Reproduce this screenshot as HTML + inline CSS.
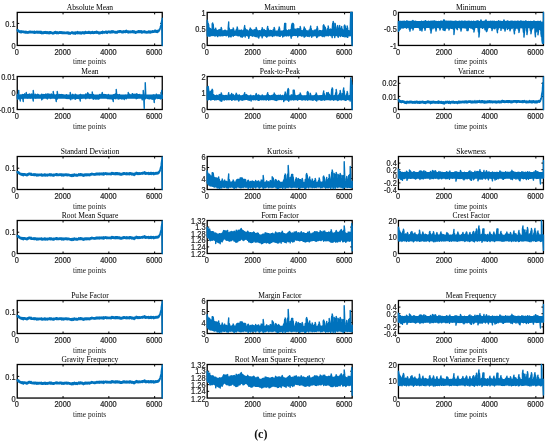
<!DOCTYPE html>
<html><head><meta charset="utf-8"><title>Figure (c)</title>
<style>
html,body{margin:0;padding:0;background:#fff;}
svg{display:block;}
.t{font-family:"Liberation Sans",sans-serif;font-size:7.4px;fill:#262626;stroke:#262626;stroke-width:0.2;}
.ti{font-family:"Liberation Serif",serif;font-size:7.55px;fill:#000;text-anchor:middle;}
.xl{font-family:"Liberation Serif",serif;font-size:7.4px;fill:#1a1a1a;text-anchor:middle;}
.ax{fill:none;stroke:#000;stroke-width:1.3;}
.tk{stroke:#000;stroke-width:1;fill:none;}
.b{fill:none;stroke:#0072BD;stroke-width:1.4;stroke-linejoin:round;stroke-linecap:round;}
.l{fill:none;stroke:#0072BD;stroke-width:1.4;stroke-linejoin:round;stroke-linecap:butt;}
.cap{font-family:"Liberation Serif",serif;font-weight:bold;font-size:12px;fill:#111;text-anchor:middle;}
</style></head>
<body>
<svg width="550" height="445" viewBox="0 0 550 445">
<rect x="0" y="0" width="550" height="445" fill="#ffffff"/>
<g>
<rect class="ax" x="17.25" y="12.40" width="145.00" height="33.05"/>
<text class="t" text-anchor="middle" transform="translate(16.85 54.85) scale(1 1.12)">0</text>
<text class="t" text-anchor="middle" transform="translate(62.65 54.85) scale(1 1.12)">2000</text>
<text class="t" text-anchor="middle" transform="translate(108.45 54.85) scale(1 1.12)">4000</text>
<text class="t" text-anchor="middle" transform="translate(154.25 54.85) scale(1 1.12)">6000</text>
<text class="t" text-anchor="end" transform="translate(15.55 49.40) scale(1 1.12)">0</text>
<text class="t" text-anchor="end" transform="translate(15.55 26.57) scale(1 1.12)">0.1</text>
<path class="tk" d="M63.05 45.45 v-2 M63.05 12.40 v2 M108.85 45.45 v-2 M108.85 12.40 v2 M154.65 45.45 v-2 M154.65 12.40 v2 M17.25 23.42 h2 M162.25 23.42 h-2"/>
<path class="l" d="M17.25 31.32 L17.25 29.50 L17.75 29.77 L17.75 31.57 L18.25 31.53 L18.25 30.03 L18.75 30.30 L18.75 31.71 L19.25 32.24 L19.25 30.94 L19.75 30.96 L19.75 32.28 L20.25 32.64 L20.25 30.93 L20.75 31.02 L20.75 32.33 L21.25 32.78 L21.25 30.81 L21.75 31.03 L21.75 32.56 L22.25 32.41 L22.25 31.04 L22.75 31.22 L22.75 32.43 L23.25 32.62 L23.25 31.29 L23.75 31.25 L23.75 32.66 L24.25 32.86 L24.25 31.45 L24.75 31.51 L24.75 32.88 L25.25 32.99 L25.25 31.76 L25.75 31.27 L25.75 32.98 L26.25 32.79 L26.25 31.47 L26.75 31.58 L26.75 32.96 L27.25 33.23 L27.25 31.68 L27.75 31.83 L27.75 33.14 L28.25 33.09 L28.25 31.91 L28.75 31.46 L28.75 32.98 L29.25 32.91 L29.25 31.32 L29.75 31.11 L29.75 32.85 L30.25 32.67 L30.25 31.53 L30.75 31.20 L30.75 32.92 L31.25 32.66 L31.25 31.36 L31.75 31.45 L31.75 32.77 L32.25 32.76 L32.25 31.33 L32.75 31.52 L32.75 32.90 L33.25 32.99 L33.25 31.49 L33.75 31.77 L33.75 33.12 L34.25 33.02 L34.25 31.12 L34.75 31.57 L34.75 33.38 L35.25 33.02 L35.25 31.64 L35.75 31.59 L35.75 32.98 L36.25 32.71 L36.25 31.31 L36.75 31.33 L36.75 33.10 L37.25 33.14 L37.25 31.68 L37.75 31.33 L37.75 32.90 L38.25 33.11 L38.25 31.73 L38.75 31.44 L38.75 33.14 L39.25 32.96 L39.25 31.39 L39.75 31.33 L39.75 32.86 L40.25 33.31 L40.25 31.32 L40.75 31.60 L40.75 33.12 L41.25 33.29 L41.25 31.42 L41.75 31.64 L41.75 33.81 L42.25 33.66 L42.25 32.00 L42.75 32.12 L42.75 33.49 L43.25 33.49 L43.25 32.20 L43.75 31.73 L43.75 33.49 L44.25 33.14 L44.25 31.73 L44.75 32.01 L44.75 33.28 L45.25 33.13 L45.25 31.55 L45.75 31.81 L45.75 33.07 L46.25 33.39 L46.25 31.62 L46.75 31.81 L46.75 33.22 L47.25 33.54 L47.25 31.77 L47.75 31.85 L47.75 33.30 L48.25 33.27 L48.25 31.92 L48.75 32.12 L48.75 33.77 L49.25 33.72 L49.25 31.93 L49.75 31.74 L49.75 33.31 L50.25 33.49 L50.25 31.72 L50.75 31.67 L50.75 33.38 L51.25 33.29 L51.25 32.07 L51.75 32.26 L51.75 33.58 L52.25 33.60 L52.25 32.44 L52.75 32.45 L52.75 33.96 L53.25 33.92 L53.25 32.28 L53.75 32.33 L53.75 33.74 L54.25 33.61 L54.25 31.98 L54.75 31.66 L54.75 33.29 L55.25 33.24 L55.25 31.37 L55.75 31.61 L55.75 33.23 L56.25 33.12 L56.25 31.82 L56.75 31.98 L56.75 33.72 L57.25 33.52 L57.25 31.82 L57.75 31.94 L57.75 33.33 L58.25 33.68 L58.25 32.22 L58.75 32.14 L58.75 33.46 L59.25 33.23 L59.25 31.70 L59.75 31.85 L59.75 33.31 L60.25 33.31 L60.25 31.91 L60.75 31.81 L60.75 33.39 L61.25 33.34 L61.25 32.13 L61.75 31.79 L61.75 33.57 L62.25 33.40 L62.25 31.94 L62.75 32.20 L62.75 33.65 L63.25 33.52 L63.25 32.32 L63.75 31.94 L63.75 33.45 L64.25 33.51 L64.25 31.99 L64.75 32.34 L64.75 33.67 L65.25 33.63 L65.25 32.37 L65.75 32.24 L65.75 33.53 L66.25 33.57 L66.25 32.34 L66.75 32.04 L66.75 33.36 L67.25 33.45 L67.25 31.90 L67.75 32.08 L67.75 33.82 L68.25 33.55 L68.25 32.01 L68.75 32.36 L68.75 34.17 L69.25 33.91 L69.25 32.47 L69.75 32.52 L69.75 33.86 L70.25 34.15 L70.25 32.85 L70.75 32.51 L70.75 33.83 L71.25 33.40 L71.25 32.21 L71.75 31.89 L71.75 33.28 L72.25 33.47 L72.25 31.97 L72.75 31.98 L72.75 33.68 L73.25 33.43 L73.25 32.10 L73.75 32.29 L73.75 34.04 L74.25 33.61 L74.25 32.20 L74.75 32.21 L74.75 33.64 L75.25 34.15 L75.25 31.94 L75.75 32.13 L75.75 33.48 L76.25 33.40 L76.25 32.15 L76.75 31.87 L76.75 33.56 L77.25 33.36 L77.25 32.17 L77.75 31.46 L77.75 33.76 L78.25 33.60 L78.25 31.92 L78.75 32.16 L78.75 33.65 L79.25 33.36 L79.25 32.19 L79.75 31.98 L79.75 33.77 L80.25 33.72 L80.25 32.01 L80.75 32.18 L80.75 33.52 L81.25 33.94 L81.25 32.36 L81.75 32.04 L81.75 33.31 L82.25 33.44 L82.25 31.76 L82.75 32.10 L82.75 33.52 L83.25 33.64 L83.25 31.86 L83.75 32.00 L83.75 33.74 L84.25 33.55 L84.25 32.00 L84.75 32.06 L84.75 33.76 L85.25 33.37 L85.25 31.46 L85.75 31.47 L85.75 33.41 L86.25 33.14 L86.25 31.83 L86.75 31.92 L86.75 33.28 L87.25 33.16 L87.25 31.82 L87.75 31.94 L87.75 33.30 L88.25 33.38 L88.25 31.62 L88.75 31.50 L88.75 33.35 L89.25 33.21 L89.25 31.54 L89.75 31.99 L89.75 33.37 L90.25 33.49 L90.25 32.14 L90.75 31.84 L90.75 33.55 L91.25 33.23 L91.25 31.81 L91.75 31.68 L91.75 33.18 L92.25 33.20 L92.25 31.46 L92.75 31.66 L92.75 32.90 L93.25 33.44 L93.25 31.87 L93.75 31.89 L93.75 33.33 L94.25 33.05 L94.25 31.89 L94.75 31.65 L94.75 33.34 L95.25 33.11 L95.25 31.69 L95.75 31.62 L95.75 33.03 L96.25 33.18 L96.25 31.13 L96.75 31.53 L96.75 32.92 L97.25 33.11 L97.25 31.46 L97.75 32.04 L97.75 33.24 L98.25 33.35 L98.25 31.97 L98.75 31.95 L98.75 33.88 L99.25 33.86 L99.25 32.34 L99.75 32.06 L99.75 33.71 L100.25 33.60 L100.25 32.14 L100.75 32.01 L100.75 33.53 L101.25 33.13 L101.25 31.59 L101.75 31.65 L101.75 33.06 L102.25 33.46 L102.25 31.55 L102.75 31.18 L102.75 33.10 L103.25 32.91 L103.25 31.69 L103.75 31.72 L103.75 32.99 L104.25 33.21 L104.25 31.58 L104.75 31.66 L104.75 32.88 L105.25 32.87 L105.25 31.45 L105.75 31.28 L105.75 32.87 L106.25 33.02 L106.25 31.40 L106.75 31.27 L106.75 33.36 L107.25 33.43 L107.25 31.58 L107.75 31.52 L107.75 32.90 L108.25 32.71 L108.25 30.98 L108.75 31.30 L108.75 32.45 L109.25 32.74 L109.25 31.42 L109.75 31.15 L109.75 32.47 L110.25 32.93 L110.25 31.16 L110.75 31.35 L110.75 32.90 L111.25 32.73 L111.25 31.28 L111.75 30.78 L111.75 32.34 L112.25 32.74 L112.25 30.99 L112.75 30.82 L112.75 32.42 L113.25 32.58 L113.25 30.99 L113.75 31.25 L113.75 32.53 L114.25 32.70 L114.25 31.38 L114.75 31.50 L114.75 32.84 L115.25 33.08 L115.25 31.41 L115.75 31.80 L115.75 33.07 L116.25 32.76 L116.25 31.57 L116.75 31.44 L116.75 33.05 L117.25 33.12 L117.25 31.45 L117.75 31.03 L117.75 32.53 L118.25 32.29 L118.25 31.01 L118.75 30.98 L118.75 32.37 L119.25 32.46 L119.25 30.66 L119.75 30.61 L119.75 32.07 L120.25 32.09 L120.25 30.61 L120.75 30.77 L120.75 32.34 L121.25 32.54 L121.25 31.34 L121.75 31.22 L121.75 32.77 L122.25 32.72 L122.25 31.33 L122.75 31.08 L122.75 32.49 L123.25 32.83 L123.25 30.70 L123.75 31.08 L123.75 32.23 L124.25 32.39 L124.25 31.03 L124.75 31.05 L124.75 32.49 L125.25 32.38 L125.25 30.75 L125.75 30.79 L125.75 32.52 L126.25 32.17 L126.25 30.27 L126.75 30.66 L126.75 32.16 L127.25 32.53 L127.25 31.04 L127.75 30.98 L127.75 32.55 L128.25 32.89 L128.25 31.13 L128.75 31.02 L128.75 32.77 L129.25 32.51 L129.25 31.21 L129.75 31.15 L129.75 32.64 L130.25 32.73 L130.25 31.03 L130.75 31.23 L130.75 32.63 L131.25 32.52 L131.25 31.23 L131.75 31.20 L131.75 32.66 L132.25 32.46 L132.25 30.91 L132.75 30.64 L132.75 32.34 L133.25 32.74 L133.25 31.13 L133.75 30.93 L133.75 32.33 L134.25 32.46 L134.25 30.98 L134.75 31.13 L134.75 32.98 L135.25 32.69 L135.25 31.40 L135.75 31.58 L135.75 33.38 L136.25 32.85 L136.25 31.64 L136.75 31.42 L136.75 32.70 L137.25 32.58 L137.25 31.29 L137.75 30.96 L137.75 32.56 L138.25 32.31 L138.25 30.96 L138.75 30.72 L138.75 32.27 L139.25 32.49 L139.25 30.77 L139.75 30.86 L139.75 32.49 L140.25 32.38 L140.25 30.72 L140.75 31.18 L140.75 32.52 L141.25 32.65 L141.25 30.59 L141.75 31.38 L141.75 33.13 L142.25 32.70 L142.25 31.14 L142.75 31.46 L142.75 32.69 L143.25 32.62 L143.25 31.20 L143.75 31.38 L143.75 32.62 L144.25 32.62 L144.25 30.82 L144.75 31.15 L144.75 32.73 L145.25 32.79 L145.25 31.30 L145.75 31.33 L145.75 32.86 L146.25 32.99 L146.25 31.56 L146.75 31.63 L146.75 32.89 L147.25 32.86 L147.25 31.54 L147.75 31.36 L147.75 32.98 L148.25 32.75 L148.25 31.15 L148.75 31.01 L148.75 32.57 L149.25 32.78 L149.25 31.23 L149.75 31.49 L149.75 32.77 L150.25 33.13 L150.25 31.02 L150.75 31.47 L150.75 32.75 L151.25 32.61 L151.25 31.34 L151.75 31.09 L151.75 32.34 L152.25 32.51 L152.25 30.65 L152.75 30.97 L152.75 32.39 L153.25 32.39 L153.25 30.88 L153.75 30.93 L153.75 32.12 L154.25 32.31 L154.25 30.83 L154.75 30.17 L154.75 31.89 L155.25 31.81 L155.25 30.39 L155.75 30.27 L155.75 32.29 L156.25 32.05 L156.25 30.61 L156.75 30.59 L156.75 31.91 L157.25 32.42 L157.25 30.33 L157.75 30.69 L157.75 32.21 L158.25 31.86 L158.25 30.48 L158.75 30.24 L158.75 31.56 L159.25 30.69 L159.25 29.45 L159.75 28.70 L159.75 29.90 L160.25 28.55 L160.25 27.12 L160.75 25.50 L160.75 27.17 L161.25 24.56 L161.25 23.20 L161.75 20.28 L161.75 21.75 L162.25 45.45 L162.25 17.71"/>
<text class="ti" x="89.95" y="9.80">Absolute Mean</text>
<text class="xl" x="89.55" y="64.45">time points</text>
</g>
<g>
<rect class="ax" x="207.20" y="12.40" width="145.00" height="33.05"/>
<text class="t" text-anchor="middle" transform="translate(206.80 54.85) scale(1 1.12)">0</text>
<text class="t" text-anchor="middle" transform="translate(252.60 54.85) scale(1 1.12)">2000</text>
<text class="t" text-anchor="middle" transform="translate(298.40 54.85) scale(1 1.12)">4000</text>
<text class="t" text-anchor="middle" transform="translate(344.20 54.85) scale(1 1.12)">6000</text>
<text class="t" text-anchor="end" transform="translate(205.50 49.40) scale(1 1.12)">0</text>
<text class="t" text-anchor="end" transform="translate(205.50 32.07) scale(1 1.12)">0.5</text>
<text class="t" text-anchor="end" transform="translate(205.50 15.95) scale(1 1.12)">1</text>
<path class="tk" d="M253.00 45.45 v-2 M253.00 12.40 v2 M298.80 45.45 v-2 M298.80 12.40 v2 M344.60 45.45 v-2 M344.60 12.40 v2 M207.20 28.92 h2 M352.20 28.92 h-2"/>
<path class="b" d="M207.20 35.34 L207.20 20.26 L207.70 22.24 L207.70 36.19 L208.20 35.21 L208.20 23.35 L208.70 25.29 L208.70 35.22 L209.20 36.29 L209.20 27.68 L209.70 28.18 L209.70 35.29 L210.20 35.43 L210.20 28.60 L210.70 28.99 L210.70 35.96 L211.20 35.25 L211.20 29.51 L211.70 29.33 L211.70 35.01 L212.20 35.53 L212.20 23.77 L212.70 23.00 L212.70 35.26 L213.20 35.37 L213.20 24.31 L213.70 30.50 L213.70 35.21 L214.20 35.64 L214.20 30.41 L214.70 29.45 L214.70 35.41 L215.20 36.02 L215.20 30.18 L215.70 28.30 L215.70 35.28 L216.20 35.17 L216.20 29.80 L216.70 30.83 L216.70 35.46 L217.20 35.88 L217.20 30.92 L217.70 30.53 L217.70 36.65 L218.20 35.19 L218.20 30.95 L218.70 29.94 L218.70 35.05 L219.20 35.29 L219.20 29.51 L219.70 30.45 L219.70 35.82 L220.20 35.56 L220.20 31.01 L220.70 29.28 L220.70 35.88 L221.20 35.44 L221.20 27.53 L221.70 29.29 L221.70 35.25 L222.20 35.59 L222.20 31.05 L222.70 31.05 L222.70 35.84 L223.20 35.60 L223.20 31.06 L223.70 31.07 L223.70 35.02 L224.20 35.24 L224.20 30.34 L224.70 30.62 L224.70 35.37 L225.20 35.25 L225.20 30.08 L225.70 30.85 L225.70 35.10 L226.20 35.68 L226.20 30.93 L226.70 30.84 L226.70 35.01 L227.20 35.40 L227.20 31.07 L227.70 31.07 L227.70 35.02 L228.20 35.22 L228.20 28.04 L228.70 21.96 L228.70 36.97 L229.20 36.64 L229.20 28.04 L229.70 30.66 L229.70 35.33 L230.20 35.08 L230.20 30.21 L230.70 30.03 L230.70 36.79 L231.20 36.76 L231.20 30.40 L231.70 29.83 L231.70 35.28 L232.20 35.04 L232.20 30.71 L232.70 29.48 L232.70 35.08 L233.20 36.37 L233.20 27.87 L233.70 29.48 L233.70 35.06 L234.20 35.34 L234.20 30.95 L234.70 31.08 L234.70 35.20 L235.20 35.16 L235.20 31.08 L235.70 30.99 L235.70 35.06 L236.20 35.00 L236.20 29.84 L236.70 29.08 L236.70 35.11 L237.20 35.56 L237.20 27.07 L237.70 29.08 L237.70 35.24 L238.20 35.73 L238.20 30.81 L238.70 31.08 L238.70 35.37 L239.20 35.76 L239.20 30.26 L239.70 30.95 L239.70 35.13 L240.20 35.16 L240.20 30.59 L240.70 31.08 L240.70 36.74 L241.20 36.46 L241.20 30.00 L241.70 30.71 L241.70 35.51 L242.20 37.32 L242.20 31.08 L242.70 31.08 L242.70 36.21 L243.20 36.26 L243.20 30.09 L243.70 30.86 L243.70 35.45 L244.20 35.08 L244.20 28.32 L244.70 25.57 L244.70 35.60 L245.20 37.00 L245.20 28.32 L245.70 30.33 L245.70 35.35 L246.20 35.46 L246.20 29.75 L246.70 30.67 L246.70 35.07 L247.20 35.25 L247.20 30.04 L247.70 30.83 L247.70 35.10 L248.20 36.42 L248.20 31.08 L248.70 31.08 L248.70 38.23 L249.20 36.35 L249.20 31.04 L249.70 29.58 L249.70 35.72 L250.20 35.47 L250.20 28.07 L250.70 29.58 L250.70 35.28 L251.20 35.21 L251.20 29.38 L251.70 30.47 L251.70 35.85 L252.20 35.03 L252.20 31.08 L252.70 30.27 L252.70 36.28 L253.20 35.29 L253.20 30.96 L253.70 30.79 L253.70 35.22 L254.20 35.89 L254.20 29.48 L254.70 30.52 L254.70 35.38 L255.20 36.51 L255.20 30.43 L255.70 29.33 L255.70 35.46 L256.20 36.31 L256.20 27.57 L256.70 29.33 L256.70 35.44 L257.20 36.99 L257.20 30.74 L257.70 30.44 L257.70 35.18 L258.20 35.20 L258.20 31.05 L258.70 31.08 L258.70 37.99 L259.20 36.11 L259.20 30.96 L259.70 30.68 L259.70 35.11 L260.20 35.81 L260.20 31.08 L260.70 30.94 L260.70 35.33 L261.20 35.08 L261.20 31.08 L261.70 29.43 L261.70 35.81 L262.20 37.86 L262.20 27.77 L262.70 29.43 L262.70 36.12 L263.20 35.84 L263.20 30.74 L263.70 31.08 L263.70 35.32 L264.20 35.05 L264.20 29.56 L264.70 30.57 L264.70 35.13 L265.20 35.90 L265.20 31.08 L265.70 30.79 L265.70 35.50 L266.20 36.31 L266.20 31.02 L266.70 31.08 L266.70 37.16 L267.20 36.51 L267.20 28.77 L267.70 26.47 L267.70 35.71 L268.20 35.14 L268.20 28.77 L268.70 30.47 L268.70 35.86 L269.20 35.37 L269.20 30.67 L269.70 31.08 L269.70 35.90 L270.20 35.39 L270.20 30.51 L270.70 30.41 L270.70 35.46 L271.20 35.58 L271.20 30.59 L271.70 31.08 L271.70 35.19 L272.20 36.30 L272.20 31.08 L272.70 31.08 L272.70 36.45 L273.20 35.52 L273.20 29.75 L273.70 29.23 L273.70 35.50 L274.20 35.55 L274.20 27.37 L274.70 29.23 L274.70 35.82 L275.20 35.27 L275.20 31.08 L275.70 31.08 L275.70 35.10 L276.20 35.07 L276.20 31.08 L276.70 31.08 L276.70 35.68 L277.20 35.35 L277.20 31.08 L277.70 31.08 L277.70 35.59 L278.20 35.94 L278.20 31.08 L278.70 29.08 L278.70 35.64 L279.20 35.16 L279.20 27.07 L279.70 29.08 L279.70 36.22 L280.20 36.40 L280.20 31.08 L280.70 31.08 L280.70 35.14 L281.20 35.17 L281.20 31.08 L281.70 31.08 L281.70 35.17 L282.20 35.40 L282.20 31.08 L282.70 31.08 L282.70 37.08 L283.20 35.57 L283.20 31.08 L283.70 30.44 L283.70 35.21 L284.20 36.01 L284.20 29.79 L284.70 23.37 L284.70 35.92 L285.20 35.31 L285.20 23.37 L285.70 23.37 L285.70 35.28 L286.20 35.55 L286.20 29.79 L286.70 31.08 L286.70 36.01 L287.20 35.68 L287.20 30.79 L287.70 31.08 L287.70 35.06 L288.20 35.04 L288.20 31.08 L288.70 29.88 L288.70 35.92 L289.20 35.22 L289.20 30.74 L289.70 30.57 L289.70 35.07 L290.20 35.17 L290.20 29.74 L290.70 30.67 L290.70 35.95 L291.20 38.17 L291.20 31.08 L291.70 24.82 L291.70 36.51 L292.20 35.06 L292.20 23.57 L292.70 23.57 L292.70 35.66 L293.20 35.27 L293.20 23.57 L293.70 24.82 L293.70 35.39 L294.20 35.41 L294.20 28.61 L294.70 30.05 L294.70 35.29 L295.20 35.21 L295.20 31.08 L295.70 29.19 L295.70 35.60 L296.20 35.28 L296.20 30.37 L296.70 30.45 L296.70 35.25 L297.20 35.14 L297.20 28.47 L297.70 29.97 L297.70 36.98 L298.20 35.34 L298.20 31.08 L298.70 28.68 L298.70 35.33 L299.20 35.35 L299.20 30.08 L299.70 28.82 L299.70 35.59 L300.20 35.12 L300.20 26.57 L300.70 28.82 L300.70 35.07 L301.20 36.03 L301.20 30.43 L301.70 31.08 L301.70 36.06 L302.20 35.13 L302.20 30.82 L302.70 31.08 L302.70 35.80 L303.20 35.18 L303.20 31.08 L303.70 29.08 L303.70 35.27 L304.20 37.19 L304.20 27.07 L304.70 29.08 L304.70 35.81 L305.20 36.43 L305.20 28.84 L305.70 30.17 L305.70 35.16 L306.20 35.45 L306.20 31.08 L306.70 30.84 L306.70 35.13 L307.20 36.27 L307.20 31.08 L307.70 30.98 L307.70 35.03 L308.20 36.09 L308.20 31.08 L308.70 31.08 L308.70 35.76 L309.20 36.54 L309.20 30.06 L309.70 30.84 L309.70 36.03 L310.20 35.12 L310.20 28.57 L310.70 26.07 L310.70 35.54 L311.20 35.83 L311.20 28.57 L311.70 31.08 L311.70 37.23 L312.20 35.63 L312.20 30.70 L312.70 31.08 L312.70 35.24 L313.20 35.94 L313.20 31.08 L313.70 31.08 L313.70 35.01 L314.20 35.49 L314.20 30.32 L314.70 30.71 L314.70 35.59 L315.20 35.20 L315.20 30.03 L315.70 30.34 L315.70 35.30 L316.20 36.26 L316.20 31.00 L316.70 28.82 L316.70 37.57 L317.20 35.09 L317.20 26.57 L317.70 28.82 L317.70 36.71 L318.20 35.33 L318.20 31.08 L318.70 31.08 L318.70 35.42 L319.20 35.77 L319.20 31.08 L319.70 30.54 L319.70 35.51 L320.20 35.54 L320.20 30.62 L320.70 31.08 L320.70 35.41 L321.20 35.20 L321.20 31.08 L321.70 31.08 L321.70 35.26 L322.20 36.62 L322.20 30.39 L322.70 31.02 L322.70 35.59 L323.20 36.08 L323.20 25.82 L323.70 24.77 L323.70 35.28 L324.20 36.66 L324.20 25.82 L324.70 29.92 L324.70 35.49 L325.20 35.20 L325.20 27.29 L325.70 29.32 L325.70 35.74 L326.20 35.18 L326.20 31.08 L326.70 31.08 L326.70 35.50 L327.20 35.43 L327.20 30.13 L327.70 28.57 L327.70 35.04 L328.20 35.94 L328.20 26.07 L328.70 28.57 L328.70 35.15 L329.20 35.04 L329.20 31.08 L329.70 29.75 L329.70 35.20 L330.20 35.48 L330.20 29.62 L330.70 29.08 L330.70 35.46 L331.20 35.59 L331.20 29.53 L331.70 30.55 L331.70 35.10 L332.20 37.65 L332.20 29.92 L332.70 23.15 L332.70 35.64 L333.20 35.60 L333.20 21.56 L333.70 23.15 L333.70 35.08 L334.20 35.03 L334.20 29.77 L334.70 27.32 L334.70 37.53 L335.20 35.14 L335.20 23.57 L335.70 27.32 L335.70 35.18 L336.20 35.20 L336.20 29.68 L336.70 30.63 L336.70 35.18 L337.20 35.74 L337.20 28.32 L337.70 25.57 L337.70 35.78 L338.20 37.22 L338.20 28.32 L338.70 30.72 L338.70 35.06 L339.20 35.94 L339.20 28.32 L339.70 25.57 L339.70 35.34 L340.20 35.22 L340.20 28.32 L340.70 31.08 L340.70 36.59 L341.20 35.30 L341.20 28.82 L341.70 26.57 L341.70 35.10 L342.20 35.19 L342.20 28.82 L342.70 29.54 L342.70 36.42 L343.20 36.19 L343.20 30.56 L343.70 31.08 L343.70 35.64 L344.20 36.81 L344.20 26.07 L344.70 25.07 L344.70 35.18 L345.20 35.65 L345.20 26.07 L345.70 30.78 L345.70 36.80 L346.20 35.17 L346.20 31.08 L346.70 28.57 L346.70 35.10 L347.20 37.19 L347.20 26.07 L347.70 28.57 L347.70 37.31 L348.20 35.16 L348.20 31.04 L348.70 30.70 L348.70 35.35 L349.20 35.57 L349.20 31.08 L349.70 30.94 L349.70 35.71 L350.20 35.77 L350.20 30.74 L350.70 12.40 L350.70 35.39 L351.20 35.04 L351.20 12.40 L351.70 12.40 L351.70 37.47 L352.20 45.45 L352.20 12.40"/>
<text class="ti" x="279.90" y="9.80">Maximum</text>
<text class="xl" x="279.50" y="64.45">time points</text>
</g>
<g>
<rect class="ax" x="398.45" y="12.40" width="145.00" height="33.05"/>
<text class="t" text-anchor="middle" transform="translate(398.05 54.85) scale(1 1.12)">0</text>
<text class="t" text-anchor="middle" transform="translate(443.85 54.85) scale(1 1.12)">2000</text>
<text class="t" text-anchor="middle" transform="translate(489.65 54.85) scale(1 1.12)">4000</text>
<text class="t" text-anchor="middle" transform="translate(535.45 54.85) scale(1 1.12)">6000</text>
<text class="t" text-anchor="end" transform="translate(396.75 49.40) scale(1 1.12)">-1</text>
<text class="t" text-anchor="end" transform="translate(396.75 32.07) scale(1 1.12)">-0.5</text>
<text class="t" text-anchor="end" transform="translate(396.75 15.95) scale(1 1.12)">0</text>
<path class="tk" d="M444.25 45.45 v-2 M444.25 12.40 v2 M490.05 45.45 v-2 M490.05 12.40 v2 M535.85 45.45 v-2 M535.85 12.40 v2 M398.45 28.92 h2 M543.45 28.92 h-2"/>
<path class="b" d="M398.45 31.38 L398.45 21.73 L398.95 21.61 L398.95 30.57 L399.45 29.94 L399.45 21.64 L399.95 21.22 L399.95 29.30 L400.45 28.37 L400.45 21.48 L400.95 21.68 L400.95 28.02 L401.45 27.90 L401.45 21.71 L401.95 21.45 L401.95 27.76 L402.45 27.76 L402.45 21.61 L402.95 21.30 L402.95 27.97 L403.45 27.91 L403.45 21.53 L403.95 21.56 L403.95 27.57 L404.45 27.32 L404.45 21.30 L404.95 21.39 L404.95 27.32 L405.45 27.32 L405.45 21.58 L405.95 21.77 L405.95 27.32 L406.45 28.18 L406.45 21.36 L406.95 20.85 L406.95 27.86 L407.45 27.32 L407.45 21.28 L407.95 21.60 L407.95 27.32 L408.45 27.32 L408.45 21.37 L408.95 21.45 L408.95 27.32 L409.45 29.52 L409.45 21.61 L409.95 21.52 L409.95 31.13 L410.45 27.32 L410.45 21.64 L410.95 21.54 L410.95 27.32 L411.45 28.00 L411.45 21.44 L411.95 21.60 L411.95 27.32 L412.45 28.39 L412.45 21.03 L412.95 20.45 L412.95 29.99 L413.45 28.39 L413.45 21.06 L413.95 21.33 L413.95 27.32 L414.45 27.32 L414.45 21.54 L414.95 21.75 L414.95 27.32 L415.45 27.32 L415.45 21.18 L415.95 21.39 L415.95 27.32 L416.45 27.32 L416.45 21.58 L416.95 21.69 L416.95 27.32 L417.45 27.32 L417.45 21.61 L417.95 21.59 L417.95 27.32 L418.45 27.32 L418.45 21.68 L418.95 21.74 L418.95 27.32 L419.45 28.53 L419.45 21.63 L419.95 21.71 L419.95 30.28 L420.45 28.53 L420.45 21.79 L420.95 21.46 L420.95 29.87 L421.45 27.32 L421.45 21.24 L421.95 21.49 L421.95 30.99 L422.45 27.32 L422.45 21.76 L422.95 21.61 L422.95 27.32 L423.45 27.32 L423.45 21.70 L423.95 21.35 L423.95 27.32 L424.45 28.52 L424.45 21.52 L424.95 21.63 L424.95 30.28 L425.45 28.52 L425.45 20.60 L425.95 21.14 L425.95 27.32 L426.45 27.32 L426.45 21.60 L426.95 21.75 L426.95 27.32 L427.45 27.32 L427.45 21.57 L427.95 21.68 L427.95 27.32 L428.45 27.32 L428.45 21.08 L428.95 21.40 L428.95 27.32 L429.45 27.32 L429.45 21.69 L429.95 21.73 L429.95 27.32 L430.45 29.93 L430.45 21.40 L430.95 21.27 L430.95 33.08 L431.45 29.93 L431.45 21.39 L431.95 21.58 L431.95 27.32 L432.45 27.32 L432.45 21.22 L432.95 21.48 L432.95 28.68 L433.45 27.34 L433.45 21.67 L433.95 20.88 L433.95 27.32 L434.45 27.32 L434.45 20.95 L434.95 21.33 L434.95 27.32 L435.45 28.87 L435.45 21.47 L435.95 21.62 L435.95 30.98 L436.45 28.87 L436.45 21.55 L436.95 21.67 L436.95 27.32 L437.45 27.32 L437.45 21.75 L437.95 21.59 L437.95 27.32 L438.45 27.32 L438.45 21.55 L438.95 21.61 L438.95 27.32 L439.45 28.37 L439.45 21.59 L439.95 21.69 L439.95 29.98 L440.45 28.37 L440.45 21.15 L440.95 21.44 L440.95 27.32 L441.45 27.61 L441.45 21.21 L441.95 21.48 L441.95 27.32 L442.45 27.32 L442.45 21.45 L442.95 21.61 L442.95 29.76 L443.45 27.32 L443.45 21.48 L443.95 19.61 L443.95 30.29 L444.45 28.62 L444.45 20.60 L444.95 20.99 L444.95 30.48 L445.45 28.62 L445.45 21.36 L445.95 21.71 L445.95 27.32 L446.45 27.41 L446.45 21.31 L446.95 21.31 L446.95 28.29 L447.45 27.32 L447.45 21.53 L447.95 21.33 L447.95 27.65 L448.45 28.37 L448.45 21.55 L448.95 21.23 L448.95 29.98 L449.45 28.37 L449.45 21.49 L449.95 21.73 L449.95 27.32 L450.45 27.32 L450.45 21.19 L450.95 21.46 L450.95 28.40 L451.45 28.40 L451.45 21.27 L451.95 21.51 L451.95 28.40 L452.45 27.32 L452.45 21.44 L452.95 21.37 L452.95 27.32 L453.45 29.34 L453.45 21.57 L453.95 21.72 L453.95 34.48 L454.45 29.34 L454.45 21.75 L454.95 21.14 L454.95 27.32 L455.45 27.32 L455.45 21.41 L455.95 21.15 L455.95 27.37 L456.45 28.75 L456.45 21.44 L456.95 21.48 L456.95 27.32 L457.45 29.65 L457.45 21.62 L457.95 21.59 L457.95 27.32 L458.45 27.32 L458.45 21.55 L458.95 21.67 L458.95 27.32 L459.45 27.57 L459.45 21.19 L459.95 21.46 L459.95 27.32 L460.45 28.87 L460.45 21.57 L460.95 21.68 L460.95 30.98 L461.45 28.87 L461.45 21.79 L461.95 20.99 L461.95 27.32 L462.45 27.32 L462.45 21.36 L462.95 21.42 L462.95 27.84 L463.45 27.32 L463.45 21.59 L463.95 21.40 L463.95 27.66 L464.45 27.44 L464.45 21.49 L464.95 21.03 L464.95 28.04 L465.45 27.32 L465.45 21.38 L465.95 21.65 L465.95 27.32 L466.45 28.25 L466.45 21.77 L466.95 21.38 L466.95 30.52 L467.45 28.62 L467.45 21.57 L467.95 21.53 L467.95 30.48 L468.45 28.62 L468.45 21.21 L468.95 21.47 L468.95 27.32 L469.45 27.32 L469.45 21.29 L469.95 21.49 L469.95 27.32 L470.45 27.32 L470.45 21.62 L470.95 21.70 L470.95 28.25 L471.45 27.32 L471.45 21.26 L471.95 21.51 L471.95 27.74 L472.45 28.74 L472.45 21.69 L472.95 21.75 L472.95 27.32 L473.45 29.38 L473.45 21.09 L473.95 21.41 L473.95 31.98 L474.45 29.38 L474.45 21.61 L474.95 21.70 L474.95 27.32 L475.45 27.45 L475.45 21.57 L475.95 21.45 L475.95 27.32 L476.45 27.32 L476.45 21.61 L476.95 20.97 L476.95 27.32 L477.45 27.52 L477.45 21.34 L477.95 20.73 L477.95 27.32 L478.45 31.88 L478.45 21.22 L478.95 21.54 L478.95 36.99 L479.45 31.88 L479.45 21.66 L479.95 21.74 L479.95 27.85 L480.45 27.32 L480.45 21.59 L480.95 19.96 L480.95 27.32 L481.45 27.32 L481.45 20.79 L481.95 21.68 L481.95 27.32 L482.45 28.39 L482.45 21.74 L482.95 21.77 L482.95 27.53 L483.45 27.32 L483.45 21.56 L483.95 21.61 L483.95 27.78 L484.45 27.32 L484.45 21.22 L484.95 21.48 L484.95 29.82 L485.45 27.32 L485.45 21.71 L485.95 19.92 L485.95 27.32 L486.45 31.66 L486.45 20.77 L486.95 21.54 L486.95 30.98 L487.45 28.87 L487.45 21.69 L487.95 21.74 L487.95 28.12 L488.45 27.32 L488.45 21.39 L488.95 21.58 L488.95 27.32 L489.45 27.32 L489.45 21.67 L489.95 21.48 L489.95 27.32 L490.45 27.32 L490.45 21.26 L490.95 21.42 L490.95 27.32 L491.45 28.62 L491.45 21.59 L491.95 21.35 L491.95 30.48 L492.45 28.62 L492.45 21.56 L492.95 21.48 L492.95 27.32 L493.45 27.32 L493.45 21.62 L493.95 21.24 L493.95 28.61 L494.45 27.32 L494.45 21.27 L494.95 21.51 L494.95 28.89 L495.45 27.32 L495.45 21.70 L495.95 21.76 L495.95 27.32 L496.45 27.32 L496.45 21.57 L496.95 21.59 L496.95 29.73 L497.45 32.68 L497.45 21.69 L497.95 21.55 L497.95 29.73 L498.45 27.32 L498.45 20.62 L498.95 21.15 L498.95 27.53 L499.45 27.32 L499.45 21.53 L499.95 21.34 L499.95 27.32 L500.45 27.84 L500.45 21.35 L500.95 21.56 L500.95 30.39 L501.45 27.32 L501.45 21.65 L501.95 21.51 L501.95 27.32 L502.45 27.49 L502.45 21.64 L502.95 21.74 L502.95 28.55 L503.45 27.32 L503.45 21.77 L503.95 19.98 L503.95 27.32 L504.45 29.01 L504.45 20.80 L504.95 21.53 L504.95 31.12 L505.45 29.03 L505.45 21.70 L505.95 21.77 L505.95 27.36 L506.45 27.32 L506.45 21.46 L506.95 21.62 L506.95 27.32 L507.45 29.43 L507.45 20.87 L507.95 21.29 L507.95 27.32 L508.45 28.29 L508.45 21.68 L508.95 21.50 L508.95 27.32 L509.45 28.87 L509.45 21.64 L509.95 21.59 L509.95 30.74 L510.45 28.89 L510.45 21.28 L510.95 21.52 L510.95 27.48 L511.45 27.32 L511.45 21.61 L511.95 21.05 L511.95 28.57 L512.45 27.55 L512.45 21.39 L512.95 21.56 L512.95 27.32 L513.45 27.32 L513.45 21.67 L513.95 21.40 L513.95 30.48 L514.45 33.84 L514.45 21.58 L514.95 21.22 L514.95 30.50 L515.45 27.32 L515.45 21.48 L515.95 21.63 L515.95 28.03 L516.45 27.37 L516.45 21.51 L516.95 21.64 L516.95 28.08 L517.45 27.39 L517.45 21.66 L517.95 20.96 L517.95 27.32 L518.45 29.83 L518.45 21.34 L518.95 21.57 L518.95 32.44 L519.45 29.85 L519.45 21.68 L519.95 21.52 L519.95 27.32 L520.45 27.70 L520.45 21.65 L520.95 20.84 L520.95 27.32 L521.45 27.65 L521.45 21.28 L521.95 21.54 L521.95 27.32 L522.45 27.93 L522.45 21.36 L522.95 21.45 L522.95 27.32 L523.45 32.19 L523.45 21.37 L523.95 21.54 L523.95 37.06 L524.45 32.21 L524.45 21.66 L524.95 21.47 L524.95 27.37 L525.45 27.38 L525.45 20.88 L525.95 21.29 L525.95 27.39 L526.45 31.01 L526.45 21.29 L526.95 21.52 L526.95 34.62 L527.45 31.03 L527.45 21.58 L527.95 21.68 L527.95 27.44 L528.45 27.45 L528.45 21.55 L528.95 21.62 L528.95 27.46 L529.45 27.47 L529.45 21.63 L529.95 21.62 L529.95 27.48 L530.45 30.60 L530.45 21.41 L530.95 21.39 L530.95 33.71 L531.45 30.62 L531.45 21.58 L531.95 21.73 L531.95 28.90 L532.45 28.75 L532.45 21.63 L532.95 21.71 L532.95 27.72 L533.45 27.69 L533.45 21.53 L533.95 21.02 L533.95 27.57 L534.45 27.58 L534.45 21.37 L534.95 21.78 L534.95 32.20 L535.45 36.82 L535.45 21.78 L535.95 21.66 L535.95 32.22 L536.45 27.63 L536.45 21.72 L536.95 21.78 L536.95 30.93 L537.45 31.26 L537.45 21.49 L537.95 21.54 L537.95 34.87 L538.45 31.28 L538.45 21.66 L538.95 21.54 L538.95 29.39 L539.45 29.31 L539.45 21.78 L539.95 21.84 L539.95 28.30 L540.45 29.98 L540.45 21.21 L540.95 22.04 L540.95 33.29 L541.45 36.61 L541.45 22.39 L541.95 23.13 L541.95 39.93 L542.45 43.25 L542.45 22.09 L542.95 22.95 L542.95 43.25 L543.45 43.25 L543.45 12.40"/>
<text class="ti" x="471.15" y="9.80">Minimum</text>
<text class="xl" x="470.75" y="64.45">time points</text>
</g>
<g>
<rect class="ax" x="17.25" y="76.50" width="145.00" height="33.00"/>
<text class="t" text-anchor="middle" transform="translate(16.85 118.90) scale(1 1.12)">0</text>
<text class="t" text-anchor="middle" transform="translate(62.65 118.90) scale(1 1.12)">2000</text>
<text class="t" text-anchor="middle" transform="translate(108.45 118.90) scale(1 1.12)">4000</text>
<text class="t" text-anchor="middle" transform="translate(154.25 118.90) scale(1 1.12)">6000</text>
<text class="t" text-anchor="end" transform="translate(15.55 113.45) scale(1 1.12)">-0.01</text>
<text class="t" text-anchor="end" transform="translate(15.55 96.15) scale(1 1.12)">0</text>
<text class="t" text-anchor="end" transform="translate(15.55 80.05) scale(1 1.12)">0.01</text>
<path class="tk" d="M63.05 109.50 v-2 M63.05 76.50 v2 M108.85 109.50 v-2 M108.85 76.50 v2 M154.65 109.50 v-2 M154.65 76.50 v2 M17.25 93.00 h2 M162.25 93.00 h-2"/>
<path class="b" d="M17.25 98.15 L17.25 95.04 L17.75 94.27 L17.75 99.34 L18.25 98.37 L18.25 95.05 L18.75 90.35 L18.75 98.17 L19.25 98.53 L19.25 95.15 L19.75 95.10 L19.75 98.43 L20.25 100.95 L20.25 95.15 L20.75 95.04 L20.75 98.15 L21.25 98.15 L21.25 94.83 L21.75 95.15 L21.75 98.55 L22.25 98.15 L22.25 95.15 L22.75 94.59 L22.75 98.15 L23.25 101.45 L23.25 94.58 L23.75 94.99 L23.75 98.15 L24.25 98.15 L24.25 95.11 L24.75 93.83 L24.75 98.15 L25.25 98.15 L25.25 94.62 L25.75 95.15 L25.75 98.15 L26.25 98.15 L26.25 92.55 L26.75 95.15 L26.75 98.15 L27.25 98.15 L27.25 94.69 L27.75 94.84 L27.75 98.20 L28.25 98.15 L28.25 94.81 L28.75 94.91 L28.75 98.15 L29.25 98.15 L29.25 93.87 L29.75 94.49 L29.75 98.15 L30.25 98.21 L30.25 94.89 L30.75 94.84 L30.75 98.15 L31.25 98.15 L31.25 94.07 L31.75 94.48 L31.75 98.15 L32.25 98.15 L32.25 94.27 L32.75 94.60 L32.75 98.15 L33.25 100.95 L33.25 90.55 L33.75 94.95 L33.75 98.15 L34.25 98.15 L34.25 95.07 L34.75 95.14 L34.75 98.15 L35.25 98.15 L35.25 94.32 L35.75 94.75 L35.75 98.28 L36.25 98.15 L36.25 94.95 L36.75 94.81 L36.75 98.15 L37.25 98.15 L37.25 94.72 L37.75 94.25 L37.75 98.15 L38.25 98.15 L38.25 94.55 L38.75 94.87 L38.75 98.15 L39.25 98.15 L39.25 95.14 L39.75 95.15 L39.75 98.15 L40.25 98.15 L40.25 95.15 L40.75 95.15 L40.75 98.15 L41.25 98.15 L41.25 95.15 L41.75 94.18 L41.75 99.92 L42.25 98.28 L42.25 94.59 L42.75 95.15 L42.75 98.81 L43.25 98.15 L43.25 94.85 L43.75 94.59 L43.75 98.15 L44.25 98.15 L44.25 94.68 L44.75 94.91 L44.75 98.15 L45.25 98.15 L45.25 94.82 L45.75 94.02 L45.75 98.15 L46.25 98.15 L46.25 94.47 L46.75 94.92 L46.75 98.29 L47.25 98.92 L47.25 94.02 L47.75 94.27 L47.75 98.15 L48.25 98.15 L48.25 94.07 L48.75 94.47 L48.75 98.15 L49.25 98.15 L49.25 94.68 L49.75 94.19 L49.75 98.15 L50.25 98.15 L50.25 94.68 L50.75 95.15 L50.75 98.48 L51.25 98.15 L51.25 93.94 L51.75 94.47 L51.75 98.15 L52.25 98.15 L52.25 95.15 L52.75 94.86 L52.75 98.15 L53.25 98.15 L53.25 91.55 L53.75 95.02 L53.75 98.15 L54.25 98.15 L54.25 95.15 L54.75 94.99 L54.75 98.15 L55.25 98.53 L55.25 95.15 L55.75 95.15 L55.75 98.15 L56.25 101.45 L56.25 95.15 L56.75 94.47 L56.75 98.30 L57.25 98.97 L57.25 91.55 L57.75 94.89 L57.75 98.15 L58.25 98.15 L58.25 95.06 L58.75 94.97 L58.75 98.15 L59.25 98.15 L59.25 94.54 L59.75 94.86 L59.75 98.15 L60.25 98.15 L60.25 94.73 L60.75 94.99 L60.75 98.15 L61.25 98.15 L61.25 94.48 L61.75 94.80 L61.75 98.15 L62.25 98.15 L62.25 94.66 L62.75 94.92 L62.75 98.15 L63.25 98.15 L63.25 95.15 L63.75 94.97 L63.75 98.15 L64.25 98.15 L64.25 95.15 L64.75 95.15 L64.75 98.15 L65.25 98.15 L65.25 95.15 L65.75 95.15 L65.75 98.19 L66.25 98.15 L66.25 94.69 L66.75 95.03 L66.75 98.34 L67.25 98.56 L67.25 95.15 L67.75 95.15 L67.75 98.15 L68.25 98.21 L68.25 95.15 L68.75 95.15 L68.75 98.46 L69.25 98.15 L69.25 95.15 L69.75 95.15 L69.75 98.71 L70.25 98.45 L70.25 92.55 L70.75 95.06 L70.75 99.70 L71.25 98.18 L71.25 95.15 L71.75 95.15 L71.75 98.15 L72.25 98.15 L72.25 95.10 L72.75 94.29 L72.75 98.79 L73.25 98.46 L73.25 94.89 L73.75 95.15 L73.75 98.16 L74.25 98.15 L74.25 95.15 L74.75 95.15 L74.75 98.48 L75.25 99.34 L75.25 94.27 L75.75 94.75 L75.75 98.86 L76.25 98.15 L76.25 95.05 L76.75 95.15 L76.75 98.27 L77.25 98.19 L77.25 95.15 L77.75 95.15 L77.75 98.15 L78.25 98.24 L78.25 95.15 L78.75 95.15 L78.75 98.62 L79.25 98.15 L79.25 95.15 L79.75 94.90 L79.75 98.15 L80.25 100.95 L80.25 94.41 L80.75 94.48 L80.75 98.15 L81.25 98.15 L81.25 94.80 L81.75 95.04 L81.75 98.40 L82.25 98.15 L82.25 94.94 L82.75 94.93 L82.75 98.15 L83.25 98.15 L83.25 94.89 L83.75 94.95 L83.75 98.15 L84.25 98.15 L84.25 94.97 L84.75 95.15 L84.75 98.15 L85.25 98.15 L85.25 95.08 L85.75 93.91 L85.75 98.71 L86.25 98.15 L86.25 94.41 L86.75 94.82 L86.75 98.15 L87.25 98.15 L87.25 95.00 L87.75 92.63 L87.75 98.15 L88.25 98.15 L88.25 93.74 L88.75 93.87 L88.75 98.15 L89.25 98.15 L89.25 94.51 L89.75 95.09 L89.75 98.49 L90.25 98.15 L90.25 95.15 L90.75 94.45 L90.75 98.15 L91.25 98.15 L91.25 94.98 L91.75 95.14 L91.75 98.15 L92.25 98.15 L92.25 92.05 L92.75 95.15 L92.75 98.15 L93.25 99.31 L93.25 95.15 L93.75 94.79 L93.75 98.44 L94.25 98.61 L94.25 95.15 L94.75 95.15 L94.75 98.57 L95.25 99.01 L95.25 95.15 L95.75 95.15 L95.75 98.72 L96.25 99.03 L96.25 95.15 L96.75 95.15 L96.75 98.47 L97.25 98.41 L97.25 95.15 L97.75 95.15 L97.75 98.96 L98.25 98.85 L98.25 95.15 L98.75 95.15 L98.75 99.06 L99.25 98.15 L99.25 95.15 L99.75 94.57 L99.75 98.18 L100.25 98.15 L100.25 94.96 L100.75 94.82 L100.75 98.15 L101.25 98.15 L101.25 94.30 L101.75 94.67 L101.75 98.15 L102.25 98.15 L102.25 92.35 L102.75 94.84 L102.75 98.15 L103.25 98.15 L103.25 94.77 L103.75 94.74 L103.75 98.15 L104.25 98.15 L104.25 94.84 L104.75 94.44 L104.75 98.15 L105.25 98.15 L105.25 94.69 L105.75 94.59 L105.75 98.15 L106.25 98.15 L106.25 94.89 L106.75 95.12 L106.75 98.15 L107.25 98.43 L107.25 95.14 L107.75 95.15 L107.75 98.15 L108.25 98.61 L108.25 94.34 L108.75 95.09 L108.75 98.61 L109.25 98.68 L109.25 95.15 L109.75 95.15 L109.75 98.23 L110.25 98.74 L110.25 95.15 L110.75 95.15 L110.75 98.49 L111.25 98.20 L111.25 95.15 L111.75 95.15 L111.75 98.54 L112.25 99.34 L112.25 95.15 L112.75 95.15 L112.75 98.95 L113.25 101.45 L113.25 94.71 L113.75 95.14 L113.75 98.18 L114.25 98.20 L114.25 94.61 L114.75 95.15 L114.75 98.46 L115.25 98.23 L115.25 93.92 L115.75 94.68 L115.75 98.82 L116.25 98.15 L116.25 89.45 L116.75 95.03 L116.75 98.15 L117.25 98.15 L117.25 95.15 L117.75 94.84 L117.75 98.15 L118.25 99.13 L118.25 95.15 L118.75 94.79 L118.75 98.45 L119.25 98.15 L119.25 94.45 L119.75 94.82 L119.75 98.87 L120.25 98.15 L120.25 95.15 L120.75 95.15 L120.75 98.15 L121.25 98.23 L121.25 95.15 L121.75 95.15 L121.75 99.08 L122.25 98.71 L122.25 95.15 L122.75 95.15 L122.75 98.60 L123.25 98.46 L123.25 95.15 L123.75 95.15 L123.75 98.32 L124.25 99.53 L124.25 95.15 L124.75 95.15 L124.75 98.19 L125.25 98.15 L125.25 95.02 L125.75 95.15 L125.75 98.49 L126.25 98.81 L126.25 95.15 L126.75 95.15 L126.75 98.15 L127.25 98.15 L127.25 95.12 L127.75 94.71 L127.75 98.15 L128.25 98.15 L128.25 92.55 L128.75 94.55 L128.75 98.15 L129.25 98.15 L129.25 94.67 L129.75 94.31 L129.75 98.15 L130.25 98.15 L130.25 94.82 L130.75 95.01 L130.75 98.15 L131.25 98.15 L131.25 95.11 L131.75 94.83 L131.75 98.15 L132.25 98.15 L132.25 93.60 L132.75 94.09 L132.75 98.15 L133.25 98.15 L133.25 94.96 L133.75 94.54 L133.75 98.15 L134.25 98.15 L134.25 94.82 L134.75 94.36 L134.75 98.15 L135.25 98.15 L135.25 94.65 L135.75 94.30 L135.75 98.15 L136.25 98.73 L136.25 94.74 L136.75 93.70 L136.75 98.15 L137.25 98.28 L137.25 94.43 L137.75 94.64 L137.75 98.15 L138.25 98.15 L138.25 94.78 L138.75 94.95 L138.75 98.15 L139.25 98.15 L139.25 95.13 L139.75 94.39 L139.75 98.15 L140.25 98.15 L140.25 94.95 L140.75 95.15 L140.75 98.15 L141.25 98.15 L141.25 95.01 L141.75 94.95 L141.75 98.15 L142.25 99.75 L142.25 94.91 L142.75 95.15 L142.75 98.93 L143.25 98.27 L143.25 90.55 L143.75 95.03 L143.75 98.27 L144.25 108.45 L144.25 95.08 L144.75 95.04 L144.75 98.15 L145.25 98.86 L145.25 82.75 L145.75 95.15 L145.75 98.15 L146.25 98.15 L146.25 95.15 L146.75 95.15 L146.75 98.15 L147.25 98.18 L147.25 95.15 L147.75 95.15 L147.75 98.45 L148.25 98.25 L148.25 95.15 L148.75 95.15 L148.75 98.86 L149.25 98.57 L149.25 95.15 L149.75 95.15 L149.75 98.73 L150.25 98.41 L150.25 95.15 L150.75 95.15 L150.75 98.46 L151.25 98.76 L151.25 95.15 L151.75 95.15 L151.75 99.00 L152.25 98.40 L152.25 95.15 L152.75 95.15 L152.75 99.20 L153.25 98.29 L153.25 94.63 L153.75 95.15 L153.75 98.24 L154.25 102.45 L154.25 95.15 L154.75 94.91 L154.75 98.15 L155.25 99.08 L155.25 95.15 L155.75 95.15 L155.75 98.15 L156.25 98.15 L156.25 94.08 L156.75 94.58 L156.75 98.15 L157.25 98.15 L157.25 95.15 L157.75 95.07 L157.75 98.55 L158.25 98.15 L158.25 94.87 L158.75 94.97 L158.75 98.15 L159.25 98.25 L159.25 95.05 L159.75 95.06 L159.75 98.44 L160.25 98.15 L160.25 95.14 L160.75 95.15 L160.75 98.97 L161.25 98.15 L161.25 94.12 L161.75 90.55 L161.75 98.15 L162.25 98.48 L162.25 94.96"/>
<text class="ti" x="89.95" y="73.90">Mean</text>
<text class="xl" x="89.55" y="128.50">time points</text>
</g>
<g>
<rect class="ax" x="207.20" y="76.50" width="145.00" height="33.00"/>
<text class="t" text-anchor="middle" transform="translate(206.80 118.90) scale(1 1.12)">0</text>
<text class="t" text-anchor="middle" transform="translate(252.60 118.90) scale(1 1.12)">2000</text>
<text class="t" text-anchor="middle" transform="translate(298.40 118.90) scale(1 1.12)">4000</text>
<text class="t" text-anchor="middle" transform="translate(344.20 118.90) scale(1 1.12)">6000</text>
<text class="t" text-anchor="end" transform="translate(205.50 113.45) scale(1 1.12)">0</text>
<text class="t" text-anchor="end" transform="translate(205.50 96.15) scale(1 1.12)">1</text>
<text class="t" text-anchor="end" transform="translate(205.50 80.05) scale(1 1.12)">2</text>
<path class="tk" d="M253.00 109.50 v-2 M253.00 76.50 v2 M298.80 109.50 v-2 M298.80 76.50 v2 M344.60 109.50 v-2 M344.60 76.50 v2 M207.20 93.00 h2 M352.20 93.00 h-2"/>
<path class="b" d="M207.20 99.28 L207.20 86.92 L207.70 89.18 L207.70 100.10 L208.20 99.65 L208.20 86.44 L208.70 90.65 L208.70 99.30 L209.20 99.24 L209.20 93.30 L209.70 93.09 L209.70 99.29 L210.20 99.30 L210.20 91.25 L210.70 93.39 L210.70 100.12 L211.20 99.32 L211.20 94.96 L211.70 90.21 L211.70 99.48 L212.20 99.30 L212.20 89.29 L212.70 90.60 L212.70 99.31 L213.20 99.40 L213.20 95.26 L213.70 94.75 L213.70 99.28 L214.20 99.44 L214.20 95.40 L214.70 95.72 L214.70 99.99 L215.20 99.36 L215.20 95.66 L215.70 95.86 L215.70 99.45 L216.20 99.74 L216.20 95.89 L216.70 95.14 L216.70 99.66 L217.20 99.38 L217.20 95.39 L217.70 95.86 L217.70 99.27 L218.20 99.24 L218.20 95.88 L218.70 95.81 L218.70 99.59 L219.20 99.29 L219.20 94.52 L219.70 95.22 L219.70 99.36 L220.20 100.85 L220.20 94.89 L220.70 94.42 L220.70 99.94 L221.20 101.04 L221.20 92.83 L221.70 94.44 L221.70 101.22 L222.20 99.56 L222.20 96.04 L222.70 95.57 L222.70 99.32 L223.20 99.45 L223.20 95.46 L223.70 95.92 L223.70 99.40 L224.20 100.19 L224.20 95.70 L224.70 96.05 L224.70 99.44 L225.20 99.23 L225.20 95.44 L225.70 95.91 L225.70 99.55 L226.20 99.28 L226.20 95.40 L226.70 95.89 L226.70 99.71 L227.20 99.23 L227.20 96.05 L227.70 95.95 L227.70 99.61 L228.20 99.47 L228.20 94.95 L228.70 92.75 L228.70 99.30 L229.20 99.68 L229.20 94.95 L229.70 96.04 L229.70 99.26 L230.20 99.43 L230.20 94.93 L230.70 95.63 L230.70 99.36 L231.20 99.36 L231.20 95.76 L231.70 93.52 L231.70 100.35 L232.20 99.83 L232.20 94.86 L232.70 95.74 L232.70 99.83 L233.20 99.28 L233.20 94.54 L233.70 95.28 L233.70 99.24 L234.20 99.44 L234.20 95.82 L234.70 96.05 L234.70 100.03 L235.20 99.61 L235.20 96.02 L235.70 94.60 L235.70 99.83 L236.20 99.43 L236.20 93.15 L236.70 94.60 L236.70 99.41 L237.20 99.70 L237.20 96.05 L237.70 95.33 L237.70 99.25 L238.20 99.69 L238.20 95.85 L238.70 96.05 L238.70 100.96 L239.20 99.26 L239.20 94.81 L239.70 95.57 L239.70 99.77 L240.20 99.58 L240.20 96.05 L240.70 96.05 L240.70 99.36 L241.20 99.82 L241.20 95.99 L241.70 95.90 L241.70 99.61 L242.20 100.38 L242.20 96.05 L242.70 95.42 L242.70 99.52 L243.20 99.72 L243.20 95.28 L243.70 95.83 L243.70 99.75 L244.20 99.26 L244.20 94.40 L244.70 92.75 L244.70 99.29 L245.20 99.50 L245.20 94.40 L245.70 96.01 L245.70 99.31 L246.20 99.36 L246.20 95.65 L246.70 94.56 L246.70 99.37 L247.20 99.38 L247.20 95.43 L247.70 96.05 L247.70 99.72 L248.20 99.23 L248.20 96.05 L248.70 96.02 L248.70 99.74 L249.20 100.37 L249.20 96.05 L249.70 95.94 L249.70 99.41 L250.20 99.73 L250.20 96.05 L250.70 95.15 L250.70 99.40 L251.20 100.93 L251.20 95.75 L251.70 96.05 L251.70 99.33 L252.20 99.30 L252.20 96.05 L252.70 96.05 L252.70 99.48 L253.20 99.78 L253.20 95.69 L253.70 96.05 L253.70 99.48 L254.20 99.52 L254.20 95.86 L254.70 96.05 L254.70 99.60 L255.20 99.47 L255.20 95.98 L255.70 94.80 L255.70 99.90 L256.20 99.38 L256.20 93.55 L256.70 94.80 L256.70 99.36 L257.20 99.41 L257.20 95.68 L257.70 96.05 L257.70 99.91 L258.20 100.30 L258.20 96.05 L258.70 94.90 L258.70 99.68 L259.20 100.31 L259.20 95.62 L259.70 96.05 L259.70 99.65 L260.20 99.51 L260.20 96.05 L260.70 96.05 L260.70 99.46 L261.20 99.26 L261.20 96.05 L261.70 96.05 L261.70 99.87 L262.20 99.24 L262.20 95.01 L262.70 95.67 L262.70 99.66 L263.20 99.65 L263.20 95.92 L263.70 96.05 L263.70 99.87 L264.20 99.33 L264.20 96.05 L264.70 96.05 L264.70 99.30 L265.20 99.57 L265.20 96.05 L265.70 96.05 L265.70 99.44 L266.20 100.13 L266.20 95.56 L266.70 95.98 L266.70 99.31 L267.20 99.29 L267.20 94.40 L267.70 92.75 L267.70 99.39 L268.20 99.57 L268.20 94.40 L268.70 95.86 L268.70 100.27 L269.20 99.28 L269.20 95.81 L269.70 95.74 L269.70 99.26 L270.20 99.64 L270.20 96.01 L270.70 96.05 L270.70 99.43 L271.20 99.33 L271.20 95.69 L271.70 96.05 L271.70 99.45 L272.20 99.23 L272.20 95.15 L272.70 95.75 L272.70 99.56 L273.20 99.29 L273.20 95.93 L273.70 94.55 L273.70 99.32 L274.20 99.46 L274.20 93.05 L274.70 94.55 L274.70 99.97 L275.20 99.28 L275.20 96.05 L275.70 95.10 L275.70 100.24 L276.20 100.07 L276.20 95.50 L276.70 95.90 L276.70 100.53 L277.20 99.39 L277.20 95.85 L277.70 96.05 L277.70 99.69 L278.20 99.40 L278.20 95.21 L278.70 95.79 L278.70 99.47 L279.20 99.53 L279.20 96.05 L279.70 95.64 L279.70 99.32 L280.20 99.26 L280.20 95.05 L280.70 95.70 L280.70 99.30 L281.20 99.48 L281.20 96.04 L281.70 96.05 L281.70 99.62 L282.20 99.37 L282.20 95.73 L282.70 95.48 L282.70 99.28 L283.20 99.34 L283.20 95.94 L283.70 96.05 L283.70 101.52 L284.20 99.33 L284.20 96.00 L284.70 94.05 L284.70 99.33 L285.20 100.04 L285.20 92.05 L285.70 94.05 L285.70 99.45 L286.20 99.35 L286.20 95.75 L286.70 96.05 L286.70 99.50 L287.20 99.97 L287.20 94.27 L287.70 89.80 L287.70 99.41 L288.20 100.26 L288.20 88.55 L288.70 89.80 L288.70 101.33 L289.20 99.68 L289.20 96.05 L289.70 96.05 L289.70 99.44 L290.20 99.42 L290.20 96.05 L290.70 96.05 L290.70 99.83 L291.20 99.95 L291.20 95.03 L291.70 94.92 L291.70 99.23 L292.20 99.41 L292.20 95.63 L292.70 95.07 L292.70 99.58 L293.20 99.64 L293.20 90.15 L293.70 90.15 L293.70 100.00 L294.20 99.48 L294.20 90.15 L294.70 95.07 L294.70 99.48 L295.20 99.43 L295.20 96.05 L295.70 95.57 L295.70 99.43 L296.20 99.48 L296.20 95.98 L296.70 96.05 L296.70 99.29 L297.20 99.52 L297.20 96.05 L297.70 95.54 L297.70 100.20 L298.20 99.46 L298.20 95.19 L298.70 95.11 L298.70 99.24 L299.20 99.31 L299.20 95.73 L299.70 94.55 L299.70 99.39 L300.20 99.31 L300.20 93.05 L300.70 94.55 L300.70 99.34 L301.20 99.64 L301.20 95.09 L301.70 95.72 L301.70 99.50 L302.20 99.95 L302.20 96.05 L302.70 96.05 L302.70 99.47 L303.20 99.35 L303.20 96.05 L303.70 95.95 L303.70 99.38 L304.20 99.72 L304.20 96.05 L304.70 95.82 L304.70 99.35 L305.20 99.85 L305.20 96.05 L305.70 96.05 L305.70 100.07 L306.20 99.24 L306.20 95.78 L306.70 96.05 L306.70 99.24 L307.20 99.23 L307.20 92.30 L307.70 91.55 L307.70 100.28 L308.20 99.25 L308.20 92.30 L308.70 96.05 L308.70 99.53 L309.20 99.28 L309.20 96.05 L309.70 96.05 L309.70 99.38 L310.20 99.74 L310.20 93.31 L310.70 94.74 L310.70 99.56 L311.20 99.36 L311.20 95.93 L311.70 96.05 L311.70 99.69 L312.20 100.12 L312.20 95.76 L312.70 96.05 L312.70 99.45 L313.20 100.27 L313.20 96.05 L313.70 96.05 L313.70 99.37 L314.20 99.28 L314.20 95.44 L314.70 95.91 L314.70 99.47 L315.20 99.82 L315.20 96.03 L315.70 94.45 L315.70 100.34 L316.20 99.63 L316.20 92.85 L316.70 94.45 L316.70 100.93 L317.20 99.32 L317.20 96.05 L317.70 95.79 L317.70 99.37 L318.20 99.77 L318.20 96.05 L318.70 96.05 L318.70 99.28 L319.20 99.39 L319.20 95.81 L319.70 96.05 L319.70 99.49 L320.20 99.82 L320.20 95.60 L320.70 96.00 L320.70 99.30 L321.20 100.36 L321.20 95.98 L321.70 95.71 L321.70 99.91 L322.20 99.41 L322.20 96.05 L322.70 95.04 L322.70 100.05 L323.20 99.32 L323.20 93.55 L323.70 91.05 L323.70 99.60 L324.20 99.63 L324.20 93.55 L324.70 96.03 L324.70 100.23 L325.20 99.29 L325.20 96.05 L325.70 96.05 L325.70 99.45 L326.20 99.71 L326.20 96.05 L326.70 92.60 L326.70 99.39 L327.20 99.24 L327.20 93.95 L327.70 94.20 L327.70 99.66 L328.20 99.26 L328.20 92.35 L328.70 94.20 L328.70 99.33 L329.20 99.58 L329.20 94.16 L329.70 95.21 L329.70 99.27 L330.20 100.01 L330.20 96.05 L330.70 95.84 L330.70 99.82 L331.20 99.49 L331.20 96.05 L331.70 89.22 L331.70 99.26 L332.20 99.58 L332.20 87.85 L332.70 89.22 L332.70 99.32 L333.20 99.45 L333.20 96.05 L333.70 96.05 L333.70 100.35 L334.20 99.33 L334.20 96.05 L334.70 95.44 L334.70 99.24 L335.20 99.23 L335.20 95.86 L335.70 92.80 L335.70 99.68 L336.20 99.79 L336.20 89.55 L336.70 92.80 L336.70 99.58 L337.20 99.38 L337.20 95.87 L337.70 95.93 L337.70 100.56 L338.20 100.14 L338.20 95.97 L338.70 95.07 L338.70 99.76 L339.20 99.67 L339.20 95.71 L339.70 93.30 L339.70 99.59 L340.20 99.42 L340.20 90.55 L340.70 93.30 L340.70 99.52 L341.20 99.96 L341.20 95.99 L341.70 96.05 L341.70 99.28 L342.20 99.42 L342.20 93.61 L342.70 94.91 L342.70 99.56 L343.20 99.41 L343.20 90.72 L343.70 88.05 L343.70 99.50 L344.20 99.46 L344.20 90.72 L344.70 96.05 L344.70 99.53 L345.20 100.36 L345.20 96.05 L345.70 96.05 L345.70 99.46 L346.20 100.27 L346.20 96.05 L346.70 93.80 L346.70 99.35 L347.20 99.32 L347.20 91.55 L347.70 93.80 L347.70 99.44 L348.20 99.30 L348.20 96.05 L348.70 96.05 L348.70 99.76 L349.20 99.37 L349.20 95.59 L349.70 95.99 L349.70 99.40 L350.20 101.07 L350.20 96.05 L350.70 78.00 L350.70 99.47 L351.20 99.30 L351.20 80.50 L351.70 83.00 L351.70 99.81 L352.20 109.50 L352.20 85.00"/>
<text class="ti" x="279.90" y="73.90">Peak-to-Peak</text>
<text class="xl" x="279.50" y="128.50">time points</text>
</g>
<g>
<rect class="ax" x="398.45" y="76.50" width="145.00" height="33.00"/>
<text class="t" text-anchor="middle" transform="translate(398.05 118.90) scale(1 1.12)">0</text>
<text class="t" text-anchor="middle" transform="translate(443.85 118.90) scale(1 1.12)">2000</text>
<text class="t" text-anchor="middle" transform="translate(489.65 118.90) scale(1 1.12)">4000</text>
<text class="t" text-anchor="middle" transform="translate(535.45 118.90) scale(1 1.12)">6000</text>
<text class="t" text-anchor="end" transform="translate(396.75 113.45) scale(1 1.12)">0</text>
<text class="t" text-anchor="end" transform="translate(396.75 99.55) scale(1 1.12)">0.01</text>
<text class="t" text-anchor="end" transform="translate(396.75 86.46) scale(1 1.12)">0.02</text>
<path class="tk" d="M444.25 109.50 v-2 M444.25 76.50 v2 M490.05 109.50 v-2 M490.05 76.50 v2 M535.85 109.50 v-2 M535.85 76.50 v2 M398.45 96.40 h2 M543.45 96.40 h-2 M398.45 83.31 h2 M543.45 83.31 h-2"/>
<path class="l" d="M398.45 100.72 L398.45 99.37 L398.95 99.84 L398.95 101.42 L399.45 101.99 L399.45 100.12 L399.95 100.48 L399.95 102.09 L400.45 102.26 L400.45 101.04 L400.95 100.65 L400.95 102.32 L401.45 102.65 L401.45 100.85 L401.95 100.84 L401.95 102.25 L402.45 102.18 L402.45 100.90 L402.95 100.76 L402.95 102.16 L403.45 102.58 L403.45 101.10 L403.95 101.39 L403.95 102.53 L404.45 102.89 L404.45 101.45 L404.95 101.51 L404.95 103.25 L405.45 103.19 L405.45 101.90 L405.95 101.87 L405.95 103.30 L406.45 103.47 L406.45 101.61 L406.95 101.29 L406.95 103.24 L407.45 102.98 L407.45 101.55 L407.95 101.28 L407.95 102.84 L408.45 102.81 L408.45 101.66 L408.95 101.76 L408.95 103.15 L409.45 102.83 L409.45 101.38 L409.95 101.17 L409.95 102.55 L410.45 102.83 L410.45 101.23 L410.95 101.32 L410.95 102.74 L411.45 102.65 L411.45 101.31 L411.95 101.79 L411.95 103.07 L412.45 103.06 L412.45 101.64 L412.95 101.54 L412.95 103.18 L413.45 103.00 L413.45 101.80 L413.95 101.81 L413.95 102.98 L414.45 102.86 L414.45 101.46 L414.95 101.43 L414.95 103.33 L415.45 102.88 L415.45 101.57 L415.95 101.34 L415.95 102.99 L416.45 102.67 L416.45 101.38 L416.95 101.32 L416.95 102.86 L417.45 103.21 L417.45 101.45 L417.95 101.34 L417.95 102.89 L418.45 103.10 L418.45 101.77 L418.95 101.55 L418.95 103.34 L419.45 103.07 L419.45 101.44 L419.95 101.56 L419.95 103.22 L420.45 103.15 L420.45 101.37 L420.95 101.57 L420.95 102.69 L421.45 102.94 L421.45 101.54 L421.95 101.68 L421.95 102.85 L422.45 102.83 L422.45 101.22 L422.95 101.48 L422.95 102.73 L423.45 103.05 L423.45 101.57 L423.95 101.65 L423.95 103.28 L424.45 103.04 L424.45 101.62 L424.95 101.75 L424.95 103.06 L425.45 103.60 L425.45 101.88 L425.95 101.57 L425.95 103.13 L426.45 102.75 L426.45 101.36 L426.95 101.52 L426.95 103.06 L427.45 102.58 L427.45 101.23 L427.95 100.84 L427.95 102.63 L428.45 102.59 L428.45 101.12 L428.95 101.18 L428.95 102.99 L429.45 102.69 L429.45 101.46 L429.95 101.39 L429.95 103.03 L430.45 103.64 L430.45 101.40 L430.95 101.91 L430.95 103.32 L431.45 103.26 L431.45 101.47 L431.95 101.43 L431.95 103.10 L432.45 103.00 L432.45 101.33 L432.95 101.68 L432.95 103.04 L433.45 102.61 L433.45 101.29 L433.95 101.37 L433.95 102.79 L434.45 103.00 L434.45 101.62 L434.95 101.56 L434.95 102.95 L435.45 103.07 L435.45 101.62 L435.95 101.66 L435.95 103.19 L436.45 103.05 L436.45 101.68 L436.95 101.70 L436.95 103.03 L437.45 102.79 L437.45 101.44 L437.95 101.69 L437.95 103.29 L438.45 103.23 L438.45 101.05 L438.95 101.68 L438.95 103.06 L439.45 102.88 L439.45 101.46 L439.95 101.54 L439.95 103.13 L440.45 102.95 L440.45 101.80 L440.95 101.60 L440.95 103.28 L441.45 103.06 L441.45 101.37 L441.95 101.69 L441.95 103.08 L442.45 103.41 L442.45 101.95 L442.95 101.81 L442.95 103.36 L443.45 103.84 L443.45 101.82 L443.95 102.25 L443.95 103.55 L444.45 103.92 L444.45 102.12 L444.95 101.68 L444.95 103.23 L445.45 103.02 L445.45 101.83 L445.95 101.35 L445.95 102.91 L446.45 103.07 L446.45 101.69 L446.95 101.56 L446.95 102.84 L447.45 102.81 L447.45 101.24 L447.95 101.52 L447.95 102.81 L448.45 103.37 L448.45 101.64 L448.95 101.45 L448.95 102.94 L449.45 102.96 L449.45 101.29 L449.95 101.57 L449.95 103.30 L450.45 103.57 L450.45 101.65 L450.95 101.61 L450.95 102.98 L451.45 102.86 L451.45 101.40 L451.95 101.50 L451.95 102.82 L452.45 102.72 L452.45 101.39 L452.95 101.62 L452.95 103.13 L453.45 103.13 L453.45 101.30 L453.95 101.75 L453.95 102.94 L454.45 103.28 L454.45 101.76 L454.95 101.72 L454.95 103.16 L455.45 103.05 L455.45 101.78 L455.95 101.56 L455.95 103.12 L456.45 103.11 L456.45 101.73 L456.95 101.96 L456.95 103.24 L457.45 103.59 L457.45 101.97 L457.95 101.69 L457.95 103.23 L458.45 102.98 L458.45 101.28 L458.95 101.13 L458.95 102.85 L459.45 102.99 L459.45 101.40 L459.95 101.26 L459.95 102.71 L460.45 102.97 L460.45 101.59 L460.95 101.38 L460.95 102.77 L461.45 102.82 L461.45 101.41 L461.95 101.35 L461.95 102.51 L462.45 102.68 L462.45 101.12 L462.95 101.30 L462.95 102.57 L463.45 102.69 L463.45 101.46 L463.95 101.17 L463.95 102.74 L464.45 102.52 L464.45 101.29 L464.95 101.21 L464.95 102.76 L465.45 102.61 L465.45 101.30 L465.95 100.90 L465.95 102.62 L466.45 102.75 L466.45 100.96 L466.95 101.56 L466.95 103.02 L467.45 102.68 L467.45 101.37 L467.95 101.27 L467.95 102.70 L468.45 102.37 L468.45 100.90 L468.95 100.96 L468.95 102.29 L469.45 102.21 L469.45 100.89 L469.95 101.04 L469.95 102.35 L470.45 102.24 L470.45 100.89 L470.95 101.25 L470.95 102.89 L471.45 102.64 L471.45 101.39 L471.95 101.07 L471.95 102.98 L472.45 102.72 L472.45 101.27 L472.95 101.27 L472.95 102.59 L473.45 102.79 L473.45 101.14 L473.95 101.32 L473.95 102.66 L474.45 102.71 L474.45 101.23 L474.95 100.60 L474.95 102.46 L475.45 102.57 L475.45 101.22 L475.95 101.33 L475.95 102.97 L476.45 102.63 L476.45 101.21 L476.95 100.76 L476.95 102.31 L477.45 102.65 L477.45 101.07 L477.95 101.05 L477.95 102.25 L478.45 102.29 L478.45 101.04 L478.95 101.10 L478.95 102.26 L479.45 102.44 L479.45 100.57 L479.95 101.04 L479.95 102.32 L480.45 102.60 L480.45 101.14 L480.95 100.95 L480.95 102.71 L481.45 102.24 L481.45 100.64 L481.95 101.08 L481.95 102.57 L482.45 102.21 L482.45 100.73 L482.95 100.78 L482.95 102.54 L483.45 102.46 L483.45 101.15 L483.95 101.19 L483.95 102.96 L484.45 102.38 L484.45 100.93 L484.95 101.26 L484.95 103.13 L485.45 102.56 L485.45 101.17 L485.95 101.11 L485.95 102.88 L486.45 102.60 L486.45 101.29 L486.95 101.06 L486.95 102.92 L487.45 102.46 L487.45 101.02 L487.95 101.02 L487.95 102.56 L488.45 102.27 L488.45 101.05 L488.95 101.00 L488.95 102.48 L489.45 102.59 L489.45 100.96 L489.95 100.70 L489.95 102.32 L490.45 102.48 L490.45 101.09 L490.95 100.99 L490.95 102.69 L491.45 102.54 L491.45 101.13 L491.95 101.00 L491.95 102.58 L492.45 102.72 L492.45 101.38 L492.95 101.30 L492.95 102.64 L493.45 102.42 L493.45 101.21 L493.95 101.09 L493.95 102.45 L494.45 102.55 L494.45 101.15 L494.95 101.07 L494.95 102.39 L495.45 102.84 L495.45 101.14 L495.95 101.34 L495.95 102.58 L496.45 102.94 L496.45 101.13 L496.95 101.44 L496.95 102.86 L497.45 102.58 L497.45 101.08 L497.95 101.35 L497.95 102.46 L498.45 102.56 L498.45 100.87 L498.95 101.18 L498.95 102.56 L499.45 102.83 L499.45 101.26 L499.95 101.29 L499.95 102.57 L500.45 102.51 L500.45 101.17 L500.95 101.32 L500.95 102.91 L501.45 102.41 L501.45 100.91 L501.95 100.53 L501.95 102.36 L502.45 101.93 L502.45 100.40 L502.95 100.76 L502.95 102.00 L503.45 102.35 L503.45 100.59 L503.95 100.88 L503.95 102.05 L504.45 102.39 L504.45 100.88 L504.95 101.14 L504.95 102.51 L505.45 102.38 L505.45 101.12 L505.95 100.85 L505.95 102.39 L506.45 102.29 L506.45 100.90 L506.95 100.62 L506.95 102.39 L507.45 102.30 L507.45 100.77 L507.95 100.76 L507.95 102.51 L508.45 102.51 L508.45 100.67 L508.95 100.90 L508.95 102.31 L509.45 102.36 L509.45 100.74 L509.95 100.75 L509.95 102.42 L510.45 102.66 L510.45 100.92 L510.95 100.96 L510.95 102.34 L511.45 102.74 L511.45 101.06 L511.95 101.04 L511.95 102.39 L512.45 102.51 L512.45 101.05 L512.95 101.02 L512.95 102.41 L513.45 102.12 L513.45 100.66 L513.95 100.69 L513.95 102.01 L514.45 102.10 L514.45 100.80 L514.95 100.75 L514.95 102.15 L515.45 102.09 L515.45 100.72 L515.95 100.93 L515.95 102.43 L516.45 102.72 L516.45 101.05 L516.95 100.69 L516.95 102.47 L517.45 102.08 L517.45 100.80 L517.95 100.86 L517.95 102.19 L518.45 102.04 L518.45 100.73 L518.95 100.66 L518.95 102.12 L519.45 102.37 L519.45 101.01 L519.95 101.08 L519.95 102.22 L520.45 102.37 L520.45 100.86 L520.95 100.87 L520.95 102.17 L521.45 102.25 L521.45 101.03 L521.95 100.81 L521.95 102.54 L522.45 102.42 L522.45 100.83 L522.95 100.77 L522.95 102.57 L523.45 102.29 L523.45 100.97 L523.95 101.02 L523.95 102.19 L524.45 102.03 L524.45 100.57 L524.95 100.92 L524.95 102.38 L525.45 102.48 L525.45 101.23 L525.95 101.37 L525.95 102.69 L526.45 102.65 L526.45 101.00 L526.95 101.25 L526.95 102.90 L527.45 102.65 L527.45 101.49 L527.95 101.26 L527.95 102.42 L528.45 102.53 L528.45 101.21 L528.95 101.15 L528.95 102.73 L529.45 102.29 L529.45 100.52 L529.95 100.96 L529.95 102.37 L530.45 102.47 L530.45 100.91 L530.95 101.06 L530.95 102.27 L531.45 102.69 L531.45 101.11 L531.95 100.69 L531.95 102.25 L532.45 102.78 L532.45 100.96 L532.95 101.15 L532.95 102.60 L533.45 102.27 L533.45 100.68 L533.95 101.06 L533.95 102.38 L534.45 102.67 L534.45 101.26 L534.95 101.21 L534.95 102.66 L535.45 102.78 L535.45 101.24 L535.95 100.88 L535.95 102.72 L536.45 102.74 L536.45 100.88 L536.95 101.10 L536.95 102.75 L537.45 102.58 L537.45 101.06 L537.95 100.71 L537.95 102.19 L538.45 102.17 L538.45 100.60 L538.95 100.53 L538.95 101.88 L539.45 102.37 L539.45 100.73 L539.95 100.37 L539.95 101.82 L540.45 101.15 L540.45 99.44 L540.95 98.10 L540.95 99.97 L541.45 97.52 L541.45 95.96 L541.95 92.59 L541.95 93.89 L542.45 89.78 L542.45 88.34 L542.95 82.42 L542.95 84.17 L543.45 109.50 L543.45 76.50"/>
<text class="ti" x="471.15" y="73.90">Variance</text>
<text class="xl" x="470.75" y="128.50">time points</text>
</g>
<g>
<rect class="ax" x="17.25" y="156.50" width="145.00" height="33.00"/>
<text class="t" text-anchor="middle" transform="translate(16.85 198.90) scale(1 1.12)">0</text>
<text class="t" text-anchor="middle" transform="translate(62.65 198.90) scale(1 1.12)">2000</text>
<text class="t" text-anchor="middle" transform="translate(108.45 198.90) scale(1 1.12)">4000</text>
<text class="t" text-anchor="middle" transform="translate(154.25 198.90) scale(1 1.12)">6000</text>
<text class="t" text-anchor="end" transform="translate(15.55 193.45) scale(1 1.12)">0</text>
<text class="t" text-anchor="end" transform="translate(15.55 171.36) scale(1 1.12)">0.1</text>
<path class="tk" d="M63.05 189.50 v-2 M63.05 156.50 v2 M108.85 189.50 v-2 M108.85 156.50 v2 M154.65 189.50 v-2 M154.65 156.50 v2 M17.25 168.21 h2 M162.25 168.21 h-2"/>
<path class="l" d="M17.25 173.03 L17.25 171.53 L17.75 171.75 L17.75 172.99 L18.25 173.39 L18.25 171.86 L18.75 171.76 L18.75 173.69 L19.25 173.99 L19.25 172.54 L19.75 172.66 L19.75 174.44 L20.25 174.69 L20.25 173.30 L20.75 173.34 L20.75 174.65 L21.25 174.95 L21.25 173.52 L21.75 173.69 L21.75 175.22 L22.25 175.07 L22.25 173.69 L22.75 173.55 L22.75 175.11 L23.25 175.88 L23.25 173.71 L23.75 173.80 L23.75 175.00 L24.25 175.06 L24.25 173.75 L24.75 173.72 L24.75 175.19 L25.25 175.15 L25.25 174.01 L25.75 173.96 L25.75 175.31 L26.25 175.48 L26.25 174.17 L26.75 174.20 L26.75 175.82 L27.25 175.54 L27.25 173.84 L27.75 173.82 L27.75 175.48 L28.25 175.14 L28.25 173.57 L28.75 173.21 L28.75 174.83 L29.25 174.39 L29.25 173.15 L29.75 173.17 L29.75 174.48 L30.25 175.00 L30.25 173.48 L30.75 173.28 L30.75 174.93 L31.25 175.19 L31.25 173.28 L31.75 174.05 L31.75 175.22 L32.25 175.34 L32.25 174.06 L32.75 174.17 L32.75 175.39 L33.25 175.32 L33.25 174.00 L33.75 173.83 L33.75 175.57 L34.25 175.40 L34.25 174.00 L34.75 173.81 L34.75 175.67 L35.25 175.19 L35.25 173.86 L35.75 174.07 L35.75 175.31 L36.25 175.74 L36.25 174.23 L36.75 174.27 L36.75 176.00 L37.25 175.81 L37.25 174.14 L37.75 174.23 L37.75 175.61 L38.25 175.70 L38.25 174.16 L38.75 174.47 L38.75 175.74 L39.25 175.49 L39.25 174.13 L39.75 174.13 L39.75 175.54 L40.25 175.54 L40.25 174.25 L40.75 174.29 L40.75 175.67 L41.25 175.64 L41.25 173.99 L41.75 174.06 L41.75 175.96 L42.25 176.03 L42.25 174.61 L42.75 174.49 L42.75 175.84 L43.25 175.87 L43.25 174.51 L43.75 174.25 L43.75 175.77 L44.25 175.80 L44.25 174.21 L44.75 173.98 L44.75 175.53 L45.25 176.04 L45.25 174.07 L45.75 174.20 L45.75 175.91 L46.25 175.81 L46.25 174.40 L46.75 174.33 L46.75 175.62 L47.25 176.05 L47.25 174.26 L47.75 174.40 L47.75 175.85 L48.25 175.66 L48.25 174.18 L48.75 174.32 L48.75 175.60 L49.25 175.38 L49.25 174.10 L49.75 173.75 L49.75 175.60 L50.25 175.68 L50.25 174.03 L50.75 174.02 L50.75 175.59 L51.25 175.70 L51.25 174.16 L51.75 173.98 L51.75 175.45 L52.25 175.69 L52.25 174.35 L52.75 174.50 L52.75 175.96 L53.25 175.85 L53.25 174.29 L53.75 174.28 L53.75 176.01 L54.25 175.88 L54.25 174.47 L54.75 174.24 L54.75 175.48 L55.25 175.16 L55.25 173.91 L55.75 173.93 L55.75 175.34 L56.25 175.49 L56.25 173.79 L56.75 173.75 L56.75 175.35 L57.25 175.52 L57.25 173.92 L57.75 174.07 L57.75 175.48 L58.25 175.54 L58.25 174.09 L58.75 174.25 L58.75 175.46 L59.25 175.63 L59.25 174.23 L59.75 173.91 L59.75 175.33 L60.25 175.34 L60.25 173.91 L60.75 173.97 L60.75 175.52 L61.25 175.44 L61.25 173.96 L61.75 174.04 L61.75 175.95 L62.25 175.67 L62.25 174.25 L62.75 174.08 L62.75 175.53 L63.25 175.98 L63.25 174.29 L63.75 174.23 L63.75 175.75 L64.25 175.45 L64.25 174.30 L64.75 174.04 L64.75 175.71 L65.25 175.50 L65.25 174.24 L65.75 173.99 L65.75 175.33 L66.25 175.36 L66.25 174.11 L66.75 173.93 L66.75 175.85 L67.25 175.56 L67.25 174.15 L67.75 174.19 L67.75 175.68 L68.25 175.59 L68.25 174.23 L68.75 174.27 L68.75 175.50 L69.25 175.78 L69.25 174.54 L69.75 174.37 L69.75 175.88 L70.25 175.98 L70.25 174.62 L70.75 174.76 L70.75 176.07 L71.25 176.44 L71.25 174.86 L71.75 174.60 L71.75 176.12 L72.25 176.41 L72.25 174.48 L72.75 174.51 L72.75 176.01 L73.25 176.16 L73.25 174.35 L73.75 174.63 L73.75 176.28 L74.25 175.71 L74.25 173.91 L74.75 174.11 L74.75 175.57 L75.25 175.61 L75.25 174.39 L75.75 174.58 L75.75 176.12 L76.25 176.01 L76.25 174.26 L76.75 174.54 L76.75 176.04 L77.25 176.15 L77.25 174.74 L77.75 174.63 L77.75 175.98 L78.25 175.54 L78.25 174.09 L78.75 173.76 L78.75 175.42 L79.25 175.64 L79.25 173.92 L79.75 174.05 L79.75 175.65 L80.25 175.19 L80.25 173.59 L80.75 173.84 L80.75 175.32 L81.25 175.57 L81.25 174.06 L81.75 173.97 L81.75 175.51 L82.25 175.66 L82.25 174.09 L82.75 174.40 L82.75 175.73 L83.25 176.35 L83.25 174.56 L83.75 174.59 L83.75 175.85 L84.25 175.68 L84.25 174.05 L84.75 174.35 L84.75 175.98 L85.25 175.68 L85.25 174.19 L85.75 173.90 L85.75 175.45 L86.25 175.45 L86.25 173.98 L86.75 174.21 L86.75 175.73 L87.25 175.64 L87.25 174.14 L87.75 174.04 L87.75 175.59 L88.25 175.37 L88.25 173.92 L88.75 174.11 L88.75 175.58 L89.25 175.50 L89.25 174.36 L89.75 173.89 L89.75 175.82 L90.25 175.10 L90.25 173.96 L90.75 173.73 L90.75 175.00 L91.25 175.09 L91.25 173.62 L91.75 173.14 L91.75 174.86 L92.25 174.69 L92.25 173.52 L92.75 173.54 L92.75 174.85 L93.25 174.92 L93.25 173.68 L93.75 173.79 L93.75 175.02 L94.25 175.16 L94.25 173.68 L94.75 173.93 L94.75 175.15 L95.25 175.17 L95.25 173.90 L95.75 173.35 L95.75 175.02 L96.25 174.79 L96.25 173.17 L96.75 173.28 L96.75 174.73 L97.25 174.64 L97.25 173.10 L97.75 173.27 L97.75 174.81 L98.25 174.82 L98.25 173.37 L98.75 173.13 L98.75 174.85 L99.25 174.73 L99.25 173.03 L99.75 173.36 L99.75 175.00 L100.25 174.60 L100.25 173.26 L100.75 173.15 L100.75 174.62 L101.25 174.56 L101.25 173.01 L101.75 173.36 L101.75 174.75 L102.25 174.71 L102.25 173.15 L102.75 173.25 L102.75 174.71 L103.25 174.71 L103.25 172.80 L103.75 173.24 L103.75 175.13 L104.25 174.70 L104.25 173.16 L104.75 173.06 L104.75 174.39 L105.25 174.24 L105.25 172.81 L105.75 172.86 L105.75 174.19 L106.25 174.29 L106.25 173.01 L106.75 173.24 L106.75 174.80 L107.25 174.45 L107.25 173.05 L107.75 173.21 L107.75 174.49 L108.25 174.52 L108.25 173.34 L108.75 173.26 L108.75 174.63 L109.25 174.51 L109.25 173.13 L109.75 173.37 L109.75 174.65 L110.25 174.65 L110.25 173.34 L110.75 173.01 L110.75 174.86 L111.25 174.72 L111.25 172.89 L111.75 172.44 L111.75 174.42 L112.25 174.24 L112.25 172.73 L112.75 172.56 L112.75 174.14 L113.25 174.28 L113.25 172.75 L113.75 173.16 L113.75 174.52 L114.25 174.59 L114.25 173.13 L114.75 172.86 L114.75 174.46 L115.25 174.75 L115.25 172.67 L115.75 172.91 L115.75 174.44 L116.25 174.35 L116.25 172.80 L116.75 172.74 L116.75 174.61 L117.25 174.58 L117.25 172.65 L117.75 172.92 L117.75 174.38 L118.25 174.55 L118.25 173.19 L118.75 172.97 L118.75 174.33 L119.25 174.81 L119.25 173.28 L119.75 172.88 L119.75 174.66 L120.25 174.94 L120.25 173.17 L120.75 173.70 L120.75 175.08 L121.25 175.04 L121.25 173.53 L121.75 173.40 L121.75 175.03 L122.25 174.86 L122.25 173.43 L122.75 172.88 L122.75 174.61 L123.25 174.17 L123.25 172.82 L123.75 172.63 L123.75 174.43 L124.25 174.22 L124.25 172.84 L124.75 172.80 L124.75 174.36 L125.25 174.57 L125.25 173.16 L125.75 173.07 L125.75 174.64 L126.25 174.50 L126.25 172.80 L126.75 172.87 L126.75 174.82 L127.25 174.60 L127.25 173.18 L127.75 172.99 L127.75 174.53 L128.25 174.44 L128.25 173.16 L128.75 173.12 L128.75 174.56 L129.25 174.71 L129.25 172.58 L129.75 172.78 L129.75 174.16 L130.25 174.57 L130.25 172.85 L130.75 172.72 L130.75 174.18 L131.25 174.53 L131.25 173.09 L131.75 173.07 L131.75 175.01 L132.25 174.59 L132.25 173.09 L132.75 173.55 L132.75 174.92 L133.25 175.14 L133.25 173.41 L133.75 173.71 L133.75 174.88 L134.25 175.50 L134.25 173.48 L134.75 173.24 L134.75 174.71 L135.25 174.76 L135.25 172.97 L135.75 172.90 L135.75 174.46 L136.25 173.93 L136.25 172.30 L136.75 172.45 L136.75 173.80 L137.25 174.39 L137.25 172.75 L137.75 172.62 L137.75 174.10 L138.25 174.23 L138.25 172.85 L138.75 173.18 L138.75 174.62 L139.25 174.20 L139.25 172.70 L139.75 172.85 L139.75 174.35 L140.25 174.28 L140.25 172.88 L140.75 172.86 L140.75 174.18 L141.25 174.05 L141.25 172.61 L141.75 172.70 L141.75 174.03 L142.25 174.17 L142.25 172.46 L142.75 172.55 L142.75 174.00 L143.25 173.83 L143.25 172.14 L143.75 172.32 L143.75 173.71 L144.25 173.85 L144.25 172.43 L144.75 171.67 L144.75 174.01 L145.25 173.99 L145.25 172.81 L145.75 172.51 L145.75 174.42 L146.25 174.19 L146.25 172.78 L146.75 172.56 L146.75 174.16 L147.25 174.05 L147.25 172.66 L147.75 172.74 L147.75 174.01 L148.25 174.16 L148.25 172.50 L148.75 172.67 L148.75 174.54 L149.25 174.30 L149.25 172.83 L149.75 172.76 L149.75 173.95 L150.25 174.33 L150.25 172.52 L150.75 172.65 L150.75 173.98 L151.25 174.42 L151.25 172.53 L151.75 172.66 L151.75 173.88 L152.25 174.08 L152.25 172.90 L152.75 172.62 L152.75 174.13 L153.25 174.58 L153.25 172.45 L153.75 173.04 L153.75 174.68 L154.25 174.59 L154.25 173.11 L154.75 172.69 L154.75 174.14 L155.25 174.12 L155.25 172.44 L155.75 172.87 L155.75 174.23 L156.25 173.95 L156.25 172.73 L156.75 172.52 L156.75 174.09 L157.25 173.96 L157.25 172.45 L157.75 172.40 L157.75 173.73 L158.25 173.77 L158.25 171.83 L158.75 172.05 L158.75 173.44 L159.25 172.64 L159.25 171.32 L159.75 170.08 L159.75 171.77 L160.25 170.54 L160.25 168.74 L160.75 166.64 L160.75 167.98 L161.25 165.12 L161.25 163.88 L161.75 160.01 L161.75 161.72 L162.25 189.50 L162.25 156.50"/>
<text class="ti" x="89.95" y="153.90">Standard Deviation</text>
<text class="xl" x="89.55" y="208.50">time points</text>
</g>
<g>
<rect class="ax" x="207.20" y="156.50" width="145.00" height="33.00"/>
<text class="t" text-anchor="middle" transform="translate(206.80 198.90) scale(1 1.12)">0</text>
<text class="t" text-anchor="middle" transform="translate(252.60 198.90) scale(1 1.12)">2000</text>
<text class="t" text-anchor="middle" transform="translate(298.40 198.90) scale(1 1.12)">4000</text>
<text class="t" text-anchor="middle" transform="translate(344.20 198.90) scale(1 1.12)">6000</text>
<text class="t" text-anchor="end" transform="translate(205.50 193.45) scale(1 1.12)">3</text>
<text class="t" text-anchor="end" transform="translate(205.50 181.65) scale(1 1.12)">4</text>
<text class="t" text-anchor="end" transform="translate(205.50 170.65) scale(1 1.12)">5</text>
<text class="t" text-anchor="end" transform="translate(205.50 160.05) scale(1 1.12)">6</text>
<path class="tk" d="M253.00 189.50 v-2 M253.00 156.50 v2 M298.80 189.50 v-2 M298.80 156.50 v2 M344.60 189.50 v-2 M344.60 156.50 v2 M207.20 178.50 h2 M352.20 178.50 h-2 M207.20 167.50 h2 M352.20 167.50 h-2"/>
<path class="b" d="M207.20 182.95 L207.20 170.81 L207.70 173.22 L207.70 183.99 L208.20 184.25 L208.20 174.81 L208.70 174.09 L208.70 184.94 L209.20 184.90 L209.20 174.29 L209.70 174.67 L209.70 185.54 L210.20 185.89 L210.20 175.57 L210.70 176.20 L210.70 185.50 L211.20 185.78 L211.20 176.22 L211.70 176.34 L211.70 186.11 L212.20 185.91 L212.20 172.67 L212.70 172.76 L212.70 186.31 L213.20 186.41 L213.20 172.98 L213.70 177.25 L213.70 186.73 L214.20 186.35 L214.20 177.49 L214.70 177.63 L214.70 187.15 L215.20 186.69 L215.20 177.93 L215.70 177.87 L215.70 186.60 L216.20 186.63 L216.20 178.03 L216.70 178.11 L216.70 186.89 L217.20 188.03 L217.20 178.25 L217.70 178.89 L217.70 186.92 L218.20 187.21 L218.20 182.10 L218.70 176.91 L218.70 187.24 L219.20 188.44 L219.20 179.08 L219.70 180.65 L219.70 186.82 L220.20 187.97 L220.20 182.22 L220.70 181.78 L220.70 187.05 L221.20 187.92 L221.20 182.26 L221.70 180.60 L221.70 187.86 L222.20 186.76 L222.20 178.96 L222.70 180.63 L222.70 186.69 L223.20 186.76 L223.20 181.83 L223.70 182.31 L223.70 187.35 L224.20 187.04 L224.20 181.16 L224.70 180.02 L224.70 187.38 L225.20 187.13 L225.20 181.17 L225.70 181.76 L225.70 186.67 L226.20 186.66 L226.20 181.37 L226.70 181.39 L226.70 187.83 L227.20 187.70 L227.20 182.18 L227.70 182.10 L227.70 187.31 L228.20 188.22 L228.20 179.54 L228.70 173.94 L228.70 186.69 L229.20 187.04 L229.20 179.54 L229.70 181.00 L229.70 186.77 L230.20 187.23 L230.20 181.96 L230.70 182.34 L230.70 187.03 L231.20 186.72 L231.20 182.35 L231.70 182.12 L231.70 186.97 L232.20 186.91 L232.20 182.35 L232.70 181.20 L232.70 187.19 L233.20 186.95 L233.20 180.05 L233.70 181.20 L233.70 187.47 L234.20 188.60 L234.20 182.01 L234.70 182.35 L234.70 186.70 L235.20 187.53 L235.20 182.08 L235.70 182.23 L235.70 186.88 L236.20 187.94 L236.20 181.10 L236.70 179.85 L236.70 187.13 L237.20 186.91 L237.20 179.55 L237.70 179.55 L237.70 186.83 L238.20 186.96 L238.20 179.55 L238.70 179.55 L238.70 187.05 L239.20 187.19 L239.20 179.55 L239.70 179.55 L239.70 187.58 L240.20 187.06 L240.20 177.85 L240.70 177.85 L240.70 187.78 L241.20 187.04 L241.20 177.85 L241.70 177.85 L241.70 187.51 L242.20 187.04 L242.20 177.85 L242.70 179.55 L242.70 187.01 L243.20 187.47 L243.20 179.55 L243.70 179.55 L243.70 186.89 L244.20 186.74 L244.20 179.55 L244.70 179.55 L244.70 186.94 L245.20 187.08 L245.20 179.55 L245.70 180.02 L245.70 186.70 L246.20 187.21 L246.20 182.35 L246.70 182.35 L246.70 186.73 L247.20 186.73 L247.20 182.35 L247.70 180.72 L247.70 187.04 L248.20 188.60 L248.20 180.15 L248.70 181.25 L248.70 186.94 L249.20 187.48 L249.20 182.35 L249.70 182.07 L249.70 186.80 L250.20 186.80 L250.20 182.35 L250.70 181.37 L250.70 188.10 L251.20 186.74 L251.20 182.17 L251.70 181.70 L251.70 186.86 L252.20 187.00 L252.20 181.05 L252.70 181.59 L252.70 187.67 L253.20 187.14 L253.20 182.29 L253.70 181.56 L253.70 187.05 L254.20 186.82 L254.20 181.98 L254.70 182.35 L254.70 187.13 L255.20 187.34 L255.20 182.35 L255.70 180.38 L255.70 187.99 L256.20 186.78 L256.20 181.62 L256.70 182.35 L256.70 186.69 L257.20 186.75 L257.20 181.51 L257.70 181.75 L257.70 186.72 L258.20 186.98 L258.20 181.15 L258.70 180.92 L258.70 187.01 L259.20 188.15 L259.20 181.92 L259.70 182.35 L259.70 187.44 L260.20 187.46 L260.20 182.35 L260.70 181.71 L260.70 186.78 L261.20 186.68 L261.20 179.97 L261.70 181.40 L261.70 186.67 L262.20 187.08 L262.20 182.35 L262.70 180.08 L262.70 186.74 L263.20 188.38 L263.20 175.55 L263.70 180.08 L263.70 186.72 L264.20 187.01 L264.20 182.23 L264.70 182.35 L264.70 187.82 L265.20 187.82 L265.20 182.35 L265.70 182.35 L265.70 187.37 L266.20 187.22 L266.20 181.60 L266.70 180.85 L266.70 186.71 L267.20 186.90 L267.20 181.60 L267.70 182.35 L267.70 186.70 L268.20 187.13 L268.20 182.35 L268.70 181.77 L268.70 187.81 L269.20 187.11 L269.20 182.35 L269.70 182.35 L269.70 186.91 L270.20 186.97 L270.20 180.70 L270.70 180.55 L270.70 187.07 L271.20 187.51 L271.20 181.72 L271.70 182.35 L271.70 186.77 L272.20 186.87 L272.20 176.79 L272.70 179.65 L272.70 187.45 L273.20 186.94 L273.20 177.95 L273.70 180.29 L273.70 187.05 L274.20 186.74 L274.20 182.35 L274.70 182.35 L274.70 186.68 L275.20 186.79 L275.20 180.95 L275.70 179.55 L275.70 186.99 L276.20 188.02 L276.20 179.92 L276.70 181.38 L276.70 187.07 L277.20 186.97 L277.20 182.35 L277.70 181.53 L277.70 188.42 L278.20 188.52 L278.20 181.45 L278.70 180.55 L278.70 187.03 L279.20 187.65 L279.20 181.45 L279.70 182.16 L279.70 187.67 L280.20 187.45 L280.20 182.35 L280.70 182.35 L280.70 187.47 L281.20 186.87 L281.20 182.35 L281.70 182.35 L281.70 186.97 L282.20 187.43 L282.20 182.35 L282.70 182.35 L282.70 188.46 L283.20 186.98 L283.20 181.75 L283.70 180.09 L283.70 187.01 L284.20 186.67 L284.20 181.47 L284.70 175.35 L284.70 186.78 L285.20 188.60 L285.20 173.95 L285.70 175.35 L285.70 186.91 L286.20 187.03 L286.20 179.35 L286.70 179.35 L286.70 187.62 L287.20 186.77 L287.20 179.35 L287.70 173.95 L287.70 186.70 L288.20 187.65 L288.20 165.55 L288.70 173.95 L288.70 186.93 L289.20 186.82 L289.20 179.35 L289.70 179.35 L289.70 187.00 L290.20 187.01 L290.20 177.55 L290.70 179.35 L290.70 186.88 L291.20 187.71 L291.20 177.02 L291.70 174.35 L291.70 186.84 L292.20 187.55 L292.20 174.35 L292.70 174.35 L292.70 187.03 L293.20 186.94 L293.20 177.02 L293.70 182.35 L293.70 186.68 L294.20 187.36 L294.20 182.32 L294.70 182.35 L294.70 186.76 L295.20 186.78 L295.20 182.35 L295.70 179.28 L295.70 187.11 L296.20 187.76 L296.20 177.75 L296.70 179.28 L296.70 187.19 L297.20 187.07 L297.20 181.96 L297.70 180.45 L297.70 186.96 L298.20 187.75 L298.20 178.55 L298.70 180.45 L298.70 186.84 L299.20 186.71 L299.20 181.70 L299.70 179.43 L299.70 188.43 L300.20 186.93 L300.20 181.10 L300.70 179.70 L300.70 186.72 L301.20 187.56 L301.20 181.25 L301.70 180.45 L301.70 186.65 L302.20 186.99 L302.20 178.55 L302.70 180.45 L302.70 187.56 L303.20 187.39 L303.20 182.35 L303.70 182.35 L303.70 186.65 L304.20 186.74 L304.20 182.35 L304.70 182.35 L304.70 188.34 L305.20 187.82 L305.20 179.85 L305.70 179.35 L305.70 188.60 L306.20 186.87 L306.20 175.02 L306.70 173.55 L306.70 187.40 L307.20 187.26 L307.20 175.02 L307.70 179.35 L307.70 186.67 L308.20 186.66 L308.20 179.35 L308.70 179.35 L308.70 188.08 L309.20 186.66 L309.20 179.35 L309.70 177.05 L309.70 186.67 L310.20 186.73 L310.20 179.70 L310.70 182.35 L310.70 186.67 L311.20 187.56 L311.20 182.00 L311.70 180.70 L311.70 186.67 L312.20 186.81 L312.20 179.05 L312.70 180.70 L312.70 187.74 L313.20 186.92 L313.20 181.44 L313.70 182.21 L313.70 186.69 L314.20 187.40 L314.20 182.35 L314.70 180.45 L314.70 187.44 L315.20 186.69 L315.20 178.55 L315.70 180.45 L315.70 187.15 L316.20 187.54 L316.20 182.35 L316.70 182.35 L316.70 186.94 L317.20 186.86 L317.20 182.35 L317.70 182.35 L317.70 186.81 L318.20 187.08 L318.20 181.72 L318.70 180.20 L318.70 186.90 L319.20 186.84 L319.20 178.05 L319.70 180.20 L319.70 186.89 L320.20 187.21 L320.20 182.35 L320.70 182.04 L320.70 187.92 L321.20 187.07 L321.20 182.35 L321.70 182.35 L321.70 186.79 L322.20 187.63 L322.20 182.04 L322.70 182.26 L322.70 187.07 L323.20 186.94 L323.20 177.10 L323.70 176.05 L323.70 186.92 L324.20 187.06 L324.20 177.10 L324.70 182.35 L324.70 187.11 L325.20 187.26 L325.20 182.35 L325.70 182.16 L325.70 188.33 L326.20 187.10 L326.20 179.95 L326.70 177.55 L326.70 187.42 L327.20 187.04 L327.20 179.95 L327.70 179.87 L327.70 187.72 L328.20 186.70 L328.20 181.34 L328.70 178.45 L328.70 187.75 L329.20 187.45 L329.20 174.55 L329.70 178.45 L329.70 186.84 L330.20 187.06 L330.20 182.35 L330.70 179.35 L330.70 188.48 L331.20 187.27 L331.20 178.75 L331.70 172.10 L331.70 186.75 L332.20 186.76 L332.20 170.05 L332.70 172.10 L332.70 187.14 L333.20 188.60 L333.20 178.75 L333.70 177.95 L333.70 187.22 L334.20 186.89 L334.20 173.55 L334.70 177.95 L334.70 186.84 L335.20 188.47 L335.20 178.75 L335.70 174.18 L335.70 186.73 L336.20 187.08 L336.20 172.55 L336.70 174.18 L336.70 186.67 L337.20 186.68 L337.20 178.75 L337.70 178.45 L337.70 187.56 L338.20 186.77 L338.20 174.55 L338.70 178.45 L338.70 186.66 L339.20 186.90 L339.20 178.75 L339.70 175.02 L339.70 186.76 L340.20 186.69 L340.20 173.55 L340.70 175.02 L340.70 187.01 L341.20 187.53 L341.20 178.75 L341.70 178.75 L341.70 186.96 L342.20 187.19 L342.20 175.55 L342.70 178.75 L342.70 186.98 L343.20 188.48 L343.20 178.75 L343.70 175.45 L343.70 187.76 L344.20 187.12 L344.20 161.65 L344.70 175.45 L344.70 187.09 L345.20 187.32 L345.20 181.38 L345.70 182.18 L345.70 186.71 L346.20 186.92 L346.20 179.45 L346.70 176.55 L346.70 186.68 L347.20 187.63 L347.20 179.45 L347.70 182.27 L347.70 187.18 L348.20 186.87 L348.20 178.95 L348.70 175.55 L348.70 187.34 L349.20 187.10 L349.20 178.95 L349.70 174.45 L349.70 186.93 L350.20 187.56 L350.20 166.55 L350.70 174.45 L350.70 187.49 L351.20 187.09 L351.20 182.35 L351.70 182.35 L351.70 186.82 L352.20 187.67 L352.20 181.10"/>
<text class="ti" x="279.90" y="153.90">Kurtosis</text>
<text class="xl" x="279.50" y="208.50">time points</text>
</g>
<g>
<rect class="ax" x="398.45" y="156.50" width="145.00" height="33.00"/>
<text class="t" text-anchor="middle" transform="translate(398.05 198.90) scale(1 1.12)">0</text>
<text class="t" text-anchor="middle" transform="translate(443.85 198.90) scale(1 1.12)">2000</text>
<text class="t" text-anchor="middle" transform="translate(489.65 198.90) scale(1 1.12)">4000</text>
<text class="t" text-anchor="middle" transform="translate(535.45 198.90) scale(1 1.12)">6000</text>
<text class="t" text-anchor="end" transform="translate(396.75 193.45) scale(1 1.12)">-0.4</text>
<text class="t" text-anchor="end" transform="translate(396.75 186.05) scale(1 1.12)">-0.2</text>
<text class="t" text-anchor="end" transform="translate(396.75 179.45) scale(1 1.12)">0</text>
<text class="t" text-anchor="end" transform="translate(396.75 172.85) scale(1 1.12)">0.2</text>
<text class="t" text-anchor="end" transform="translate(396.75 166.25) scale(1 1.12)">0.4</text>
<path class="tk" d="M444.25 189.50 v-2 M444.25 156.50 v2 M490.05 189.50 v-2 M490.05 156.50 v2 M535.85 189.50 v-2 M535.85 156.50 v2 M398.45 182.90 h2 M543.45 182.90 h-2 M398.45 176.30 h2 M543.45 176.30 h-2 M398.45 169.70 h2 M543.45 169.70 h-2 M398.45 163.10 h2 M543.45 163.10 h-2"/>
<path class="b" d="M398.45 178.37 L398.45 169.25 L398.95 170.88 L398.95 178.05 L399.45 178.05 L399.45 171.35 L399.95 171.76 L399.95 178.05 L400.45 178.94 L400.45 171.72 L400.95 172.40 L400.95 179.45 L401.45 178.05 L401.45 172.67 L401.95 172.71 L401.95 178.05 L402.45 180.26 L402.45 172.40 L402.95 172.74 L402.95 179.03 L403.45 178.12 L403.45 172.74 L403.95 172.75 L403.95 178.05 L404.45 178.57 L404.45 172.75 L404.95 172.37 L404.95 178.05 L405.45 178.05 L405.45 172.75 L405.95 172.75 L405.95 178.05 L406.45 178.05 L406.45 171.26 L406.95 171.76 L406.95 180.25 L407.45 178.46 L407.45 172.42 L407.95 172.75 L407.95 178.57 L408.45 178.05 L408.45 172.59 L408.95 172.75 L408.95 178.08 L409.45 178.05 L409.45 169.96 L409.95 171.43 L409.95 178.26 L410.45 178.05 L410.45 171.01 L410.95 172.01 L410.95 178.32 L411.45 178.05 L411.45 172.47 L411.95 172.75 L411.95 178.05 L412.45 178.05 L412.45 172.68 L412.95 172.40 L412.95 178.05 L413.45 178.05 L413.45 172.61 L413.95 171.69 L413.95 178.28 L414.45 178.17 L414.45 171.91 L414.95 172.51 L414.95 178.30 L415.45 179.06 L415.45 172.75 L415.95 172.54 L415.95 178.15 L416.45 178.49 L416.45 172.75 L416.95 172.75 L416.95 178.05 L417.45 178.05 L417.45 172.72 L417.95 172.75 L417.95 178.05 L418.45 178.14 L418.45 172.74 L418.95 172.07 L418.95 178.35 L419.45 178.05 L419.45 172.59 L419.95 171.05 L419.95 179.43 L420.45 178.07 L420.45 171.05 L420.95 171.70 L420.95 178.05 L421.45 178.55 L421.45 171.15 L421.95 172.09 L421.95 178.05 L422.45 178.59 L422.45 171.94 L422.95 172.35 L422.95 178.44 L423.45 178.82 L423.45 172.75 L423.95 170.75 L423.95 178.08 L424.45 178.05 L424.45 172.75 L424.95 172.39 L424.95 178.32 L425.45 178.05 L425.45 171.40 L425.95 172.22 L425.95 178.05 L426.45 178.05 L426.45 172.71 L426.95 172.75 L426.95 178.11 L427.45 178.05 L427.45 172.75 L427.95 172.75 L427.95 178.05 L428.45 178.05 L428.45 172.75 L428.95 172.75 L428.95 178.05 L429.45 178.05 L429.45 172.75 L429.95 172.63 L429.95 179.24 L430.45 178.05 L430.45 171.41 L430.95 172.23 L430.95 178.11 L431.45 178.05 L431.45 172.75 L431.95 172.75 L431.95 178.67 L432.45 178.05 L432.45 170.44 L432.95 171.69 L432.95 178.05 L433.45 178.63 L433.45 172.75 L433.95 171.00 L433.95 178.05 L434.45 178.05 L434.45 172.00 L434.95 172.73 L434.95 178.05 L435.45 178.20 L435.45 170.69 L435.95 171.84 L435.95 178.05 L436.45 178.05 L436.45 172.75 L436.95 172.75 L436.95 178.07 L437.45 178.05 L437.45 172.62 L437.95 172.75 L437.95 178.74 L438.45 178.05 L438.45 172.75 L438.95 171.48 L438.95 178.78 L439.45 178.05 L439.45 172.27 L439.95 172.75 L439.95 178.05 L440.45 178.05 L440.45 172.04 L440.95 172.57 L440.95 178.05 L441.45 178.74 L441.45 172.51 L441.95 172.75 L441.95 178.59 L442.45 178.05 L442.45 172.41 L442.95 172.75 L442.95 178.05 L443.45 178.05 L443.45 172.75 L443.95 172.75 L443.95 178.05 L444.45 178.11 L444.45 172.66 L444.95 172.75 L444.95 178.05 L445.45 178.61 L445.45 172.75 L445.95 172.55 L445.95 178.75 L446.45 178.05 L446.45 171.76 L446.95 172.42 L446.95 178.05 L447.45 178.60 L447.45 172.75 L447.95 172.15 L447.95 178.05 L448.45 178.05 L448.45 172.64 L448.95 172.75 L448.95 178.05 L449.45 179.29 L449.45 172.75 L449.95 171.05 L449.95 178.05 L450.45 178.05 L450.45 172.75 L450.95 172.75 L450.95 178.05 L451.45 178.05 L451.45 172.75 L451.95 172.75 L451.95 178.05 L452.45 178.25 L452.45 172.75 L452.95 172.61 L452.95 178.05 L453.45 178.05 L453.45 172.75 L453.95 172.75 L453.95 178.05 L454.45 178.05 L454.45 172.52 L454.95 171.97 L454.95 178.05 L455.45 178.05 L455.45 172.24 L455.95 171.85 L455.95 181.17 L456.45 178.51 L456.45 172.06 L456.95 172.59 L456.95 178.14 L457.45 178.05 L457.45 172.70 L457.95 172.31 L457.95 178.51 L458.45 178.05 L458.45 172.72 L458.95 172.65 L458.95 178.25 L459.45 178.05 L459.45 172.72 L459.95 172.43 L459.95 178.63 L460.45 178.43 L460.45 170.57 L460.95 171.77 L460.95 178.21 L461.45 178.35 L461.45 172.75 L461.95 172.50 L461.95 178.18 L462.45 178.05 L462.45 172.75 L462.95 172.74 L462.95 178.97 L463.45 178.72 L463.45 172.75 L463.95 172.75 L463.95 179.90 L464.45 178.99 L464.45 172.26 L464.95 172.70 L464.95 178.05 L465.45 178.05 L465.45 172.74 L465.95 172.75 L465.95 178.75 L466.45 178.05 L466.45 172.75 L466.95 172.75 L466.95 178.05 L467.45 178.64 L467.45 172.75 L467.95 172.75 L467.95 178.05 L468.45 178.05 L468.45 172.75 L468.95 171.56 L468.95 178.42 L469.45 178.05 L469.45 172.31 L469.95 170.85 L469.95 178.99 L470.45 179.77 L470.45 172.26 L470.95 172.69 L470.95 178.05 L471.45 180.27 L471.45 172.01 L471.95 172.56 L471.95 178.05 L472.45 178.05 L472.45 172.75 L472.95 172.73 L472.95 178.05 L473.45 179.66 L473.45 172.75 L473.95 172.75 L473.95 178.05 L474.45 178.64 L474.45 172.75 L474.95 171.17 L474.95 178.05 L475.45 178.05 L475.45 172.10 L475.95 172.75 L475.95 178.05 L476.45 178.08 L476.45 172.05 L476.95 171.59 L476.95 178.05 L477.45 178.05 L477.45 171.89 L477.95 171.52 L477.95 180.75 L478.45 178.85 L478.45 171.87 L478.95 172.23 L478.95 178.05 L479.45 178.05 L479.45 172.68 L479.95 169.80 L479.95 179.14 L480.45 178.94 L480.45 171.34 L480.95 172.46 L480.95 178.05 L481.45 178.96 L481.45 172.75 L481.95 172.75 L481.95 178.05 L482.45 179.12 L482.45 172.67 L482.95 172.75 L482.95 178.08 L483.45 178.06 L483.45 172.57 L483.95 170.55 L483.95 178.05 L484.45 178.05 L484.45 172.15 L484.95 172.75 L484.95 178.05 L485.45 178.94 L485.45 172.37 L485.95 172.09 L485.95 178.05 L486.45 178.05 L486.45 170.69 L486.95 171.83 L486.95 178.05 L487.45 178.05 L487.45 172.75 L487.95 172.75 L487.95 178.05 L488.45 179.73 L488.45 172.75 L488.95 171.82 L488.95 178.05 L489.45 178.05 L489.45 172.45 L489.95 172.75 L489.95 178.05 L490.45 178.05 L490.45 172.75 L490.95 172.75 L490.95 178.19 L491.45 178.28 L491.45 172.75 L491.95 172.75 L491.95 178.05 L492.45 180.89 L492.45 171.83 L492.95 172.46 L492.95 178.05 L493.45 178.11 L493.45 172.75 L493.95 172.75 L493.95 178.26 L494.45 178.57 L494.45 172.75 L494.95 172.39 L494.95 180.12 L495.45 178.05 L495.45 172.75 L495.95 172.71 L495.95 178.05 L496.45 179.29 L496.45 172.75 L496.95 172.30 L496.95 178.73 L497.45 178.05 L497.45 172.72 L497.95 172.75 L497.95 178.05 L498.45 178.66 L498.45 172.75 L498.95 172.75 L498.95 178.05 L499.45 178.05 L499.45 172.75 L499.95 170.85 L499.95 178.05 L500.45 178.06 L500.45 172.75 L500.95 171.88 L500.95 178.05 L501.45 178.05 L501.45 172.49 L501.95 172.75 L501.95 178.05 L502.45 178.93 L502.45 172.75 L502.95 172.28 L502.95 178.05 L503.45 179.40 L503.45 172.71 L503.95 172.75 L503.95 178.41 L504.45 178.07 L504.45 172.69 L504.95 172.75 L504.95 178.38 L505.45 178.05 L505.45 171.65 L505.95 172.36 L505.95 178.05 L506.45 178.13 L506.45 172.75 L506.95 172.43 L506.95 178.05 L507.45 178.05 L507.45 172.32 L507.95 172.73 L507.95 178.05 L508.45 178.05 L508.45 172.75 L508.95 172.20 L508.95 178.05 L509.45 178.05 L509.45 172.58 L509.95 172.75 L509.95 178.05 L510.45 178.32 L510.45 172.00 L510.95 172.55 L510.95 179.36 L511.45 178.05 L511.45 172.31 L511.95 170.33 L511.95 178.05 L512.45 179.57 L512.45 171.63 L512.95 172.08 L512.95 178.05 L513.45 178.05 L513.45 171.81 L513.95 172.00 L513.95 178.05 L514.45 178.22 L514.45 172.55 L514.95 172.75 L514.95 178.05 L515.45 178.05 L515.45 172.44 L515.95 172.75 L515.95 179.14 L516.45 178.05 L516.45 172.75 L516.95 172.75 L516.95 178.05 L517.45 178.05 L517.45 172.75 L517.95 172.36 L517.95 178.84 L518.45 178.81 L518.45 172.64 L518.95 172.26 L518.95 178.46 L519.45 180.31 L519.45 172.65 L519.95 172.75 L519.95 180.75 L520.45 178.05 L520.45 172.75 L520.95 172.75 L520.95 178.05 L521.45 178.05 L521.45 172.75 L521.95 171.66 L521.95 178.30 L522.45 178.05 L522.45 172.36 L522.95 172.75 L522.95 178.10 L523.45 178.78 L523.45 172.32 L523.95 172.73 L523.95 178.05 L524.45 178.33 L524.45 172.75 L524.95 172.45 L524.95 178.05 L525.45 178.50 L525.45 172.27 L525.95 172.70 L525.95 178.05 L526.45 179.50 L526.45 172.75 L526.95 172.75 L526.95 178.36 L527.45 178.05 L527.45 171.80 L527.95 172.44 L527.95 178.05 L528.45 179.31 L528.45 172.75 L528.95 172.31 L528.95 178.32 L529.45 178.10 L529.45 172.05 L529.95 172.58 L529.95 178.05 L530.45 178.26 L530.45 172.62 L530.95 172.59 L530.95 178.42 L531.45 178.05 L531.45 172.75 L531.95 172.75 L531.95 178.05 L532.45 178.11 L532.45 172.75 L532.95 172.75 L532.95 178.05 L533.45 180.13 L533.45 172.75 L533.95 171.96 L533.95 178.05 L534.45 178.05 L534.45 172.53 L534.95 172.66 L534.95 178.05 L535.45 178.05 L535.45 170.77 L535.95 170.85 L535.95 178.05 L536.45 178.39 L536.45 171.65 L536.95 172.36 L536.95 178.26 L537.45 178.05 L537.45 171.72 L537.95 172.40 L537.95 178.05 L538.45 178.27 L538.45 172.30 L538.95 172.72 L538.95 178.05 L539.45 178.05 L539.45 172.70 L539.95 172.75 L539.95 178.05 L540.45 183.95 L540.45 172.75 L540.95 172.75 L540.95 178.05 L541.45 178.05 L541.45 172.75 L541.95 172.64 L541.95 178.05 L542.45 178.05 L542.45 172.75 L542.95 172.24 L542.95 178.05 L543.45 178.05 L543.45 160.40"/>
<text class="ti" x="471.15" y="153.90">Skewness</text>
<text class="xl" x="470.75" y="208.50">time points</text>
</g>
<g>
<rect class="ax" x="17.25" y="220.50" width="145.00" height="33.00"/>
<text class="t" text-anchor="middle" transform="translate(16.85 262.90) scale(1 1.12)">0</text>
<text class="t" text-anchor="middle" transform="translate(62.65 262.90) scale(1 1.12)">2000</text>
<text class="t" text-anchor="middle" transform="translate(108.45 262.90) scale(1 1.12)">4000</text>
<text class="t" text-anchor="middle" transform="translate(154.25 262.90) scale(1 1.12)">6000</text>
<text class="t" text-anchor="end" transform="translate(15.55 257.45) scale(1 1.12)">0</text>
<text class="t" text-anchor="end" transform="translate(15.55 235.36) scale(1 1.12)">0.1</text>
<path class="tk" d="M63.05 253.50 v-2 M63.05 220.50 v2 M108.85 253.50 v-2 M108.85 220.50 v2 M154.65 253.50 v-2 M154.65 220.50 v2 M17.25 232.21 h2 M162.25 232.21 h-2"/>
<path class="l" d="M17.25 237.03 L17.25 235.53 L17.75 235.75 L17.75 236.99 L18.25 237.39 L18.25 235.86 L18.75 235.76 L18.75 237.69 L19.25 237.99 L19.25 236.54 L19.75 236.66 L19.75 238.44 L20.25 238.69 L20.25 237.30 L20.75 237.34 L20.75 238.65 L21.25 238.95 L21.25 237.52 L21.75 237.69 L21.75 239.22 L22.25 239.07 L22.25 237.69 L22.75 237.55 L22.75 239.11 L23.25 239.88 L23.25 237.71 L23.75 237.80 L23.75 239.00 L24.25 239.06 L24.25 237.75 L24.75 237.72 L24.75 239.19 L25.25 239.15 L25.25 238.01 L25.75 237.96 L25.75 239.31 L26.25 239.48 L26.25 238.17 L26.75 238.20 L26.75 239.82 L27.25 239.54 L27.25 237.84 L27.75 237.82 L27.75 239.48 L28.25 239.14 L28.25 237.57 L28.75 237.21 L28.75 238.83 L29.25 238.39 L29.25 237.15 L29.75 237.17 L29.75 238.48 L30.25 239.00 L30.25 237.48 L30.75 237.28 L30.75 238.93 L31.25 239.19 L31.25 237.28 L31.75 238.05 L31.75 239.22 L32.25 239.34 L32.25 238.06 L32.75 238.17 L32.75 239.39 L33.25 239.32 L33.25 238.00 L33.75 237.83 L33.75 239.57 L34.25 239.40 L34.25 238.00 L34.75 237.81 L34.75 239.67 L35.25 239.19 L35.25 237.86 L35.75 238.07 L35.75 239.31 L36.25 239.74 L36.25 238.23 L36.75 238.27 L36.75 240.00 L37.25 239.81 L37.25 238.14 L37.75 238.23 L37.75 239.61 L38.25 239.70 L38.25 238.16 L38.75 238.47 L38.75 239.74 L39.25 239.49 L39.25 238.13 L39.75 238.13 L39.75 239.54 L40.25 239.54 L40.25 238.25 L40.75 238.29 L40.75 239.67 L41.25 239.64 L41.25 237.99 L41.75 238.06 L41.75 239.96 L42.25 240.03 L42.25 238.61 L42.75 238.49 L42.75 239.84 L43.25 239.87 L43.25 238.51 L43.75 238.25 L43.75 239.77 L44.25 239.80 L44.25 238.21 L44.75 237.98 L44.75 239.53 L45.25 240.04 L45.25 238.07 L45.75 238.20 L45.75 239.91 L46.25 239.81 L46.25 238.40 L46.75 238.33 L46.75 239.62 L47.25 240.05 L47.25 238.26 L47.75 238.40 L47.75 239.85 L48.25 239.66 L48.25 238.18 L48.75 238.32 L48.75 239.60 L49.25 239.38 L49.25 238.10 L49.75 237.75 L49.75 239.60 L50.25 239.68 L50.25 238.03 L50.75 238.02 L50.75 239.59 L51.25 239.70 L51.25 238.16 L51.75 237.98 L51.75 239.45 L52.25 239.69 L52.25 238.35 L52.75 238.50 L52.75 239.96 L53.25 239.85 L53.25 238.29 L53.75 238.28 L53.75 240.01 L54.25 239.88 L54.25 238.47 L54.75 238.24 L54.75 239.48 L55.25 239.16 L55.25 237.91 L55.75 237.93 L55.75 239.34 L56.25 239.49 L56.25 237.79 L56.75 237.75 L56.75 239.35 L57.25 239.52 L57.25 237.92 L57.75 238.07 L57.75 239.48 L58.25 239.54 L58.25 238.09 L58.75 238.25 L58.75 239.46 L59.25 239.63 L59.25 238.23 L59.75 237.91 L59.75 239.33 L60.25 239.34 L60.25 237.91 L60.75 237.97 L60.75 239.52 L61.25 239.44 L61.25 237.96 L61.75 238.04 L61.75 239.95 L62.25 239.67 L62.25 238.25 L62.75 238.08 L62.75 239.53 L63.25 239.98 L63.25 238.29 L63.75 238.23 L63.75 239.75 L64.25 239.45 L64.25 238.30 L64.75 238.04 L64.75 239.71 L65.25 239.50 L65.25 238.24 L65.75 237.99 L65.75 239.33 L66.25 239.36 L66.25 238.11 L66.75 237.93 L66.75 239.85 L67.25 239.56 L67.25 238.15 L67.75 238.19 L67.75 239.68 L68.25 239.59 L68.25 238.23 L68.75 238.27 L68.75 239.50 L69.25 239.78 L69.25 238.54 L69.75 238.37 L69.75 239.88 L70.25 239.98 L70.25 238.62 L70.75 238.76 L70.75 240.07 L71.25 240.44 L71.25 238.86 L71.75 238.60 L71.75 240.12 L72.25 240.41 L72.25 238.48 L72.75 238.51 L72.75 240.01 L73.25 240.16 L73.25 238.35 L73.75 238.63 L73.75 240.28 L74.25 239.71 L74.25 237.91 L74.75 238.11 L74.75 239.57 L75.25 239.61 L75.25 238.39 L75.75 238.58 L75.75 240.12 L76.25 240.01 L76.25 238.26 L76.75 238.54 L76.75 240.04 L77.25 240.15 L77.25 238.74 L77.75 238.63 L77.75 239.98 L78.25 239.54 L78.25 238.09 L78.75 237.76 L78.75 239.42 L79.25 239.64 L79.25 237.92 L79.75 238.05 L79.75 239.65 L80.25 239.19 L80.25 237.59 L80.75 237.84 L80.75 239.32 L81.25 239.57 L81.25 238.06 L81.75 237.97 L81.75 239.51 L82.25 239.66 L82.25 238.09 L82.75 238.40 L82.75 239.73 L83.25 240.35 L83.25 238.56 L83.75 238.59 L83.75 239.85 L84.25 239.68 L84.25 238.05 L84.75 238.35 L84.75 239.98 L85.25 239.68 L85.25 238.19 L85.75 237.90 L85.75 239.45 L86.25 239.45 L86.25 237.98 L86.75 238.21 L86.75 239.73 L87.25 239.64 L87.25 238.14 L87.75 238.04 L87.75 239.59 L88.25 239.37 L88.25 237.92 L88.75 238.11 L88.75 239.58 L89.25 239.50 L89.25 238.36 L89.75 237.89 L89.75 239.82 L90.25 239.10 L90.25 237.96 L90.75 237.73 L90.75 239.00 L91.25 239.09 L91.25 237.62 L91.75 237.14 L91.75 238.86 L92.25 238.69 L92.25 237.52 L92.75 237.54 L92.75 238.85 L93.25 238.92 L93.25 237.68 L93.75 237.79 L93.75 239.02 L94.25 239.16 L94.25 237.68 L94.75 237.93 L94.75 239.15 L95.25 239.17 L95.25 237.90 L95.75 237.35 L95.75 239.02 L96.25 238.79 L96.25 237.17 L96.75 237.28 L96.75 238.73 L97.25 238.64 L97.25 237.10 L97.75 237.27 L97.75 238.81 L98.25 238.82 L98.25 237.37 L98.75 237.13 L98.75 238.85 L99.25 238.73 L99.25 237.03 L99.75 237.36 L99.75 239.00 L100.25 238.60 L100.25 237.26 L100.75 237.15 L100.75 238.62 L101.25 238.56 L101.25 237.01 L101.75 237.36 L101.75 238.75 L102.25 238.71 L102.25 237.15 L102.75 237.25 L102.75 238.71 L103.25 238.71 L103.25 236.80 L103.75 237.24 L103.75 239.13 L104.25 238.70 L104.25 237.16 L104.75 237.06 L104.75 238.39 L105.25 238.24 L105.25 236.81 L105.75 236.86 L105.75 238.19 L106.25 238.29 L106.25 237.01 L106.75 237.24 L106.75 238.80 L107.25 238.45 L107.25 237.05 L107.75 237.21 L107.75 238.49 L108.25 238.52 L108.25 237.34 L108.75 237.26 L108.75 238.63 L109.25 238.51 L109.25 237.13 L109.75 237.37 L109.75 238.65 L110.25 238.65 L110.25 237.34 L110.75 237.01 L110.75 238.86 L111.25 238.72 L111.25 236.89 L111.75 236.44 L111.75 238.42 L112.25 238.24 L112.25 236.73 L112.75 236.56 L112.75 238.14 L113.25 238.28 L113.25 236.75 L113.75 237.16 L113.75 238.52 L114.25 238.59 L114.25 237.13 L114.75 236.86 L114.75 238.46 L115.25 238.75 L115.25 236.67 L115.75 236.91 L115.75 238.44 L116.25 238.35 L116.25 236.80 L116.75 236.74 L116.75 238.61 L117.25 238.58 L117.25 236.65 L117.75 236.92 L117.75 238.38 L118.25 238.55 L118.25 237.19 L118.75 236.97 L118.75 238.33 L119.25 238.81 L119.25 237.28 L119.75 236.88 L119.75 238.66 L120.25 238.94 L120.25 237.17 L120.75 237.70 L120.75 239.08 L121.25 239.04 L121.25 237.53 L121.75 237.40 L121.75 239.03 L122.25 238.86 L122.25 237.43 L122.75 236.88 L122.75 238.61 L123.25 238.17 L123.25 236.82 L123.75 236.63 L123.75 238.43 L124.25 238.22 L124.25 236.84 L124.75 236.80 L124.75 238.36 L125.25 238.57 L125.25 237.16 L125.75 237.07 L125.75 238.64 L126.25 238.50 L126.25 236.80 L126.75 236.87 L126.75 238.82 L127.25 238.60 L127.25 237.18 L127.75 236.99 L127.75 238.53 L128.25 238.44 L128.25 237.16 L128.75 237.12 L128.75 238.56 L129.25 238.71 L129.25 236.58 L129.75 236.78 L129.75 238.16 L130.25 238.57 L130.25 236.85 L130.75 236.72 L130.75 238.18 L131.25 238.53 L131.25 237.09 L131.75 237.07 L131.75 239.01 L132.25 238.59 L132.25 237.09 L132.75 237.55 L132.75 238.92 L133.25 239.14 L133.25 237.41 L133.75 237.71 L133.75 238.88 L134.25 239.50 L134.25 237.48 L134.75 237.24 L134.75 238.71 L135.25 238.76 L135.25 236.97 L135.75 236.90 L135.75 238.46 L136.25 237.93 L136.25 236.30 L136.75 236.45 L136.75 237.80 L137.25 238.39 L137.25 236.75 L137.75 236.62 L137.75 238.10 L138.25 238.23 L138.25 236.85 L138.75 237.18 L138.75 238.62 L139.25 238.20 L139.25 236.70 L139.75 236.85 L139.75 238.35 L140.25 238.28 L140.25 236.88 L140.75 236.86 L140.75 238.18 L141.25 238.05 L141.25 236.61 L141.75 236.70 L141.75 238.03 L142.25 238.17 L142.25 236.46 L142.75 236.55 L142.75 238.00 L143.25 237.83 L143.25 236.14 L143.75 236.32 L143.75 237.71 L144.25 237.85 L144.25 236.43 L144.75 235.67 L144.75 238.01 L145.25 237.99 L145.25 236.81 L145.75 236.51 L145.75 238.42 L146.25 238.19 L146.25 236.78 L146.75 236.56 L146.75 238.16 L147.25 238.05 L147.25 236.66 L147.75 236.74 L147.75 238.01 L148.25 238.16 L148.25 236.50 L148.75 236.67 L148.75 238.54 L149.25 238.30 L149.25 236.83 L149.75 236.76 L149.75 237.95 L150.25 238.33 L150.25 236.52 L150.75 236.65 L150.75 237.98 L151.25 238.42 L151.25 236.53 L151.75 236.66 L151.75 237.88 L152.25 238.08 L152.25 236.90 L152.75 236.62 L152.75 238.13 L153.25 238.58 L153.25 236.45 L153.75 237.04 L153.75 238.68 L154.25 238.59 L154.25 237.11 L154.75 236.69 L154.75 238.14 L155.25 238.12 L155.25 236.44 L155.75 236.87 L155.75 238.23 L156.25 237.95 L156.25 236.73 L156.75 236.52 L156.75 238.09 L157.25 237.96 L157.25 236.45 L157.75 236.40 L157.75 237.73 L158.25 237.77 L158.25 235.83 L158.75 236.05 L158.75 237.44 L159.25 236.64 L159.25 235.32 L159.75 234.08 L159.75 235.77 L160.25 234.54 L160.25 232.74 L160.75 230.64 L160.75 231.98 L161.25 229.12 L161.25 227.88 L161.75 224.01 L161.75 225.72 L162.25 253.50 L162.25 220.50"/>
<text class="ti" x="89.95" y="217.90">Root Mean Square</text>
<text class="xl" x="89.55" y="272.50">time points</text>
</g>
<g>
<rect class="ax" x="207.20" y="220.50" width="145.00" height="33.00"/>
<text class="t" text-anchor="middle" transform="translate(206.80 262.90) scale(1 1.12)">0</text>
<text class="t" text-anchor="middle" transform="translate(252.60 262.90) scale(1 1.12)">2000</text>
<text class="t" text-anchor="middle" transform="translate(298.40 262.90) scale(1 1.12)">4000</text>
<text class="t" text-anchor="middle" transform="translate(344.20 262.90) scale(1 1.12)">6000</text>
<text class="t" text-anchor="end" transform="translate(205.50 257.45) scale(1 1.12)">1.22</text>
<text class="t" text-anchor="end" transform="translate(205.50 250.05) scale(1 1.12)">1.24</text>
<text class="t" text-anchor="end" transform="translate(205.50 243.45) scale(1 1.12)">1.26</text>
<text class="t" text-anchor="end" transform="translate(205.50 236.85) scale(1 1.12)">1.28</text>
<text class="t" text-anchor="end" transform="translate(205.50 230.25) scale(1 1.12)">1.3</text>
<text class="t" text-anchor="end" transform="translate(205.50 224.05) scale(1 1.12)">1.32</text>
<path class="tk" d="M253.00 253.50 v-2 M253.00 220.50 v2 M298.80 253.50 v-2 M298.80 220.50 v2 M344.60 253.50 v-2 M344.60 220.50 v2 M207.20 246.90 h2 M352.20 246.90 h-2 M207.20 240.30 h2 M352.20 240.30 h-2 M207.20 233.70 h2 M352.20 233.70 h-2 M207.20 227.10 h2 M352.20 227.10 h-2"/>
<path class="b" d="M207.20 236.60 L207.20 227.10 L207.70 227.99 L207.70 237.65 L208.20 237.49 L208.20 228.66 L208.70 229.14 L208.70 238.08 L209.20 238.50 L209.20 230.06 L209.70 229.07 L209.70 239.99 L210.20 240.70 L210.20 231.07 L210.70 231.51 L210.70 240.25 L211.20 240.12 L211.20 231.77 L211.70 232.32 L211.70 240.03 L212.20 240.37 L212.20 231.73 L212.70 231.63 L212.70 239.78 L213.20 239.60 L213.20 232.00 L213.70 232.14 L213.70 239.28 L214.20 240.07 L214.20 233.22 L214.70 233.20 L214.70 240.00 L215.20 240.59 L215.20 233.30 L215.70 232.98 L215.70 243.45 L216.20 240.86 L216.20 233.67 L216.70 233.93 L216.70 240.64 L217.20 241.40 L217.20 234.27 L217.70 234.17 L217.70 242.08 L218.20 242.41 L218.20 234.10 L218.70 234.23 L218.70 242.64 L219.20 242.17 L219.20 234.00 L219.70 233.64 L219.70 242.52 L220.20 243.66 L220.20 233.71 L220.70 234.21 L220.70 241.83 L221.20 240.92 L221.20 234.00 L221.70 233.59 L221.70 240.71 L222.20 241.84 L222.20 233.26 L222.70 232.66 L222.70 240.66 L223.20 239.21 L223.20 231.62 L223.70 230.59 L223.70 239.16 L224.20 238.77 L224.20 230.80 L224.70 231.22 L224.70 238.56 L225.20 238.89 L225.20 231.16 L225.70 230.98 L225.70 239.23 L226.20 240.22 L226.20 231.33 L226.70 231.88 L226.70 239.44 L227.20 240.35 L227.20 230.38 L227.70 230.63 L227.70 239.13 L228.20 240.25 L228.20 232.45 L228.70 233.50 L228.70 240.34 L229.20 241.24 L229.20 232.83 L229.70 232.65 L229.70 240.54 L230.20 240.86 L230.20 231.76 L230.70 232.67 L230.70 240.45 L231.20 240.74 L231.20 232.85 L231.70 231.45 L231.70 240.10 L232.20 239.19 L232.20 231.85 L232.70 231.99 L232.70 239.72 L233.20 239.70 L233.20 232.57 L233.70 231.66 L233.70 239.74 L234.20 241.20 L234.20 231.17 L234.70 231.75 L234.70 240.69 L235.20 240.65 L235.20 232.09 L235.70 232.08 L235.70 241.99 L236.20 242.22 L236.20 230.15 L236.70 231.17 L236.70 242.02 L237.20 241.12 L237.20 231.81 L237.70 231.48 L237.70 241.80 L238.20 240.63 L238.20 230.16 L238.70 230.80 L238.70 240.37 L239.20 240.41 L239.20 230.67 L239.70 230.71 L239.70 240.55 L240.20 240.15 L240.20 229.46 L240.70 229.57 L240.70 239.11 L241.20 239.11 L241.20 228.38 L241.70 229.76 L241.70 238.77 L242.20 239.26 L242.20 230.16 L242.70 231.18 L242.70 239.56 L243.20 240.54 L243.20 230.78 L243.70 231.29 L243.70 238.72 L244.20 240.10 L244.20 231.65 L244.70 232.06 L244.70 238.71 L245.20 239.22 L245.20 232.23 L245.70 232.50 L245.70 239.00 L246.20 238.94 L246.20 232.74 L246.70 232.37 L246.70 239.19 L247.20 239.66 L247.20 232.81 L247.70 231.15 L247.70 240.39 L248.20 240.41 L248.20 232.31 L248.70 232.26 L248.70 241.77 L249.20 241.93 L249.20 232.90 L249.70 232.85 L249.70 241.45 L250.20 241.74 L250.20 232.77 L250.70 232.71 L250.70 242.42 L251.20 242.64 L251.20 232.83 L251.70 233.18 L251.70 242.56 L252.20 242.03 L252.20 233.32 L252.70 232.65 L252.70 242.38 L253.20 241.57 L253.20 233.74 L253.70 231.99 L253.70 241.17 L254.20 240.93 L254.20 232.49 L254.70 233.24 L254.70 240.29 L255.20 241.93 L255.20 233.48 L255.70 233.94 L255.70 241.94 L256.20 241.09 L256.20 233.63 L256.70 233.93 L256.70 241.93 L257.20 241.21 L257.20 232.88 L257.70 233.78 L257.70 241.89 L258.20 241.23 L258.20 233.11 L258.70 234.55 L258.70 242.02 L259.20 242.24 L259.20 234.79 L259.70 235.14 L259.70 242.11 L260.20 242.98 L260.20 235.23 L260.70 235.46 L260.70 241.91 L261.20 242.30 L261.20 235.56 L261.70 235.18 L261.70 243.68 L262.20 242.36 L262.20 234.40 L262.70 235.17 L262.70 243.19 L263.20 242.85 L263.20 234.03 L263.70 234.77 L263.70 242.13 L264.20 242.41 L264.20 234.31 L264.70 234.40 L264.70 242.39 L265.20 241.77 L265.20 232.70 L265.70 233.23 L265.70 242.19 L266.20 242.89 L266.20 234.31 L266.70 233.14 L266.70 242.52 L267.20 242.48 L267.20 233.51 L267.70 233.63 L267.70 242.29 L268.20 242.28 L268.20 233.81 L268.70 233.71 L268.70 242.61 L269.20 243.50 L269.20 233.95 L269.70 234.35 L269.70 242.80 L270.20 243.10 L270.20 234.17 L270.70 234.53 L270.70 242.56 L271.20 242.28 L271.20 233.59 L271.70 233.69 L271.70 242.30 L272.20 241.46 L272.20 233.73 L272.70 233.20 L272.70 241.62 L273.20 240.98 L273.20 233.87 L273.70 234.23 L273.70 241.64 L274.20 241.69 L274.20 234.30 L274.70 234.07 L274.70 241.30 L275.20 242.26 L275.20 233.31 L275.70 232.08 L275.70 241.36 L276.20 241.94 L276.20 233.30 L276.70 233.11 L276.70 242.46 L277.20 242.04 L277.20 233.27 L277.70 233.11 L277.70 243.10 L278.20 242.20 L278.20 232.87 L278.70 232.86 L278.70 242.82 L279.20 242.12 L279.20 232.68 L279.70 232.86 L279.70 241.76 L280.20 241.84 L280.20 233.23 L280.70 233.18 L280.70 241.81 L281.20 243.15 L281.20 233.22 L281.70 232.51 L281.70 241.30 L282.20 241.45 L282.20 231.25 L282.70 232.76 L282.70 241.34 L283.20 241.17 L283.20 233.41 L283.70 233.77 L283.70 241.22 L284.20 241.90 L284.20 233.91 L284.70 233.74 L284.70 241.48 L285.20 242.32 L285.20 234.10 L285.70 234.28 L285.70 241.51 L286.20 242.78 L286.20 234.27 L286.70 234.20 L286.70 241.00 L287.20 240.79 L287.20 233.51 L287.70 233.23 L287.70 241.17 L288.20 241.80 L288.20 232.70 L288.70 232.28 L288.70 241.54 L289.20 241.14 L289.20 232.09 L289.70 231.43 L289.70 240.38 L290.20 242.88 L290.20 232.57 L290.70 232.86 L290.70 240.86 L291.20 240.78 L291.20 233.34 L291.70 233.51 L291.70 241.31 L292.20 241.23 L292.20 233.53 L292.70 233.02 L292.70 242.10 L293.20 241.10 L293.20 233.57 L293.70 233.65 L293.70 240.80 L294.20 241.46 L294.20 232.07 L294.70 232.84 L294.70 239.88 L295.20 239.85 L295.20 232.32 L295.70 232.32 L295.70 239.85 L296.20 239.95 L296.20 231.56 L296.70 232.60 L296.70 239.71 L297.20 240.28 L297.20 233.20 L297.70 233.21 L297.70 239.87 L298.20 239.87 L298.20 233.25 L298.70 232.67 L298.70 240.38 L299.20 240.56 L299.20 233.23 L299.70 233.33 L299.70 240.90 L300.20 240.54 L300.20 232.90 L300.70 232.92 L300.70 240.30 L301.20 240.40 L301.20 231.64 L301.70 232.79 L301.70 239.79 L302.20 240.28 L302.20 233.65 L302.70 233.69 L302.70 240.58 L303.20 241.20 L303.20 232.65 L303.70 233.69 L303.70 241.13 L304.20 241.37 L304.20 233.26 L304.70 233.46 L304.70 241.54 L305.20 242.02 L305.20 233.67 L305.70 233.63 L305.70 241.28 L306.20 241.57 L306.20 233.78 L306.70 233.69 L306.70 241.41 L307.20 241.26 L307.20 233.78 L307.70 232.34 L307.70 241.03 L308.20 240.77 L308.20 232.95 L308.70 233.63 L308.70 241.15 L309.20 241.90 L309.20 231.51 L309.70 233.31 L309.70 241.40 L310.20 241.15 L310.20 233.71 L310.70 234.09 L310.70 240.39 L311.20 240.51 L311.20 233.97 L311.70 234.31 L311.70 240.69 L312.20 240.63 L312.20 233.17 L312.70 233.33 L312.70 240.32 L313.20 240.26 L313.20 233.65 L313.70 232.82 L313.70 239.65 L314.20 240.30 L314.20 232.48 L314.70 231.67 L314.70 239.83 L315.20 240.94 L315.20 232.00 L315.70 231.89 L315.70 241.05 L316.20 240.66 L316.20 232.53 L316.70 231.77 L316.70 241.20 L317.20 239.64 L317.20 231.92 L317.70 232.54 L317.70 239.23 L318.20 240.65 L318.20 233.32 L318.70 233.54 L318.70 240.14 L319.20 240.35 L319.20 232.52 L319.70 233.50 L319.70 240.09 L320.20 239.92 L320.20 230.78 L320.70 231.74 L320.70 240.56 L321.20 240.48 L321.20 231.74 L321.70 232.46 L321.70 239.92 L322.20 239.48 L322.20 232.35 L322.70 232.19 L322.70 239.73 L323.20 239.54 L323.20 231.09 L323.70 231.74 L323.70 241.23 L324.20 239.82 L324.20 232.36 L324.70 230.93 L324.70 239.58 L325.20 240.50 L325.20 232.06 L325.70 232.80 L325.70 240.87 L326.20 240.86 L326.20 233.31 L326.70 232.53 L326.70 240.63 L327.20 240.35 L327.20 232.59 L327.70 232.96 L327.70 240.29 L328.20 240.52 L328.20 232.89 L328.70 232.08 L328.70 240.62 L329.20 240.79 L329.20 232.34 L329.70 232.73 L329.70 240.97 L330.20 241.57 L330.20 232.71 L330.70 231.60 L330.70 241.58 L331.20 242.22 L331.20 229.81 L331.70 232.02 L331.70 241.85 L332.20 241.43 L332.20 232.98 L332.70 233.15 L332.70 242.31 L333.20 241.21 L333.20 233.47 L333.70 233.32 L333.70 241.75 L334.20 241.48 L334.20 233.20 L334.70 232.94 L334.70 240.71 L335.20 240.67 L335.20 232.79 L335.70 231.79 L335.70 242.17 L336.20 241.55 L336.20 230.46 L336.70 231.72 L336.70 241.57 L337.20 241.72 L337.20 232.79 L337.70 232.48 L337.70 241.95 L338.20 240.72 L338.20 232.81 L338.70 232.60 L338.70 240.05 L339.20 241.10 L339.20 232.03 L339.70 232.12 L339.70 239.72 L340.20 241.48 L340.20 230.92 L340.70 230.71 L340.70 239.31 L341.20 240.14 L341.20 229.57 L341.70 230.49 L341.70 238.77 L342.20 239.60 L342.20 231.57 L342.70 232.37 L342.70 241.71 L343.20 240.54 L343.20 232.12 L343.70 230.30 L343.70 241.45 L344.20 240.85 L344.20 225.88 L344.70 230.31 L344.70 240.96 L345.20 240.89 L345.20 232.73 L345.70 233.04 L345.70 242.18 L346.20 241.83 L346.20 233.52 L346.70 233.71 L346.70 240.93 L347.20 240.84 L347.20 233.66 L347.70 233.64 L347.70 240.46 L348.20 241.07 L348.20 232.04 L348.70 232.90 L348.70 240.38 L349.20 240.51 L349.20 232.97 L349.70 232.19 L349.70 241.21 L350.20 240.67 L350.20 232.96 L350.70 232.44 L350.70 240.25 L351.20 240.19 L351.20 232.72 L351.70 223.60 L351.70 240.73 L352.20 250.80 L352.20 226.00"/>
<text class="ti" x="279.90" y="217.90">Form Factor</text>
<text class="xl" x="279.50" y="272.50">time points</text>
</g>
<g>
<rect class="ax" x="398.45" y="220.50" width="145.00" height="33.00"/>
<text class="t" text-anchor="middle" transform="translate(398.05 262.90) scale(1 1.12)">0</text>
<text class="t" text-anchor="middle" transform="translate(443.85 262.90) scale(1 1.12)">2000</text>
<text class="t" text-anchor="middle" transform="translate(489.65 262.90) scale(1 1.12)">4000</text>
<text class="t" text-anchor="middle" transform="translate(535.45 262.90) scale(1 1.12)">6000</text>
<text class="t" text-anchor="end" transform="translate(396.75 257.45) scale(1 1.12)">0</text>
<text class="t" text-anchor="end" transform="translate(396.75 240.15) scale(1 1.12)">10</text>
<text class="t" text-anchor="end" transform="translate(396.75 224.05) scale(1 1.12)">20</text>
<path class="tk" d="M444.25 253.50 v-2 M444.25 220.50 v2 M490.05 253.50 v-2 M490.05 220.50 v2 M535.85 253.50 v-2 M535.85 220.50 v2 M398.45 237.00 h2 M543.45 237.00 h-2"/>
<path class="b" d="M398.45 240.59 L398.45 227.12 L398.95 229.20 L398.95 241.09 L399.45 240.46 L399.45 230.60 L399.95 231.68 L399.95 241.16 L400.45 240.50 L400.45 232.33 L400.95 233.77 L400.95 240.62 L401.45 240.65 L401.45 233.94 L401.95 233.81 L401.95 241.48 L402.45 240.66 L402.45 233.16 L402.95 230.88 L402.95 240.54 L403.45 240.38 L403.45 229.27 L403.95 231.21 L403.95 240.38 L404.45 240.84 L404.45 234.42 L404.95 235.23 L404.95 240.70 L405.45 240.52 L405.45 233.91 L405.95 234.14 L405.95 240.73 L406.45 241.45 L406.45 234.94 L406.95 233.90 L406.95 240.53 L407.45 240.40 L407.45 232.49 L407.95 233.95 L407.95 240.81 L408.45 240.50 L408.45 235.41 L408.95 235.41 L408.95 241.39 L409.45 240.62 L409.45 234.79 L409.95 235.31 L409.95 240.42 L410.45 240.47 L410.45 234.80 L410.95 232.20 L410.95 240.77 L411.45 240.77 L411.45 232.84 L411.95 231.54 L411.95 240.52 L412.45 240.53 L412.45 232.84 L412.95 235.43 L412.95 241.10 L413.45 241.80 L413.45 235.13 L413.95 233.95 L413.95 241.22 L414.45 240.82 L414.45 234.15 L414.95 232.85 L414.95 240.44 L415.45 240.41 L415.45 234.15 L415.95 235.31 L415.95 240.45 L416.45 240.83 L416.45 235.03 L416.95 234.98 L416.95 241.03 L417.45 240.39 L417.45 235.24 L417.95 235.45 L417.95 240.58 L418.45 240.40 L418.45 235.45 L418.95 233.68 L418.95 240.47 L419.45 241.34 L419.45 230.15 L419.95 233.07 L419.95 240.59 L420.45 240.81 L420.45 234.38 L420.95 235.45 L420.95 241.23 L421.45 240.41 L421.45 235.19 L421.95 235.33 L421.95 240.45 L422.45 240.37 L422.45 233.75 L422.95 232.05 L422.95 240.64 L423.45 240.96 L423.45 233.75 L423.95 235.45 L423.95 241.03 L424.45 241.13 L424.45 235.03 L424.95 235.45 L424.95 240.68 L425.45 240.49 L425.45 234.24 L425.95 235.02 L425.95 241.37 L426.45 240.63 L426.45 234.81 L426.95 235.33 L426.95 240.44 L427.45 240.38 L427.45 235.45 L427.95 235.24 L427.95 240.62 L428.45 240.47 L428.45 235.41 L428.95 234.61 L428.95 240.78 L429.45 241.60 L429.45 232.17 L429.95 231.55 L429.95 240.78 L430.45 240.39 L430.45 233.50 L430.95 235.45 L430.95 240.85 L431.45 240.51 L431.45 235.13 L431.95 235.45 L431.95 240.43 L432.45 240.43 L432.45 234.65 L432.95 233.60 L432.95 241.01 L433.45 241.65 L433.45 231.75 L433.95 233.60 L433.95 240.43 L434.45 240.42 L434.45 235.19 L434.95 235.28 L434.95 241.75 L435.45 240.89 L435.45 235.45 L435.95 235.45 L435.95 241.06 L436.45 240.45 L436.45 234.00 L436.95 232.55 L436.95 241.07 L437.45 241.10 L437.45 234.00 L437.95 235.45 L437.95 240.63 L438.45 240.89 L438.45 235.45 L438.95 235.45 L438.95 240.60 L439.45 241.25 L439.45 235.45 L439.95 234.73 L439.95 240.43 L440.45 240.38 L440.45 233.65 L440.95 231.85 L440.95 240.48 L441.45 241.02 L441.45 233.65 L441.95 234.50 L441.95 240.38 L442.45 240.43 L442.45 235.10 L442.95 234.71 L442.95 240.91 L443.45 240.38 L443.45 234.85 L443.95 234.67 L443.95 241.03 L444.45 240.68 L444.45 235.25 L444.95 235.36 L444.95 240.61 L445.45 240.73 L445.45 235.45 L445.95 235.45 L445.95 240.66 L446.45 240.40 L446.45 234.00 L446.95 232.55 L446.95 240.63 L447.45 240.53 L447.45 234.00 L447.95 233.46 L447.95 240.49 L448.45 240.53 L448.45 234.59 L448.95 235.32 L448.95 240.48 L449.45 241.33 L449.45 235.45 L449.95 235.45 L449.95 240.51 L450.45 240.86 L450.45 235.45 L450.95 234.99 L450.95 240.49 L451.45 241.18 L451.45 235.43 L451.95 235.45 L451.95 240.77 L452.45 240.51 L452.45 235.38 L452.95 234.40 L452.95 240.39 L453.45 240.60 L453.45 233.48 L453.95 229.55 L453.95 241.05 L454.45 240.37 L454.45 233.48 L454.95 235.45 L454.95 240.51 L455.45 240.86 L455.45 235.45 L455.95 235.45 L455.95 240.54 L456.45 240.93 L456.45 234.89 L456.95 235.38 L456.95 240.97 L457.45 241.28 L457.45 233.75 L457.95 232.05 L457.95 240.73 L458.45 240.53 L458.45 233.75 L458.95 235.44 L458.95 240.76 L459.45 240.70 L459.45 235.45 L459.95 235.45 L459.95 240.46 L460.45 240.61 L460.45 235.45 L460.95 235.45 L460.95 240.61 L461.45 240.40 L461.45 234.71 L461.95 234.75 L461.95 240.41 L462.45 240.58 L462.45 233.90 L462.95 232.35 L462.95 240.44 L463.45 240.63 L463.45 233.90 L463.95 235.03 L463.95 240.39 L464.45 240.97 L464.45 235.08 L464.95 234.70 L464.95 241.43 L465.45 240.76 L465.45 235.27 L465.95 233.05 L465.95 240.42 L466.45 240.48 L466.45 231.85 L466.95 233.05 L466.95 240.45 L467.45 240.90 L467.45 235.45 L467.95 235.04 L467.95 240.46 L468.45 240.42 L468.45 235.45 L468.95 235.45 L468.95 241.17 L469.45 241.41 L469.45 233.90 L469.95 232.35 L469.95 241.47 L470.45 240.61 L470.45 233.90 L470.95 235.45 L470.95 240.37 L471.45 240.62 L471.45 234.87 L471.95 235.31 L471.95 240.50 L472.45 240.81 L472.45 235.24 L472.95 232.20 L472.95 240.47 L473.45 241.23 L473.45 231.55 L473.95 232.20 L473.95 240.94 L474.45 241.89 L474.45 235.45 L474.95 233.87 L474.95 240.50 L475.45 240.63 L475.45 234.81 L475.95 231.18 L475.95 240.39 L476.45 240.71 L476.45 229.05 L476.95 231.18 L476.95 240.38 L477.45 241.22 L477.45 235.45 L477.95 234.56 L477.95 240.63 L478.45 240.43 L478.45 229.05 L478.95 225.85 L478.95 240.49 L479.45 240.81 L479.45 229.05 L479.95 234.84 L479.95 240.63 L480.45 240.45 L480.45 235.45 L480.95 235.45 L480.95 240.41 L481.45 240.50 L481.45 234.33 L481.95 235.07 L481.95 242.19 L482.45 240.92 L482.45 234.35 L482.95 228.85 L482.95 240.69 L483.45 240.45 L483.45 228.85 L483.95 228.85 L483.95 240.61 L484.45 240.86 L484.45 234.35 L484.95 234.51 L484.95 240.53 L485.45 240.72 L485.45 235.17 L485.95 234.99 L485.95 240.72 L486.45 240.66 L486.45 235.43 L486.95 235.36 L486.95 241.12 L487.45 241.28 L487.45 234.40 L487.95 235.11 L487.95 240.45 L488.45 240.57 L488.45 235.45 L488.95 235.14 L488.95 240.50 L489.45 240.58 L489.45 233.75 L489.95 232.05 L489.95 241.57 L490.45 240.83 L490.45 233.75 L490.95 235.45 L490.95 240.43 L491.45 240.57 L491.45 234.63 L491.95 235.23 L491.95 240.37 L492.45 240.65 L492.45 235.30 L492.95 235.45 L492.95 240.72 L493.45 240.74 L493.45 233.75 L493.95 232.05 L493.95 240.42 L494.45 241.58 L494.45 233.75 L494.95 235.45 L494.95 241.14 L495.45 240.37 L495.45 235.45 L495.95 235.28 L495.95 240.56 L496.45 240.43 L496.45 234.38 L496.95 229.05 L496.95 240.61 L497.45 240.46 L497.45 229.05 L497.95 229.05 L497.95 240.40 L498.45 240.62 L498.45 234.38 L498.95 234.55 L498.95 240.45 L499.45 240.48 L499.45 235.19 L499.95 235.38 L499.95 240.74 L500.45 240.60 L500.45 233.50 L500.95 231.55 L500.95 240.45 L501.45 241.01 L501.45 233.50 L501.95 235.45 L501.95 241.00 L502.45 240.41 L502.45 235.24 L502.95 235.45 L502.95 241.19 L503.45 240.78 L503.45 235.45 L503.95 235.45 L503.95 240.80 L504.45 241.05 L504.45 235.45 L504.95 235.45 L504.95 240.49 L505.45 240.40 L505.45 234.26 L505.95 234.45 L505.95 240.80 L506.45 240.37 L506.45 233.75 L506.95 232.05 L506.95 240.52 L507.45 240.51 L507.45 233.75 L507.95 234.80 L507.95 240.44 L508.45 240.50 L508.45 234.28 L508.95 235.04 L508.95 241.24 L509.45 240.41 L509.45 235.27 L509.95 234.00 L509.95 240.70 L510.45 240.43 L510.45 232.55 L510.95 234.00 L510.95 240.44 L511.45 241.53 L511.45 234.94 L511.95 235.45 L511.95 240.49 L512.45 240.88 L512.45 234.98 L512.95 235.43 L512.95 240.45 L513.45 241.01 L513.45 233.25 L513.95 231.05 L513.95 240.46 L514.45 240.72 L514.45 233.25 L514.95 233.51 L514.95 240.70 L515.45 241.14 L515.45 234.62 L515.95 233.87 L515.95 240.49 L516.45 240.97 L516.45 234.82 L516.95 235.45 L516.95 240.50 L517.45 240.38 L517.45 235.45 L517.95 235.45 L517.95 240.38 L518.45 241.51 L518.45 233.00 L518.95 230.55 L518.95 240.71 L519.45 241.20 L519.45 233.00 L519.95 234.52 L519.95 240.50 L520.45 240.50 L520.45 235.17 L520.95 235.45 L520.95 240.60 L521.45 240.76 L521.45 235.45 L521.95 235.45 L521.95 241.10 L522.45 240.93 L522.45 229.18 L522.95 226.05 L522.95 240.70 L523.45 240.96 L523.45 229.18 L523.95 235.45 L523.95 240.62 L524.45 240.54 L524.45 232.75 L524.95 230.05 L524.95 240.71 L525.45 240.53 L525.45 232.75 L525.95 234.89 L525.95 240.58 L526.45 240.77 L526.45 235.38 L526.95 230.18 L526.95 240.59 L527.45 240.50 L527.45 227.55 L527.95 230.18 L527.95 241.16 L528.45 240.80 L528.45 235.45 L528.95 235.11 L528.95 240.89 L529.45 241.51 L529.45 233.87 L529.95 234.82 L529.95 240.53 L530.45 240.51 L530.45 235.45 L530.95 230.85 L530.95 241.71 L531.45 240.46 L531.45 228.55 L531.95 230.85 L531.95 240.69 L532.45 240.44 L532.45 235.35 L532.95 235.45 L532.95 240.54 L533.45 240.81 L533.45 235.45 L533.95 232.84 L533.95 240.39 L534.45 240.41 L534.45 230.85 L534.95 228.55 L534.95 240.59 L535.45 241.34 L535.45 230.85 L535.95 234.97 L535.95 241.38 L536.45 240.43 L536.45 235.42 L536.95 235.45 L536.95 241.16 L537.45 240.55 L537.45 233.25 L537.95 231.05 L537.95 240.42 L538.45 240.61 L538.45 233.25 L538.95 235.45 L538.95 240.65 L539.45 240.54 L539.45 235.45 L539.95 235.14 L539.95 240.47 L540.45 241.42 L540.45 235.45 L540.95 234.80 L540.95 240.39 L541.45 241.21 L541.45 220.50 L541.95 226.00 L541.95 240.54 L542.45 240.39 L542.45 235.45 L542.95 234.74 L542.95 240.39 L543.45 250.40 L543.45 235.29"/>
<text class="ti" x="471.15" y="217.90">Crest Factor</text>
<text class="xl" x="470.75" y="272.50">time points</text>
</g>
<g>
<rect class="ax" x="17.25" y="300.50" width="145.00" height="33.00"/>
<text class="t" text-anchor="middle" transform="translate(16.85 342.90) scale(1 1.12)">0</text>
<text class="t" text-anchor="middle" transform="translate(62.65 342.90) scale(1 1.12)">2000</text>
<text class="t" text-anchor="middle" transform="translate(108.45 342.90) scale(1 1.12)">4000</text>
<text class="t" text-anchor="middle" transform="translate(154.25 342.90) scale(1 1.12)">6000</text>
<text class="t" text-anchor="end" transform="translate(15.55 337.45) scale(1 1.12)">0</text>
<text class="t" text-anchor="end" transform="translate(15.55 315.36) scale(1 1.12)">0.1</text>
<path class="tk" d="M63.05 333.50 v-2 M63.05 300.50 v2 M108.85 333.50 v-2 M108.85 300.50 v2 M154.65 333.50 v-2 M154.65 300.50 v2 M17.25 312.21 h2 M162.25 312.21 h-2"/>
<path class="l" d="M17.25 317.03 L17.25 315.53 L17.75 315.75 L17.75 316.99 L18.25 317.39 L18.25 315.86 L18.75 315.76 L18.75 317.69 L19.25 317.99 L19.25 316.54 L19.75 316.66 L19.75 318.44 L20.25 318.69 L20.25 317.30 L20.75 317.34 L20.75 318.65 L21.25 318.95 L21.25 317.52 L21.75 317.69 L21.75 319.22 L22.25 319.07 L22.25 317.69 L22.75 317.55 L22.75 319.11 L23.25 319.88 L23.25 317.71 L23.75 317.80 L23.75 319.00 L24.25 319.06 L24.25 317.75 L24.75 317.72 L24.75 319.19 L25.25 319.15 L25.25 318.01 L25.75 317.96 L25.75 319.31 L26.25 319.48 L26.25 318.17 L26.75 318.20 L26.75 319.82 L27.25 319.54 L27.25 317.84 L27.75 317.82 L27.75 319.48 L28.25 319.14 L28.25 317.57 L28.75 317.21 L28.75 318.83 L29.25 318.39 L29.25 317.15 L29.75 317.17 L29.75 318.48 L30.25 319.00 L30.25 317.48 L30.75 317.28 L30.75 318.93 L31.25 319.19 L31.25 317.28 L31.75 318.05 L31.75 319.22 L32.25 319.34 L32.25 318.06 L32.75 318.17 L32.75 319.39 L33.25 319.32 L33.25 318.00 L33.75 317.83 L33.75 319.57 L34.25 319.40 L34.25 318.00 L34.75 317.81 L34.75 319.67 L35.25 319.19 L35.25 317.86 L35.75 318.07 L35.75 319.31 L36.25 319.74 L36.25 318.23 L36.75 318.27 L36.75 320.00 L37.25 319.81 L37.25 318.14 L37.75 318.23 L37.75 319.61 L38.25 319.70 L38.25 318.16 L38.75 318.47 L38.75 319.74 L39.25 319.49 L39.25 318.13 L39.75 318.13 L39.75 319.54 L40.25 319.54 L40.25 318.25 L40.75 318.29 L40.75 319.67 L41.25 319.64 L41.25 317.99 L41.75 318.06 L41.75 319.96 L42.25 320.03 L42.25 318.61 L42.75 318.49 L42.75 319.84 L43.25 319.87 L43.25 318.51 L43.75 318.25 L43.75 319.77 L44.25 319.80 L44.25 318.21 L44.75 317.98 L44.75 319.53 L45.25 320.04 L45.25 318.07 L45.75 318.20 L45.75 319.91 L46.25 319.81 L46.25 318.40 L46.75 318.33 L46.75 319.62 L47.25 320.05 L47.25 318.26 L47.75 318.40 L47.75 319.85 L48.25 319.66 L48.25 318.18 L48.75 318.32 L48.75 319.60 L49.25 319.38 L49.25 318.10 L49.75 317.75 L49.75 319.60 L50.25 319.68 L50.25 318.03 L50.75 318.02 L50.75 319.59 L51.25 319.70 L51.25 318.16 L51.75 317.98 L51.75 319.45 L52.25 319.69 L52.25 318.35 L52.75 318.50 L52.75 319.96 L53.25 319.85 L53.25 318.29 L53.75 318.28 L53.75 320.01 L54.25 319.88 L54.25 318.47 L54.75 318.24 L54.75 319.48 L55.25 319.16 L55.25 317.91 L55.75 317.93 L55.75 319.34 L56.25 319.49 L56.25 317.79 L56.75 317.75 L56.75 319.35 L57.25 319.52 L57.25 317.92 L57.75 318.07 L57.75 319.48 L58.25 319.54 L58.25 318.09 L58.75 318.25 L58.75 319.46 L59.25 319.63 L59.25 318.23 L59.75 317.91 L59.75 319.33 L60.25 319.34 L60.25 317.91 L60.75 317.97 L60.75 319.52 L61.25 319.44 L61.25 317.96 L61.75 318.04 L61.75 319.95 L62.25 319.67 L62.25 318.25 L62.75 318.08 L62.75 319.53 L63.25 319.98 L63.25 318.29 L63.75 318.23 L63.75 319.75 L64.25 319.45 L64.25 318.30 L64.75 318.04 L64.75 319.71 L65.25 319.50 L65.25 318.24 L65.75 317.99 L65.75 319.33 L66.25 319.36 L66.25 318.11 L66.75 317.93 L66.75 319.85 L67.25 319.56 L67.25 318.15 L67.75 318.19 L67.75 319.68 L68.25 319.59 L68.25 318.23 L68.75 318.27 L68.75 319.50 L69.25 319.78 L69.25 318.54 L69.75 318.37 L69.75 319.88 L70.25 319.98 L70.25 318.62 L70.75 318.76 L70.75 320.07 L71.25 320.44 L71.25 318.86 L71.75 318.60 L71.75 320.12 L72.25 320.41 L72.25 318.48 L72.75 318.51 L72.75 320.01 L73.25 320.16 L73.25 318.35 L73.75 318.63 L73.75 320.28 L74.25 319.71 L74.25 317.91 L74.75 318.11 L74.75 319.57 L75.25 319.61 L75.25 318.39 L75.75 318.58 L75.75 320.12 L76.25 320.01 L76.25 318.26 L76.75 318.54 L76.75 320.04 L77.25 320.15 L77.25 318.74 L77.75 318.63 L77.75 319.98 L78.25 319.54 L78.25 318.09 L78.75 317.76 L78.75 319.42 L79.25 319.64 L79.25 317.92 L79.75 318.05 L79.75 319.65 L80.25 319.19 L80.25 317.59 L80.75 317.84 L80.75 319.32 L81.25 319.57 L81.25 318.06 L81.75 317.97 L81.75 319.51 L82.25 319.66 L82.25 318.09 L82.75 318.40 L82.75 319.73 L83.25 320.35 L83.25 318.56 L83.75 318.59 L83.75 319.85 L84.25 319.68 L84.25 318.05 L84.75 318.35 L84.75 319.98 L85.25 319.68 L85.25 318.19 L85.75 317.90 L85.75 319.45 L86.25 319.45 L86.25 317.98 L86.75 318.21 L86.75 319.73 L87.25 319.64 L87.25 318.14 L87.75 318.04 L87.75 319.59 L88.25 319.37 L88.25 317.92 L88.75 318.11 L88.75 319.58 L89.25 319.50 L89.25 318.36 L89.75 317.89 L89.75 319.82 L90.25 319.10 L90.25 317.96 L90.75 317.73 L90.75 319.00 L91.25 319.09 L91.25 317.62 L91.75 317.14 L91.75 318.86 L92.25 318.69 L92.25 317.52 L92.75 317.54 L92.75 318.85 L93.25 318.92 L93.25 317.68 L93.75 317.79 L93.75 319.02 L94.25 319.16 L94.25 317.68 L94.75 317.93 L94.75 319.15 L95.25 319.17 L95.25 317.90 L95.75 317.35 L95.75 319.02 L96.25 318.79 L96.25 317.17 L96.75 317.28 L96.75 318.73 L97.25 318.64 L97.25 317.10 L97.75 317.27 L97.75 318.81 L98.25 318.82 L98.25 317.37 L98.75 317.13 L98.75 318.85 L99.25 318.73 L99.25 317.03 L99.75 317.36 L99.75 319.00 L100.25 318.60 L100.25 317.26 L100.75 317.15 L100.75 318.62 L101.25 318.56 L101.25 317.01 L101.75 317.36 L101.75 318.75 L102.25 318.71 L102.25 317.15 L102.75 317.25 L102.75 318.71 L103.25 318.71 L103.25 316.80 L103.75 317.24 L103.75 319.13 L104.25 318.70 L104.25 317.16 L104.75 317.06 L104.75 318.39 L105.25 318.24 L105.25 316.81 L105.75 316.86 L105.75 318.19 L106.25 318.29 L106.25 317.01 L106.75 317.24 L106.75 318.80 L107.25 318.45 L107.25 317.05 L107.75 317.21 L107.75 318.49 L108.25 318.52 L108.25 317.34 L108.75 317.26 L108.75 318.63 L109.25 318.51 L109.25 317.13 L109.75 317.37 L109.75 318.65 L110.25 318.65 L110.25 317.34 L110.75 317.01 L110.75 318.86 L111.25 318.72 L111.25 316.89 L111.75 316.44 L111.75 318.42 L112.25 318.24 L112.25 316.73 L112.75 316.56 L112.75 318.14 L113.25 318.28 L113.25 316.75 L113.75 317.16 L113.75 318.52 L114.25 318.59 L114.25 317.13 L114.75 316.86 L114.75 318.46 L115.25 318.75 L115.25 316.67 L115.75 316.91 L115.75 318.44 L116.25 318.35 L116.25 316.80 L116.75 316.74 L116.75 318.61 L117.25 318.58 L117.25 316.65 L117.75 316.92 L117.75 318.38 L118.25 318.55 L118.25 317.19 L118.75 316.97 L118.75 318.33 L119.25 318.81 L119.25 317.28 L119.75 316.88 L119.75 318.66 L120.25 318.94 L120.25 317.17 L120.75 317.70 L120.75 319.08 L121.25 319.04 L121.25 317.53 L121.75 317.40 L121.75 319.03 L122.25 318.86 L122.25 317.43 L122.75 316.88 L122.75 318.61 L123.25 318.17 L123.25 316.82 L123.75 316.63 L123.75 318.43 L124.25 318.22 L124.25 316.84 L124.75 316.80 L124.75 318.36 L125.25 318.57 L125.25 317.16 L125.75 317.07 L125.75 318.64 L126.25 318.50 L126.25 316.80 L126.75 316.87 L126.75 318.82 L127.25 318.60 L127.25 317.18 L127.75 316.99 L127.75 318.53 L128.25 318.44 L128.25 317.16 L128.75 317.12 L128.75 318.56 L129.25 318.71 L129.25 316.58 L129.75 316.78 L129.75 318.16 L130.25 318.57 L130.25 316.85 L130.75 316.72 L130.75 318.18 L131.25 318.53 L131.25 317.09 L131.75 317.07 L131.75 319.01 L132.25 318.59 L132.25 317.09 L132.75 317.55 L132.75 318.92 L133.25 319.14 L133.25 317.41 L133.75 317.71 L133.75 318.88 L134.25 319.50 L134.25 317.48 L134.75 317.24 L134.75 318.71 L135.25 318.76 L135.25 316.97 L135.75 316.90 L135.75 318.46 L136.25 317.93 L136.25 316.30 L136.75 316.45 L136.75 317.80 L137.25 318.39 L137.25 316.75 L137.75 316.62 L137.75 318.10 L138.25 318.23 L138.25 316.85 L138.75 317.18 L138.75 318.62 L139.25 318.20 L139.25 316.70 L139.75 316.85 L139.75 318.35 L140.25 318.28 L140.25 316.88 L140.75 316.86 L140.75 318.18 L141.25 318.05 L141.25 316.61 L141.75 316.70 L141.75 318.03 L142.25 318.17 L142.25 316.46 L142.75 316.55 L142.75 318.00 L143.25 317.83 L143.25 316.14 L143.75 316.32 L143.75 317.71 L144.25 317.85 L144.25 316.43 L144.75 315.67 L144.75 318.01 L145.25 317.99 L145.25 316.81 L145.75 316.51 L145.75 318.42 L146.25 318.19 L146.25 316.78 L146.75 316.56 L146.75 318.16 L147.25 318.05 L147.25 316.66 L147.75 316.74 L147.75 318.01 L148.25 318.16 L148.25 316.50 L148.75 316.67 L148.75 318.54 L149.25 318.30 L149.25 316.83 L149.75 316.76 L149.75 317.95 L150.25 318.33 L150.25 316.52 L150.75 316.65 L150.75 317.98 L151.25 318.42 L151.25 316.53 L151.75 316.66 L151.75 317.88 L152.25 318.08 L152.25 316.90 L152.75 316.62 L152.75 318.13 L153.25 318.58 L153.25 316.45 L153.75 317.04 L153.75 318.68 L154.25 318.59 L154.25 317.11 L154.75 316.69 L154.75 318.14 L155.25 318.12 L155.25 316.44 L155.75 316.87 L155.75 318.23 L156.25 317.95 L156.25 316.73 L156.75 316.52 L156.75 318.09 L157.25 317.96 L157.25 316.45 L157.75 316.40 L157.75 317.73 L158.25 317.77 L158.25 315.83 L158.75 316.05 L158.75 317.44 L159.25 316.64 L159.25 315.32 L159.75 314.08 L159.75 315.77 L160.25 314.54 L160.25 312.74 L160.75 310.64 L160.75 311.98 L161.25 309.12 L161.25 307.88 L161.75 304.01 L161.75 305.72 L162.25 333.50 L162.25 300.50"/>
<text class="ti" x="89.95" y="297.90">Pulse Factor</text>
<text class="xl" x="89.55" y="352.50">time points</text>
</g>
<g>
<rect class="ax" x="207.20" y="300.50" width="145.00" height="33.00"/>
<text class="t" text-anchor="middle" transform="translate(206.80 342.90) scale(1 1.12)">0</text>
<text class="t" text-anchor="middle" transform="translate(252.60 342.90) scale(1 1.12)">2000</text>
<text class="t" text-anchor="middle" transform="translate(298.40 342.90) scale(1 1.12)">4000</text>
<text class="t" text-anchor="middle" transform="translate(344.20 342.90) scale(1 1.12)">6000</text>
<text class="t" text-anchor="end" transform="translate(205.50 337.45) scale(1 1.12)">3</text>
<text class="t" text-anchor="end" transform="translate(205.50 325.65) scale(1 1.12)">4</text>
<text class="t" text-anchor="end" transform="translate(205.50 314.65) scale(1 1.12)">5</text>
<text class="t" text-anchor="end" transform="translate(205.50 304.05) scale(1 1.12)">6</text>
<path class="tk" d="M253.00 333.50 v-2 M253.00 300.50 v2 M298.80 333.50 v-2 M298.80 300.50 v2 M344.60 333.50 v-2 M344.60 300.50 v2 M207.20 322.50 h2 M352.20 322.50 h-2 M207.20 311.50 h2 M352.20 311.50 h-2"/>
<path class="b" d="M207.20 326.95 L207.20 314.81 L207.70 317.22 L207.70 327.99 L208.20 328.25 L208.20 318.81 L208.70 318.09 L208.70 328.94 L209.20 328.90 L209.20 318.29 L209.70 318.67 L209.70 329.54 L210.20 329.89 L210.20 319.57 L210.70 320.20 L210.70 329.50 L211.20 329.78 L211.20 320.22 L211.70 320.34 L211.70 330.11 L212.20 329.91 L212.20 316.67 L212.70 316.76 L212.70 330.31 L213.20 330.41 L213.20 316.98 L213.70 321.25 L213.70 330.73 L214.20 330.35 L214.20 321.49 L214.70 321.63 L214.70 331.15 L215.20 330.69 L215.20 321.93 L215.70 321.87 L215.70 330.60 L216.20 330.63 L216.20 322.03 L216.70 322.11 L216.70 330.89 L217.20 332.03 L217.20 322.25 L217.70 322.89 L217.70 330.92 L218.20 331.21 L218.20 326.10 L218.70 320.91 L218.70 331.24 L219.20 332.44 L219.20 323.08 L219.70 324.65 L219.70 330.82 L220.20 331.97 L220.20 326.22 L220.70 325.78 L220.70 331.05 L221.20 331.92 L221.20 326.26 L221.70 324.60 L221.70 331.86 L222.20 330.76 L222.20 322.96 L222.70 324.63 L222.70 330.69 L223.20 330.76 L223.20 325.83 L223.70 326.31 L223.70 331.35 L224.20 331.04 L224.20 325.16 L224.70 324.02 L224.70 331.38 L225.20 331.13 L225.20 325.17 L225.70 325.76 L225.70 330.67 L226.20 330.66 L226.20 325.37 L226.70 325.39 L226.70 331.83 L227.20 331.70 L227.20 326.18 L227.70 326.10 L227.70 331.31 L228.20 332.22 L228.20 323.54 L228.70 317.94 L228.70 330.69 L229.20 331.04 L229.20 323.54 L229.70 325.00 L229.70 330.77 L230.20 331.23 L230.20 325.96 L230.70 326.34 L230.70 331.03 L231.20 330.72 L231.20 326.35 L231.70 326.12 L231.70 330.97 L232.20 330.91 L232.20 326.35 L232.70 325.20 L232.70 331.19 L233.20 330.95 L233.20 324.05 L233.70 325.20 L233.70 331.47 L234.20 332.60 L234.20 326.01 L234.70 326.35 L234.70 330.70 L235.20 331.53 L235.20 326.08 L235.70 326.23 L235.70 330.88 L236.20 331.94 L236.20 325.10 L236.70 323.85 L236.70 331.13 L237.20 330.91 L237.20 323.55 L237.70 323.55 L237.70 330.83 L238.20 330.96 L238.20 323.55 L238.70 323.55 L238.70 331.05 L239.20 331.19 L239.20 323.55 L239.70 323.55 L239.70 331.58 L240.20 331.06 L240.20 321.85 L240.70 321.85 L240.70 331.78 L241.20 331.04 L241.20 321.85 L241.70 321.85 L241.70 331.51 L242.20 331.04 L242.20 321.85 L242.70 323.55 L242.70 331.01 L243.20 331.47 L243.20 323.55 L243.70 323.55 L243.70 330.89 L244.20 330.74 L244.20 323.55 L244.70 323.55 L244.70 330.94 L245.20 331.08 L245.20 323.55 L245.70 324.02 L245.70 330.70 L246.20 331.21 L246.20 326.35 L246.70 326.35 L246.70 330.73 L247.20 330.73 L247.20 326.35 L247.70 324.72 L247.70 331.04 L248.20 332.60 L248.20 324.15 L248.70 325.25 L248.70 330.94 L249.20 331.48 L249.20 326.35 L249.70 326.07 L249.70 330.80 L250.20 330.80 L250.20 326.35 L250.70 325.37 L250.70 332.10 L251.20 330.74 L251.20 326.17 L251.70 325.70 L251.70 330.86 L252.20 331.00 L252.20 325.05 L252.70 325.59 L252.70 331.67 L253.20 331.14 L253.20 326.29 L253.70 325.56 L253.70 331.05 L254.20 330.82 L254.20 325.98 L254.70 326.35 L254.70 331.13 L255.20 331.34 L255.20 326.35 L255.70 324.38 L255.70 331.99 L256.20 330.78 L256.20 325.62 L256.70 326.35 L256.70 330.69 L257.20 330.75 L257.20 325.51 L257.70 325.75 L257.70 330.72 L258.20 330.98 L258.20 325.15 L258.70 324.92 L258.70 331.01 L259.20 332.15 L259.20 325.92 L259.70 326.35 L259.70 331.44 L260.20 331.46 L260.20 326.35 L260.70 325.71 L260.70 330.78 L261.20 330.68 L261.20 323.97 L261.70 325.40 L261.70 330.67 L262.20 331.08 L262.20 326.35 L262.70 324.08 L262.70 330.74 L263.20 332.38 L263.20 319.55 L263.70 324.08 L263.70 330.72 L264.20 331.01 L264.20 326.23 L264.70 326.35 L264.70 331.82 L265.20 331.82 L265.20 326.35 L265.70 326.35 L265.70 331.37 L266.20 331.22 L266.20 325.60 L266.70 324.85 L266.70 330.71 L267.20 330.90 L267.20 325.60 L267.70 326.35 L267.70 330.70 L268.20 331.13 L268.20 326.35 L268.70 325.77 L268.70 331.81 L269.20 331.11 L269.20 326.35 L269.70 326.35 L269.70 330.91 L270.20 330.97 L270.20 324.70 L270.70 324.55 L270.70 331.07 L271.20 331.51 L271.20 325.72 L271.70 326.35 L271.70 330.77 L272.20 330.87 L272.20 320.79 L272.70 323.65 L272.70 331.45 L273.20 330.94 L273.20 321.95 L273.70 324.29 L273.70 331.05 L274.20 330.74 L274.20 326.35 L274.70 326.35 L274.70 330.68 L275.20 330.79 L275.20 324.95 L275.70 323.55 L275.70 330.99 L276.20 332.02 L276.20 323.92 L276.70 325.38 L276.70 331.07 L277.20 330.97 L277.20 326.35 L277.70 325.53 L277.70 332.42 L278.20 332.52 L278.20 325.45 L278.70 324.55 L278.70 331.03 L279.20 331.65 L279.20 325.45 L279.70 326.16 L279.70 331.67 L280.20 331.45 L280.20 326.35 L280.70 326.35 L280.70 331.47 L281.20 330.87 L281.20 326.35 L281.70 326.35 L281.70 330.97 L282.20 331.43 L282.20 326.35 L282.70 326.35 L282.70 332.46 L283.20 330.98 L283.20 325.75 L283.70 324.09 L283.70 331.01 L284.20 330.67 L284.20 325.47 L284.70 319.35 L284.70 330.78 L285.20 332.60 L285.20 317.95 L285.70 319.35 L285.70 330.91 L286.20 331.03 L286.20 323.35 L286.70 323.35 L286.70 331.62 L287.20 330.77 L287.20 323.35 L287.70 317.95 L287.70 330.70 L288.20 331.65 L288.20 309.55 L288.70 317.95 L288.70 330.93 L289.20 330.82 L289.20 323.35 L289.70 323.35 L289.70 331.00 L290.20 331.01 L290.20 321.55 L290.70 323.35 L290.70 330.88 L291.20 331.71 L291.20 321.02 L291.70 318.35 L291.70 330.84 L292.20 331.55 L292.20 318.35 L292.70 318.35 L292.70 331.03 L293.20 330.94 L293.20 321.02 L293.70 326.35 L293.70 330.68 L294.20 331.36 L294.20 326.32 L294.70 326.35 L294.70 330.76 L295.20 330.78 L295.20 326.35 L295.70 323.28 L295.70 331.11 L296.20 331.76 L296.20 321.75 L296.70 323.28 L296.70 331.19 L297.20 331.07 L297.20 325.96 L297.70 324.45 L297.70 330.96 L298.20 331.75 L298.20 322.55 L298.70 324.45 L298.70 330.84 L299.20 330.71 L299.20 325.70 L299.70 323.43 L299.70 332.43 L300.20 330.93 L300.20 325.10 L300.70 323.70 L300.70 330.72 L301.20 331.56 L301.20 325.25 L301.70 324.45 L301.70 330.65 L302.20 330.99 L302.20 322.55 L302.70 324.45 L302.70 331.56 L303.20 331.39 L303.20 326.35 L303.70 326.35 L303.70 330.65 L304.20 330.74 L304.20 326.35 L304.70 326.35 L304.70 332.34 L305.20 331.82 L305.20 323.85 L305.70 323.35 L305.70 332.60 L306.20 330.87 L306.20 319.02 L306.70 317.55 L306.70 331.40 L307.20 331.26 L307.20 319.02 L307.70 323.35 L307.70 330.67 L308.20 330.66 L308.20 323.35 L308.70 323.35 L308.70 332.08 L309.20 330.66 L309.20 323.35 L309.70 321.05 L309.70 330.67 L310.20 330.73 L310.20 323.70 L310.70 326.35 L310.70 330.67 L311.20 331.56 L311.20 326.00 L311.70 324.70 L311.70 330.67 L312.20 330.81 L312.20 323.05 L312.70 324.70 L312.70 331.74 L313.20 330.92 L313.20 325.44 L313.70 326.21 L313.70 330.69 L314.20 331.40 L314.20 326.35 L314.70 324.45 L314.70 331.44 L315.20 330.69 L315.20 322.55 L315.70 324.45 L315.70 331.15 L316.20 331.54 L316.20 326.35 L316.70 326.35 L316.70 330.94 L317.20 330.86 L317.20 326.35 L317.70 326.35 L317.70 330.81 L318.20 331.08 L318.20 325.72 L318.70 324.20 L318.70 330.90 L319.20 330.84 L319.20 322.05 L319.70 324.20 L319.70 330.89 L320.20 331.21 L320.20 326.35 L320.70 326.04 L320.70 331.92 L321.20 331.07 L321.20 326.35 L321.70 326.35 L321.70 330.79 L322.20 331.63 L322.20 326.04 L322.70 326.26 L322.70 331.07 L323.20 330.94 L323.20 321.10 L323.70 320.05 L323.70 330.92 L324.20 331.06 L324.20 321.10 L324.70 326.35 L324.70 331.11 L325.20 331.26 L325.20 326.35 L325.70 326.16 L325.70 332.33 L326.20 331.10 L326.20 323.95 L326.70 321.55 L326.70 331.42 L327.20 331.04 L327.20 323.95 L327.70 323.87 L327.70 331.72 L328.20 330.70 L328.20 325.34 L328.70 322.45 L328.70 331.75 L329.20 331.45 L329.20 318.55 L329.70 322.45 L329.70 330.84 L330.20 331.06 L330.20 326.35 L330.70 323.35 L330.70 332.48 L331.20 331.27 L331.20 322.75 L331.70 316.10 L331.70 330.75 L332.20 330.76 L332.20 314.05 L332.70 316.10 L332.70 331.14 L333.20 332.60 L333.20 322.75 L333.70 321.95 L333.70 331.22 L334.20 330.89 L334.20 317.55 L334.70 321.95 L334.70 330.84 L335.20 332.47 L335.20 322.75 L335.70 318.18 L335.70 330.73 L336.20 331.08 L336.20 316.55 L336.70 318.18 L336.70 330.67 L337.20 330.68 L337.20 322.75 L337.70 322.45 L337.70 331.56 L338.20 330.77 L338.20 318.55 L338.70 322.45 L338.70 330.66 L339.20 330.90 L339.20 322.75 L339.70 319.02 L339.70 330.76 L340.20 330.69 L340.20 317.55 L340.70 319.02 L340.70 331.01 L341.20 331.53 L341.20 322.75 L341.70 322.75 L341.70 330.96 L342.20 331.19 L342.20 319.55 L342.70 322.75 L342.70 330.98 L343.20 332.48 L343.20 322.75 L343.70 319.45 L343.70 331.76 L344.20 331.12 L344.20 305.65 L344.70 319.45 L344.70 331.09 L345.20 331.32 L345.20 325.38 L345.70 326.18 L345.70 330.71 L346.20 330.92 L346.20 323.45 L346.70 320.55 L346.70 330.68 L347.20 331.63 L347.20 323.45 L347.70 326.27 L347.70 331.18 L348.20 330.87 L348.20 322.95 L348.70 319.55 L348.70 331.34 L349.20 331.10 L349.20 322.95 L349.70 318.45 L349.70 330.93 L350.20 331.56 L350.20 310.55 L350.70 318.45 L350.70 331.49 L351.20 331.09 L351.20 326.35 L351.70 326.35 L351.70 330.82 L352.20 331.67 L352.20 325.10"/>
<text class="ti" x="279.90" y="297.90">Margin Factor</text>
<text class="xl" x="279.50" y="352.50">time points</text>
</g>
<g>
<rect class="ax" x="398.45" y="300.50" width="145.00" height="33.00"/>
<text class="t" text-anchor="middle" transform="translate(398.05 342.90) scale(1 1.12)">0</text>
<text class="t" text-anchor="middle" transform="translate(443.85 342.90) scale(1 1.12)">2000</text>
<text class="t" text-anchor="middle" transform="translate(489.65 342.90) scale(1 1.12)">4000</text>
<text class="t" text-anchor="middle" transform="translate(535.45 342.90) scale(1 1.12)">6000</text>
<text class="t" text-anchor="end" transform="translate(396.75 337.45) scale(1 1.12)">-0.4</text>
<text class="t" text-anchor="end" transform="translate(396.75 330.05) scale(1 1.12)">-0.2</text>
<text class="t" text-anchor="end" transform="translate(396.75 323.45) scale(1 1.12)">0</text>
<text class="t" text-anchor="end" transform="translate(396.75 316.85) scale(1 1.12)">0.2</text>
<text class="t" text-anchor="end" transform="translate(396.75 310.25) scale(1 1.12)">0.4</text>
<path class="tk" d="M444.25 333.50 v-2 M444.25 300.50 v2 M490.05 333.50 v-2 M490.05 300.50 v2 M535.85 333.50 v-2 M535.85 300.50 v2 M398.45 326.90 h2 M543.45 326.90 h-2 M398.45 320.30 h2 M543.45 320.30 h-2 M398.45 313.70 h2 M543.45 313.70 h-2 M398.45 307.10 h2 M543.45 307.10 h-2"/>
<path class="b" d="M398.45 322.37 L398.45 313.25 L398.95 314.88 L398.95 322.05 L399.45 322.05 L399.45 315.35 L399.95 315.76 L399.95 322.05 L400.45 322.94 L400.45 315.72 L400.95 316.40 L400.95 323.45 L401.45 322.05 L401.45 316.67 L401.95 316.71 L401.95 322.05 L402.45 324.26 L402.45 316.40 L402.95 316.74 L402.95 323.03 L403.45 322.12 L403.45 316.74 L403.95 316.75 L403.95 322.05 L404.45 322.57 L404.45 316.75 L404.95 316.37 L404.95 322.05 L405.45 322.05 L405.45 316.75 L405.95 316.75 L405.95 322.05 L406.45 322.05 L406.45 315.26 L406.95 315.76 L406.95 324.25 L407.45 322.46 L407.45 316.42 L407.95 316.75 L407.95 322.57 L408.45 322.05 L408.45 316.59 L408.95 316.75 L408.95 322.08 L409.45 322.05 L409.45 313.96 L409.95 315.43 L409.95 322.26 L410.45 322.05 L410.45 315.01 L410.95 316.01 L410.95 322.32 L411.45 322.05 L411.45 316.47 L411.95 316.75 L411.95 322.05 L412.45 322.05 L412.45 316.68 L412.95 316.40 L412.95 322.05 L413.45 322.05 L413.45 316.61 L413.95 315.69 L413.95 322.28 L414.45 322.17 L414.45 315.91 L414.95 316.51 L414.95 322.30 L415.45 323.06 L415.45 316.75 L415.95 316.54 L415.95 322.15 L416.45 322.49 L416.45 316.75 L416.95 316.75 L416.95 322.05 L417.45 322.05 L417.45 316.72 L417.95 316.75 L417.95 322.05 L418.45 322.14 L418.45 316.74 L418.95 316.07 L418.95 322.35 L419.45 322.05 L419.45 316.59 L419.95 315.05 L419.95 323.43 L420.45 322.07 L420.45 315.05 L420.95 315.70 L420.95 322.05 L421.45 322.55 L421.45 315.15 L421.95 316.09 L421.95 322.05 L422.45 322.59 L422.45 315.94 L422.95 316.35 L422.95 322.44 L423.45 322.82 L423.45 316.75 L423.95 314.75 L423.95 322.08 L424.45 322.05 L424.45 316.75 L424.95 316.39 L424.95 322.32 L425.45 322.05 L425.45 315.40 L425.95 316.22 L425.95 322.05 L426.45 322.05 L426.45 316.71 L426.95 316.75 L426.95 322.11 L427.45 322.05 L427.45 316.75 L427.95 316.75 L427.95 322.05 L428.45 322.05 L428.45 316.75 L428.95 316.75 L428.95 322.05 L429.45 322.05 L429.45 316.75 L429.95 316.63 L429.95 323.24 L430.45 322.05 L430.45 315.41 L430.95 316.23 L430.95 322.11 L431.45 322.05 L431.45 316.75 L431.95 316.75 L431.95 322.67 L432.45 322.05 L432.45 314.44 L432.95 315.69 L432.95 322.05 L433.45 322.63 L433.45 316.75 L433.95 315.00 L433.95 322.05 L434.45 322.05 L434.45 316.00 L434.95 316.73 L434.95 322.05 L435.45 322.20 L435.45 314.69 L435.95 315.84 L435.95 322.05 L436.45 322.05 L436.45 316.75 L436.95 316.75 L436.95 322.07 L437.45 322.05 L437.45 316.62 L437.95 316.75 L437.95 322.74 L438.45 322.05 L438.45 316.75 L438.95 315.48 L438.95 322.78 L439.45 322.05 L439.45 316.27 L439.95 316.75 L439.95 322.05 L440.45 322.05 L440.45 316.04 L440.95 316.57 L440.95 322.05 L441.45 322.74 L441.45 316.51 L441.95 316.75 L441.95 322.59 L442.45 322.05 L442.45 316.41 L442.95 316.75 L442.95 322.05 L443.45 322.05 L443.45 316.75 L443.95 316.75 L443.95 322.05 L444.45 322.11 L444.45 316.66 L444.95 316.75 L444.95 322.05 L445.45 322.61 L445.45 316.75 L445.95 316.55 L445.95 322.75 L446.45 322.05 L446.45 315.76 L446.95 316.42 L446.95 322.05 L447.45 322.60 L447.45 316.75 L447.95 316.15 L447.95 322.05 L448.45 322.05 L448.45 316.64 L448.95 316.75 L448.95 322.05 L449.45 323.29 L449.45 316.75 L449.95 315.05 L449.95 322.05 L450.45 322.05 L450.45 316.75 L450.95 316.75 L450.95 322.05 L451.45 322.05 L451.45 316.75 L451.95 316.75 L451.95 322.05 L452.45 322.25 L452.45 316.75 L452.95 316.61 L452.95 322.05 L453.45 322.05 L453.45 316.75 L453.95 316.75 L453.95 322.05 L454.45 322.05 L454.45 316.52 L454.95 315.97 L454.95 322.05 L455.45 322.05 L455.45 316.24 L455.95 315.85 L455.95 325.17 L456.45 322.51 L456.45 316.06 L456.95 316.59 L456.95 322.14 L457.45 322.05 L457.45 316.70 L457.95 316.31 L457.95 322.51 L458.45 322.05 L458.45 316.72 L458.95 316.65 L458.95 322.25 L459.45 322.05 L459.45 316.72 L459.95 316.43 L459.95 322.63 L460.45 322.43 L460.45 314.57 L460.95 315.77 L460.95 322.21 L461.45 322.35 L461.45 316.75 L461.95 316.50 L461.95 322.18 L462.45 322.05 L462.45 316.75 L462.95 316.74 L462.95 322.97 L463.45 322.72 L463.45 316.75 L463.95 316.75 L463.95 323.90 L464.45 322.99 L464.45 316.26 L464.95 316.70 L464.95 322.05 L465.45 322.05 L465.45 316.74 L465.95 316.75 L465.95 322.75 L466.45 322.05 L466.45 316.75 L466.95 316.75 L466.95 322.05 L467.45 322.64 L467.45 316.75 L467.95 316.75 L467.95 322.05 L468.45 322.05 L468.45 316.75 L468.95 315.56 L468.95 322.42 L469.45 322.05 L469.45 316.31 L469.95 314.85 L469.95 322.99 L470.45 323.77 L470.45 316.26 L470.95 316.69 L470.95 322.05 L471.45 324.27 L471.45 316.01 L471.95 316.56 L471.95 322.05 L472.45 322.05 L472.45 316.75 L472.95 316.73 L472.95 322.05 L473.45 323.66 L473.45 316.75 L473.95 316.75 L473.95 322.05 L474.45 322.64 L474.45 316.75 L474.95 315.17 L474.95 322.05 L475.45 322.05 L475.45 316.10 L475.95 316.75 L475.95 322.05 L476.45 322.08 L476.45 316.05 L476.95 315.59 L476.95 322.05 L477.45 322.05 L477.45 315.89 L477.95 315.52 L477.95 324.75 L478.45 322.85 L478.45 315.87 L478.95 316.23 L478.95 322.05 L479.45 322.05 L479.45 316.68 L479.95 313.80 L479.95 323.14 L480.45 322.94 L480.45 315.34 L480.95 316.46 L480.95 322.05 L481.45 322.96 L481.45 316.75 L481.95 316.75 L481.95 322.05 L482.45 323.12 L482.45 316.67 L482.95 316.75 L482.95 322.08 L483.45 322.06 L483.45 316.57 L483.95 314.55 L483.95 322.05 L484.45 322.05 L484.45 316.15 L484.95 316.75 L484.95 322.05 L485.45 322.94 L485.45 316.37 L485.95 316.09 L485.95 322.05 L486.45 322.05 L486.45 314.69 L486.95 315.83 L486.95 322.05 L487.45 322.05 L487.45 316.75 L487.95 316.75 L487.95 322.05 L488.45 323.73 L488.45 316.75 L488.95 315.82 L488.95 322.05 L489.45 322.05 L489.45 316.45 L489.95 316.75 L489.95 322.05 L490.45 322.05 L490.45 316.75 L490.95 316.75 L490.95 322.19 L491.45 322.28 L491.45 316.75 L491.95 316.75 L491.95 322.05 L492.45 324.89 L492.45 315.83 L492.95 316.46 L492.95 322.05 L493.45 322.11 L493.45 316.75 L493.95 316.75 L493.95 322.26 L494.45 322.57 L494.45 316.75 L494.95 316.39 L494.95 324.12 L495.45 322.05 L495.45 316.75 L495.95 316.71 L495.95 322.05 L496.45 323.29 L496.45 316.75 L496.95 316.30 L496.95 322.73 L497.45 322.05 L497.45 316.72 L497.95 316.75 L497.95 322.05 L498.45 322.66 L498.45 316.75 L498.95 316.75 L498.95 322.05 L499.45 322.05 L499.45 316.75 L499.95 314.85 L499.95 322.05 L500.45 322.06 L500.45 316.75 L500.95 315.88 L500.95 322.05 L501.45 322.05 L501.45 316.49 L501.95 316.75 L501.95 322.05 L502.45 322.93 L502.45 316.75 L502.95 316.28 L502.95 322.05 L503.45 323.40 L503.45 316.71 L503.95 316.75 L503.95 322.41 L504.45 322.07 L504.45 316.69 L504.95 316.75 L504.95 322.38 L505.45 322.05 L505.45 315.65 L505.95 316.36 L505.95 322.05 L506.45 322.13 L506.45 316.75 L506.95 316.43 L506.95 322.05 L507.45 322.05 L507.45 316.32 L507.95 316.73 L507.95 322.05 L508.45 322.05 L508.45 316.75 L508.95 316.20 L508.95 322.05 L509.45 322.05 L509.45 316.58 L509.95 316.75 L509.95 322.05 L510.45 322.32 L510.45 316.00 L510.95 316.55 L510.95 323.36 L511.45 322.05 L511.45 316.31 L511.95 314.33 L511.95 322.05 L512.45 323.57 L512.45 315.63 L512.95 316.08 L512.95 322.05 L513.45 322.05 L513.45 315.81 L513.95 316.00 L513.95 322.05 L514.45 322.22 L514.45 316.55 L514.95 316.75 L514.95 322.05 L515.45 322.05 L515.45 316.44 L515.95 316.75 L515.95 323.14 L516.45 322.05 L516.45 316.75 L516.95 316.75 L516.95 322.05 L517.45 322.05 L517.45 316.75 L517.95 316.36 L517.95 322.84 L518.45 322.81 L518.45 316.64 L518.95 316.26 L518.95 322.46 L519.45 324.31 L519.45 316.65 L519.95 316.75 L519.95 324.75 L520.45 322.05 L520.45 316.75 L520.95 316.75 L520.95 322.05 L521.45 322.05 L521.45 316.75 L521.95 315.66 L521.95 322.30 L522.45 322.05 L522.45 316.36 L522.95 316.75 L522.95 322.10 L523.45 322.78 L523.45 316.32 L523.95 316.73 L523.95 322.05 L524.45 322.33 L524.45 316.75 L524.95 316.45 L524.95 322.05 L525.45 322.50 L525.45 316.27 L525.95 316.70 L525.95 322.05 L526.45 323.50 L526.45 316.75 L526.95 316.75 L526.95 322.36 L527.45 322.05 L527.45 315.80 L527.95 316.44 L527.95 322.05 L528.45 323.31 L528.45 316.75 L528.95 316.31 L528.95 322.32 L529.45 322.10 L529.45 316.05 L529.95 316.58 L529.95 322.05 L530.45 322.26 L530.45 316.62 L530.95 316.59 L530.95 322.42 L531.45 322.05 L531.45 316.75 L531.95 316.75 L531.95 322.05 L532.45 322.11 L532.45 316.75 L532.95 316.75 L532.95 322.05 L533.45 324.13 L533.45 316.75 L533.95 315.96 L533.95 322.05 L534.45 322.05 L534.45 316.53 L534.95 316.66 L534.95 322.05 L535.45 322.05 L535.45 314.77 L535.95 314.85 L535.95 322.05 L536.45 322.39 L536.45 315.65 L536.95 316.36 L536.95 322.26 L537.45 322.05 L537.45 315.72 L537.95 316.40 L537.95 322.05 L538.45 322.27 L538.45 316.30 L538.95 316.72 L538.95 322.05 L539.45 322.05 L539.45 316.70 L539.95 316.75 L539.95 322.05 L540.45 327.95 L540.45 316.75 L540.95 316.75 L540.95 322.05 L541.45 322.05 L541.45 316.75 L541.95 316.64 L541.95 322.05 L542.45 322.05 L542.45 316.75 L542.95 316.24 L542.95 322.05 L543.45 322.05 L543.45 304.40"/>
<text class="ti" x="471.15" y="297.90">Mean Frequency</text>
<text class="xl" x="470.75" y="352.50">time points</text>
</g>
<g>
<rect class="ax" x="17.25" y="364.50" width="145.00" height="33.55"/>
<text class="t" text-anchor="middle" transform="translate(16.85 407.45) scale(1 1.12)">0</text>
<text class="t" text-anchor="middle" transform="translate(62.65 407.45) scale(1 1.12)">2000</text>
<text class="t" text-anchor="middle" transform="translate(108.45 407.45) scale(1 1.12)">4000</text>
<text class="t" text-anchor="middle" transform="translate(154.25 407.45) scale(1 1.12)">6000</text>
<text class="t" text-anchor="end" transform="translate(15.55 402.00) scale(1 1.12)">0</text>
<text class="t" text-anchor="end" transform="translate(15.55 379.55) scale(1 1.12)">0.1</text>
<path class="tk" d="M63.05 398.05 v-2 M63.05 364.50 v2 M108.85 398.05 v-2 M108.85 364.50 v2 M154.65 398.05 v-2 M154.65 364.50 v2 M17.25 376.40 h2 M162.25 376.40 h-2"/>
<path class="l" d="M17.25 381.31 L17.25 379.78 L17.75 380.00 L17.75 381.26 L18.25 381.67 L18.25 380.12 L18.75 380.01 L18.75 381.98 L19.25 382.29 L19.25 380.80 L19.75 380.93 L19.75 382.74 L20.25 382.99 L20.25 381.58 L20.75 381.62 L20.75 382.96 L21.25 383.25 L21.25 381.80 L21.75 381.98 L21.75 383.54 L22.25 383.38 L22.25 381.98 L22.75 381.83 L22.75 383.42 L23.25 384.20 L23.25 382.00 L23.75 382.09 L23.75 383.31 L24.25 383.37 L24.25 382.04 L24.75 382.01 L24.75 383.50 L25.25 383.47 L25.25 382.30 L25.75 382.26 L25.75 383.62 L26.25 383.80 L26.25 382.46 L26.75 382.49 L26.75 384.15 L27.25 383.85 L27.25 382.13 L27.75 382.11 L27.75 383.80 L28.25 383.45 L28.25 381.85 L28.75 381.48 L28.75 383.14 L29.25 382.69 L29.25 381.43 L29.75 381.45 L29.75 382.78 L30.25 383.31 L30.25 381.76 L30.75 381.56 L30.75 383.24 L31.25 383.50 L31.25 381.56 L31.75 382.35 L31.75 383.53 L32.25 383.65 L32.25 382.35 L32.75 382.47 L32.75 383.71 L33.25 383.63 L33.25 382.30 L33.75 382.12 L33.75 383.89 L34.25 383.72 L34.25 382.30 L34.75 382.10 L34.75 383.99 L35.25 383.50 L35.25 382.14 L35.75 382.36 L35.75 383.62 L36.25 384.06 L36.25 382.53 L36.75 382.57 L36.75 384.33 L37.25 384.13 L37.25 382.44 L37.75 382.53 L37.75 383.93 L38.25 384.02 L38.25 382.46 L38.75 382.77 L38.75 384.06 L39.25 383.81 L39.25 382.42 L39.75 382.43 L39.75 383.86 L40.25 383.86 L40.25 382.55 L40.75 382.58 L40.75 383.99 L41.25 383.96 L41.25 382.28 L41.75 382.35 L41.75 384.29 L42.25 384.36 L42.25 382.91 L42.75 382.79 L42.75 384.16 L43.25 384.19 L43.25 382.81 L43.75 382.55 L43.75 384.09 L44.25 384.12 L44.25 382.51 L44.75 382.27 L44.75 383.84 L45.25 384.36 L45.25 382.36 L45.75 382.50 L45.75 384.23 L46.25 384.13 L46.25 382.70 L46.75 382.63 L46.75 383.94 L47.25 384.37 L47.25 382.56 L47.75 382.70 L47.75 384.17 L48.25 383.98 L48.25 382.48 L48.75 382.62 L48.75 383.92 L49.25 383.70 L49.25 382.39 L49.75 382.03 L49.75 383.92 L50.25 384.00 L50.25 382.32 L50.75 382.31 L50.75 383.91 L51.25 384.02 L51.25 382.46 L51.75 382.27 L51.75 383.77 L52.25 384.01 L52.25 382.65 L52.75 382.80 L52.75 384.29 L53.25 384.17 L53.25 382.59 L53.75 382.58 L53.75 384.34 L54.25 384.20 L54.25 382.77 L54.75 382.53 L54.75 383.80 L55.25 383.47 L55.25 382.20 L55.75 382.22 L55.75 383.65 L56.25 383.81 L56.25 382.08 L56.75 382.04 L56.75 383.67 L57.25 383.84 L57.25 382.21 L57.75 382.37 L57.75 383.80 L58.25 383.85 L58.25 382.39 L58.75 382.55 L58.75 383.78 L59.25 383.95 L59.25 382.53 L59.75 382.20 L59.75 383.65 L60.25 383.66 L60.25 382.20 L60.75 382.26 L60.75 383.83 L61.25 383.75 L61.25 382.25 L61.75 382.33 L61.75 384.27 L62.25 383.99 L62.25 382.55 L62.75 382.37 L62.75 383.84 L63.25 384.30 L63.25 382.59 L63.75 382.52 L63.75 384.07 L64.25 383.77 L64.25 382.60 L64.75 382.33 L64.75 384.03 L65.25 383.82 L65.25 382.54 L65.75 382.28 L65.75 383.64 L66.25 383.67 L66.25 382.41 L66.75 382.22 L66.75 384.17 L67.25 383.88 L67.25 382.44 L67.75 382.48 L67.75 384.00 L68.25 383.91 L68.25 382.53 L68.75 382.57 L68.75 383.82 L69.25 384.10 L69.25 382.84 L69.75 382.67 L69.75 384.20 L70.25 384.31 L70.25 382.92 L70.75 383.06 L70.75 384.40 L71.25 384.77 L71.25 383.17 L71.75 382.91 L71.75 384.45 L72.25 384.75 L72.25 382.78 L72.75 382.81 L72.75 384.34 L73.25 384.49 L73.25 382.65 L73.75 382.93 L73.75 384.61 L74.25 384.03 L74.25 382.20 L74.75 382.40 L74.75 383.89 L75.25 383.93 L75.25 382.68 L75.75 382.89 L75.75 384.44 L76.25 384.33 L76.25 382.56 L76.75 382.84 L76.75 384.36 L77.25 384.47 L77.25 383.04 L77.75 382.93 L77.75 384.30 L78.25 383.86 L78.25 382.38 L78.75 382.05 L78.75 383.74 L79.25 383.96 L79.25 382.21 L79.75 382.34 L79.75 383.96 L80.25 383.50 L80.25 381.87 L80.75 382.13 L80.75 383.64 L81.25 383.89 L81.25 382.35 L81.75 382.27 L81.75 383.83 L82.25 383.98 L82.25 382.38 L82.75 382.70 L82.75 384.05 L83.25 384.68 L83.25 382.86 L83.75 382.89 L83.75 384.18 L84.25 384.00 L84.25 382.34 L84.75 382.65 L84.75 384.30 L85.25 384.00 L85.25 382.48 L85.75 382.19 L85.75 383.77 L86.25 383.77 L86.25 382.28 L86.75 382.50 L86.75 384.05 L87.25 383.96 L87.25 382.43 L87.75 382.33 L87.75 383.91 L88.25 383.69 L88.25 382.21 L88.75 382.41 L88.75 383.90 L89.25 383.82 L89.25 382.66 L89.75 382.18 L89.75 384.14 L90.25 383.41 L90.25 382.25 L90.75 382.02 L90.75 383.30 L91.25 383.40 L91.25 381.90 L91.75 381.41 L91.75 383.17 L92.25 382.99 L92.25 381.81 L92.75 381.83 L92.75 383.16 L93.25 383.22 L93.25 381.96 L93.75 382.08 L93.75 383.33 L94.25 383.47 L94.25 381.97 L94.75 382.22 L94.75 383.46 L95.25 383.48 L95.25 382.19 L95.75 381.63 L95.75 383.33 L96.25 383.09 L96.25 381.45 L96.75 381.56 L96.75 383.03 L97.25 382.94 L97.25 381.38 L97.75 381.55 L97.75 383.11 L98.25 383.12 L98.25 381.65 L98.75 381.41 L98.75 383.15 L99.25 383.03 L99.25 381.30 L99.75 381.64 L99.75 383.31 L100.25 382.90 L100.25 381.54 L100.75 381.43 L100.75 382.92 L101.25 382.86 L101.25 381.29 L101.75 381.64 L101.75 383.06 L102.25 383.02 L102.25 381.43 L102.75 381.53 L102.75 383.02 L103.25 383.01 L103.25 381.08 L103.75 381.51 L103.75 383.44 L104.25 383.01 L104.25 381.43 L104.75 381.34 L104.75 382.69 L105.25 382.54 L105.25 381.08 L105.75 381.14 L105.75 382.48 L106.25 382.59 L106.25 381.29 L106.75 381.52 L106.75 383.10 L107.25 382.75 L107.25 381.32 L107.75 381.49 L107.75 382.79 L108.25 382.82 L108.25 381.62 L108.75 381.54 L108.75 382.93 L109.25 382.81 L109.25 381.40 L109.75 381.65 L109.75 382.96 L110.25 382.95 L110.25 381.62 L110.75 381.28 L110.75 383.17 L111.25 383.02 L111.25 381.16 L111.75 380.70 L111.75 382.72 L112.25 382.54 L112.25 381.00 L112.75 380.83 L112.75 382.44 L113.25 382.57 L113.25 381.02 L113.75 381.44 L113.75 382.82 L114.25 382.89 L114.25 381.40 L114.75 381.13 L114.75 382.76 L115.25 383.05 L115.25 380.94 L115.75 381.18 L115.75 382.74 L116.25 382.65 L116.25 381.07 L116.75 381.01 L116.75 382.91 L117.25 382.88 L117.25 380.92 L117.75 381.19 L117.75 382.67 L118.25 382.85 L118.25 381.47 L118.75 381.25 L118.75 382.63 L119.25 383.12 L119.25 381.56 L119.75 381.16 L119.75 382.96 L120.25 383.25 L120.25 381.45 L120.75 381.98 L120.75 383.39 L121.25 383.35 L121.25 381.82 L121.75 381.68 L121.75 383.34 L122.25 383.17 L122.25 381.71 L122.75 381.16 L122.75 382.91 L123.25 382.47 L123.25 381.09 L123.75 380.90 L123.75 382.73 L124.25 382.52 L124.25 381.11 L124.75 381.07 L124.75 382.66 L125.25 382.88 L125.25 381.43 L125.75 381.35 L125.75 382.95 L126.25 382.80 L126.25 381.07 L126.75 381.15 L126.75 383.12 L127.25 382.91 L127.25 381.45 L127.75 381.27 L127.75 382.83 L128.25 382.74 L128.25 381.44 L128.75 381.39 L128.75 382.86 L129.25 383.01 L129.25 380.84 L129.75 381.05 L129.75 382.45 L130.25 382.87 L130.25 381.12 L130.75 380.99 L130.75 382.47 L131.25 382.83 L131.25 381.37 L131.75 381.35 L131.75 383.32 L132.25 382.90 L132.25 381.37 L132.75 381.83 L132.75 383.22 L133.25 383.45 L133.25 381.69 L133.75 382.00 L133.75 383.19 L134.25 383.81 L134.25 381.76 L134.75 381.52 L134.75 383.01 L135.25 383.06 L135.25 381.24 L135.75 381.17 L135.75 382.76 L136.25 382.22 L136.25 380.56 L136.75 380.71 L136.75 382.09 L137.25 382.68 L137.25 381.02 L137.75 380.89 L137.75 382.39 L138.25 382.53 L138.25 381.12 L138.75 381.46 L138.75 382.92 L139.25 382.50 L139.25 380.96 L139.75 381.12 L139.75 382.65 L140.25 382.57 L140.25 381.16 L140.75 381.13 L140.75 382.48 L141.25 382.34 L141.25 380.88 L141.75 380.97 L141.75 382.32 L142.25 382.46 L142.25 380.73 L142.75 380.82 L142.75 382.29 L143.25 382.12 L143.25 380.41 L143.75 380.59 L143.75 382.00 L144.25 382.14 L144.25 380.70 L144.75 379.92 L144.75 382.31 L145.25 382.29 L145.25 381.08 L145.75 380.78 L145.75 382.72 L146.25 382.49 L146.25 381.06 L146.75 380.83 L146.75 382.45 L147.25 382.35 L147.25 380.93 L147.75 381.01 L147.75 382.30 L148.25 382.46 L148.25 380.76 L148.75 380.94 L148.75 382.84 L149.25 382.60 L149.25 381.10 L149.75 381.03 L149.75 382.25 L150.25 382.62 L150.25 380.78 L150.75 380.91 L150.75 382.27 L151.25 382.72 L151.25 380.79 L151.75 380.93 L151.75 382.17 L152.25 382.38 L152.25 381.17 L152.75 380.89 L152.75 382.42 L153.25 382.88 L153.25 380.71 L153.75 381.32 L153.75 382.98 L154.25 382.89 L154.25 381.39 L154.75 380.96 L154.75 382.43 L155.25 382.41 L155.25 380.71 L155.75 381.14 L155.75 382.52 L156.25 382.24 L156.25 381.01 L156.75 380.79 L156.75 382.39 L157.25 382.25 L157.25 380.72 L157.75 380.67 L157.75 382.02 L158.25 382.06 L158.25 380.08 L158.75 380.31 L158.75 381.72 L159.25 380.91 L159.25 379.56 L159.75 378.30 L159.75 380.02 L160.25 378.77 L160.25 376.94 L160.75 374.81 L160.75 376.17 L161.25 373.26 L161.25 372.01 L161.75 368.07 L161.75 369.81 L162.25 398.05 L162.25 364.50"/>
<text class="ti" x="89.95" y="361.90">Gravity Frequency</text>
<text class="xl" x="89.55" y="417.05">time points</text>
</g>
<g>
<rect class="ax" x="207.20" y="364.50" width="145.00" height="33.55"/>
<text class="t" text-anchor="middle" transform="translate(206.80 407.45) scale(1 1.12)">0</text>
<text class="t" text-anchor="middle" transform="translate(252.60 407.45) scale(1 1.12)">2000</text>
<text class="t" text-anchor="middle" transform="translate(298.40 407.45) scale(1 1.12)">4000</text>
<text class="t" text-anchor="middle" transform="translate(344.20 407.45) scale(1 1.12)">6000</text>
<text class="t" text-anchor="end" transform="translate(205.50 402.00) scale(1 1.12)">1.22</text>
<text class="t" text-anchor="end" transform="translate(205.50 394.49) scale(1 1.12)">1.24</text>
<text class="t" text-anchor="end" transform="translate(205.50 387.78) scale(1 1.12)">1.26</text>
<text class="t" text-anchor="end" transform="translate(205.50 381.07) scale(1 1.12)">1.28</text>
<text class="t" text-anchor="end" transform="translate(205.50 374.36) scale(1 1.12)">1.3</text>
<text class="t" text-anchor="end" transform="translate(205.50 368.05) scale(1 1.12)">1.32</text>
<path class="tk" d="M253.00 398.05 v-2 M253.00 364.50 v2 M298.80 398.05 v-2 M298.80 364.50 v2 M344.60 398.05 v-2 M344.60 364.50 v2 M207.20 391.34 h2 M352.20 391.34 h-2 M207.20 384.63 h2 M352.20 384.63 h-2 M207.20 377.92 h2 M352.20 377.92 h-2 M207.20 371.21 h2 M352.20 371.21 h-2"/>
<path class="b" d="M207.20 380.87 L207.20 371.21 L207.70 372.11 L207.70 381.94 L208.20 381.77 L208.20 372.80 L208.70 373.28 L208.70 382.37 L209.20 382.80 L209.20 374.22 L209.70 373.21 L209.70 384.32 L210.20 385.03 L210.20 375.25 L210.70 375.69 L210.70 384.58 L211.20 384.45 L211.20 375.96 L211.70 376.51 L211.70 384.35 L212.20 384.70 L212.20 375.92 L212.70 375.81 L212.70 384.11 L213.20 383.92 L213.20 376.19 L213.70 376.33 L213.70 383.59 L214.20 384.40 L214.20 377.43 L214.70 377.41 L214.70 384.32 L215.20 384.92 L215.20 377.51 L215.70 377.19 L215.70 387.83 L216.20 385.20 L216.20 377.89 L216.70 378.15 L216.70 384.97 L217.20 385.75 L217.20 378.50 L217.70 378.40 L217.70 386.44 L218.20 386.78 L218.20 378.33 L218.70 378.45 L218.70 387.01 L219.20 386.53 L219.20 378.22 L219.70 377.86 L219.70 386.89 L220.20 388.05 L220.20 377.93 L220.70 378.44 L220.70 386.19 L221.20 385.27 L221.20 378.23 L221.70 377.81 L221.70 385.04 L222.20 386.19 L222.20 377.47 L222.70 376.86 L222.70 384.99 L223.20 383.52 L223.20 375.80 L223.70 374.76 L223.70 383.47 L224.20 383.07 L224.20 374.97 L224.70 375.40 L224.70 382.86 L225.20 383.19 L225.20 375.34 L225.70 375.15 L225.70 383.54 L226.20 384.55 L226.20 375.51 L226.70 376.07 L226.70 383.76 L227.20 384.68 L227.20 374.54 L227.70 374.80 L227.70 383.44 L228.20 384.57 L228.20 376.65 L228.70 377.72 L228.70 384.67 L229.20 385.59 L229.20 377.04 L229.70 376.86 L229.70 384.88 L230.20 385.20 L230.20 375.94 L230.70 376.87 L230.70 384.79 L231.20 385.07 L231.20 377.06 L231.70 375.64 L231.70 384.42 L232.20 383.50 L232.20 376.03 L232.70 376.18 L232.70 384.04 L233.20 384.02 L233.20 376.77 L233.70 375.85 L233.70 384.06 L234.20 385.55 L234.20 375.35 L234.70 375.94 L234.70 385.02 L235.20 384.98 L235.20 376.28 L235.70 376.27 L235.70 386.35 L236.20 386.58 L236.20 374.31 L236.70 375.35 L236.70 386.38 L237.20 385.46 L237.20 376.00 L237.70 375.66 L237.70 386.15 L238.20 384.97 L238.20 374.33 L238.70 374.98 L238.70 384.70 L239.20 384.75 L239.20 374.84 L239.70 374.88 L239.70 384.88 L240.20 384.48 L240.20 373.61 L240.70 373.73 L240.70 383.42 L241.20 383.42 L241.20 372.51 L241.70 373.91 L241.70 383.07 L242.20 383.57 L242.20 374.32 L242.70 375.35 L242.70 383.88 L243.20 384.87 L243.20 374.95 L243.70 375.47 L243.70 383.02 L244.20 384.43 L244.20 375.83 L244.70 376.25 L244.70 383.01 L245.20 383.53 L245.20 376.43 L245.70 376.70 L245.70 383.30 L246.20 383.25 L246.20 376.94 L246.70 376.57 L246.70 383.50 L247.20 383.98 L247.20 377.01 L247.70 375.33 L247.70 384.72 L248.20 384.74 L248.20 376.51 L248.70 376.45 L248.70 386.13 L249.20 386.28 L249.20 377.11 L249.70 377.06 L249.70 385.80 L250.20 386.09 L250.20 376.98 L250.70 376.91 L250.70 386.79 L251.20 387.01 L251.20 377.03 L251.70 377.39 L251.70 386.93 L252.20 386.39 L252.20 377.53 L252.70 376.85 L252.70 386.74 L253.20 385.92 L253.20 377.96 L253.70 376.18 L253.70 385.51 L254.20 385.27 L254.20 376.68 L254.70 377.46 L254.70 384.62 L255.20 386.29 L255.20 377.70 L255.70 378.16 L255.70 386.29 L256.20 385.43 L256.20 377.85 L256.70 378.15 L256.70 386.28 L257.20 385.56 L257.20 377.09 L257.70 378.00 L257.70 386.25 L258.20 385.57 L258.20 377.32 L258.70 378.78 L258.70 386.38 L259.20 386.60 L259.20 379.02 L259.70 379.39 L259.70 386.47 L260.20 387.35 L260.20 379.47 L260.70 379.71 L260.70 386.26 L261.20 386.66 L261.20 379.81 L261.70 379.43 L261.70 388.07 L262.20 386.72 L262.20 378.64 L262.70 379.41 L262.70 387.56 L263.20 387.22 L263.20 378.25 L263.70 379.01 L263.70 386.49 L264.20 386.78 L264.20 378.54 L264.70 378.63 L264.70 386.75 L265.20 386.12 L265.20 376.90 L265.70 377.44 L265.70 386.56 L266.20 387.26 L266.20 378.54 L266.70 377.35 L266.70 386.89 L267.20 386.85 L267.20 377.73 L267.70 377.85 L267.70 386.66 L268.20 386.64 L268.20 378.03 L268.70 377.93 L268.70 386.98 L269.20 387.88 L269.20 378.18 L269.70 378.58 L269.70 387.17 L270.20 387.47 L270.20 378.39 L270.70 378.76 L270.70 386.93 L271.20 386.64 L271.20 377.81 L271.70 377.91 L271.70 386.66 L272.20 385.81 L272.20 377.96 L272.70 377.41 L272.70 385.98 L273.20 385.32 L273.20 378.09 L273.70 378.46 L273.70 385.99 L274.20 386.04 L274.20 378.53 L274.70 378.29 L274.70 385.65 L275.20 386.62 L275.20 377.52 L275.70 376.28 L275.70 385.71 L276.20 386.30 L276.20 377.51 L276.70 377.32 L276.70 386.83 L277.20 386.40 L277.20 377.48 L277.70 377.32 L277.70 387.48 L278.20 386.56 L278.20 377.08 L278.70 377.07 L278.70 387.20 L279.20 386.48 L279.20 376.89 L279.70 377.06 L279.70 386.11 L280.20 386.20 L280.20 377.45 L280.70 377.39 L280.70 386.16 L281.20 387.53 L281.20 377.43 L281.70 376.71 L281.70 385.65 L282.20 385.80 L282.20 375.43 L282.70 376.96 L282.70 385.69 L283.20 385.52 L283.20 377.62 L283.70 378.00 L283.70 385.56 L284.20 386.26 L284.20 378.13 L284.70 377.96 L284.70 385.83 L285.20 386.68 L285.20 378.33 L285.70 378.51 L285.70 385.86 L286.20 387.15 L286.20 378.50 L286.70 378.43 L286.70 385.35 L287.20 385.13 L287.20 377.73 L287.70 377.44 L287.70 385.52 L288.20 386.16 L288.20 376.91 L288.70 376.48 L288.70 385.89 L289.20 385.49 L289.20 376.28 L289.70 375.62 L289.70 384.71 L290.20 387.25 L290.20 376.77 L290.70 377.07 L290.70 385.20 L291.20 385.12 L291.20 377.55 L291.70 377.73 L291.70 385.66 L292.20 385.58 L292.20 377.75 L292.70 377.22 L292.70 386.46 L293.20 385.44 L293.20 377.79 L293.70 377.87 L293.70 385.14 L294.20 385.81 L294.20 376.26 L294.70 377.05 L294.70 384.21 L295.20 384.17 L295.20 376.52 L295.70 376.51 L295.70 384.17 L296.20 384.27 L296.20 375.74 L296.70 376.80 L296.70 384.03 L297.20 384.60 L297.20 377.42 L297.70 377.42 L297.70 384.20 L298.20 384.19 L298.20 377.47 L298.70 376.87 L298.70 384.71 L299.20 384.90 L299.20 377.44 L299.70 377.54 L299.70 385.24 L300.20 384.87 L300.20 377.11 L300.70 377.13 L300.70 384.63 L301.20 384.74 L301.20 375.82 L301.70 377.00 L301.70 384.11 L302.20 384.61 L302.20 377.86 L302.70 377.91 L302.70 384.92 L303.20 385.55 L303.20 376.85 L303.70 377.91 L303.70 385.47 L304.20 385.72 L304.20 377.47 L304.70 377.67 L304.70 385.89 L305.20 386.38 L305.20 377.89 L305.70 377.85 L305.70 385.63 L306.20 385.92 L306.20 378.00 L306.70 377.91 L306.70 385.76 L307.20 385.60 L307.20 378.00 L307.70 376.54 L307.70 385.37 L308.20 385.11 L308.20 377.16 L308.70 377.85 L308.70 385.49 L309.20 386.26 L309.20 375.70 L309.70 377.52 L309.70 385.75 L310.20 385.50 L310.20 377.93 L310.70 378.32 L310.70 384.72 L311.20 384.84 L311.20 378.19 L311.70 378.54 L311.70 385.03 L312.20 384.97 L312.20 377.38 L312.70 377.54 L312.70 384.65 L313.20 384.59 L313.20 377.86 L313.70 377.03 L313.70 383.97 L314.20 384.63 L314.20 376.68 L314.70 375.86 L314.70 384.16 L315.20 385.28 L315.20 376.19 L315.70 376.08 L315.70 385.39 L316.20 385.00 L316.20 376.73 L316.70 375.96 L316.70 385.54 L317.20 383.96 L317.20 376.11 L317.70 376.74 L317.70 383.54 L318.20 384.99 L318.20 377.54 L318.70 377.76 L318.70 384.47 L319.20 384.68 L319.20 376.72 L319.70 377.72 L319.70 384.41 L320.20 384.25 L320.20 374.95 L320.70 375.93 L320.70 384.89 L321.20 384.81 L321.20 375.93 L321.70 376.66 L321.70 384.24 L322.20 383.80 L322.20 376.54 L322.70 376.39 L322.70 384.05 L323.20 383.86 L323.20 375.27 L323.70 375.93 L323.70 385.57 L324.20 384.14 L324.20 376.55 L324.70 375.10 L324.70 383.90 L325.20 384.84 L325.20 376.25 L325.70 377.01 L325.70 385.21 L326.20 385.20 L326.20 377.52 L326.70 376.73 L326.70 384.96 L327.20 384.68 L327.20 376.79 L327.70 377.17 L327.70 384.62 L328.20 384.85 L328.20 377.10 L328.70 376.27 L328.70 384.95 L329.20 385.13 L329.20 376.53 L329.70 376.93 L329.70 385.31 L330.20 385.92 L330.20 376.91 L330.70 375.79 L330.70 385.93 L331.20 386.59 L331.20 373.96 L331.70 376.21 L331.70 386.21 L332.20 385.78 L332.20 377.19 L332.70 377.36 L332.70 386.67 L333.20 385.55 L333.20 377.69 L333.70 377.53 L333.70 386.10 L334.20 385.83 L334.20 377.41 L334.70 377.14 L334.70 385.05 L335.20 385.01 L335.20 376.99 L335.70 375.98 L335.70 386.53 L336.20 385.90 L336.20 374.63 L336.70 375.91 L336.70 385.92 L337.20 386.07 L337.20 376.99 L337.70 376.68 L337.70 386.31 L338.20 385.06 L338.20 377.02 L338.70 376.80 L338.70 384.38 L339.20 385.44 L339.20 376.22 L339.70 376.31 L339.70 384.04 L340.20 385.83 L340.20 375.10 L340.70 374.88 L340.70 383.62 L341.20 384.46 L341.20 373.72 L341.70 374.66 L341.70 383.08 L342.20 383.92 L342.20 375.75 L342.70 376.57 L342.70 386.06 L343.20 384.88 L343.20 376.32 L343.70 374.46 L343.70 385.80 L344.20 385.19 L344.20 369.97 L344.70 374.47 L344.70 385.30 L345.20 385.23 L345.20 376.94 L345.70 377.25 L345.70 386.54 L346.20 386.18 L346.20 377.73 L346.70 377.93 L346.70 385.27 L347.20 385.18 L347.20 377.88 L347.70 377.86 L347.70 384.79 L348.20 385.41 L348.20 376.23 L348.70 377.11 L348.70 384.72 L349.20 384.85 L349.20 377.18 L349.70 376.39 L349.70 385.56 L350.20 385.00 L350.20 377.16 L350.70 376.64 L350.70 384.58 L351.20 384.52 L351.20 376.93 L351.70 367.65 L351.70 385.07 L352.20 395.31 L352.20 370.09"/>
<text class="ti" x="279.90" y="361.90">Root Mean Square Frequency</text>
<text class="xl" x="279.50" y="417.05">time points</text>
</g>
<g>
<rect class="ax" x="398.45" y="364.50" width="145.00" height="33.55"/>
<text class="t" text-anchor="middle" transform="translate(398.05 407.45) scale(1 1.12)">0</text>
<text class="t" text-anchor="middle" transform="translate(443.85 407.45) scale(1 1.12)">2000</text>
<text class="t" text-anchor="middle" transform="translate(489.65 407.45) scale(1 1.12)">4000</text>
<text class="t" text-anchor="middle" transform="translate(535.45 407.45) scale(1 1.12)">6000</text>
<text class="t" text-anchor="end" transform="translate(396.75 402.00) scale(1 1.12)">0</text>
<text class="t" text-anchor="end" transform="translate(396.75 384.43) scale(1 1.12)">10</text>
<text class="t" text-anchor="end" transform="translate(396.75 368.05) scale(1 1.12)">20</text>
<path class="tk" d="M444.25 398.05 v-2 M444.25 364.50 v2 M490.05 398.05 v-2 M490.05 364.50 v2 M535.85 398.05 v-2 M535.85 364.50 v2 M398.45 381.27 h2 M543.45 381.27 h-2"/>
<path class="b" d="M398.45 384.93 L398.45 371.23 L398.95 373.35 L398.95 385.43 L399.45 384.79 L399.45 374.77 L399.95 375.87 L399.95 385.51 L400.45 384.83 L400.45 376.53 L400.95 377.99 L400.95 384.95 L401.45 384.98 L401.45 378.17 L401.95 378.04 L401.95 385.83 L402.45 384.99 L402.45 377.37 L402.95 375.05 L402.95 384.88 L403.45 384.71 L403.45 373.42 L403.95 375.39 L403.95 384.71 L404.45 385.18 L404.45 378.65 L404.95 379.47 L404.95 385.03 L405.45 384.85 L405.45 378.14 L405.95 378.36 L405.95 385.07 L406.45 385.80 L406.45 379.18 L406.95 378.12 L406.95 384.86 L407.45 384.73 L407.45 376.69 L407.95 378.18 L407.95 385.15 L408.45 384.84 L408.45 379.66 L408.95 379.66 L408.95 385.74 L409.45 384.95 L409.45 379.03 L409.95 379.56 L409.95 384.75 L410.45 384.81 L410.45 379.04 L410.95 376.39 L410.95 385.11 L411.45 385.11 L411.45 377.05 L411.95 375.73 L411.95 384.86 L412.45 384.86 L412.45 377.05 L412.95 379.68 L412.95 385.44 L413.45 386.15 L413.45 379.37 L413.95 378.17 L413.95 385.57 L414.45 385.16 L414.45 378.38 L414.95 377.05 L414.95 384.78 L415.45 384.74 L415.45 378.38 L415.95 379.56 L415.95 384.78 L416.45 385.17 L416.45 379.27 L416.95 379.22 L416.95 385.38 L417.45 384.72 L417.45 379.48 L417.95 379.70 L417.95 384.92 L418.45 384.73 L418.45 379.70 L418.95 377.90 L418.95 384.80 L419.45 385.69 L419.45 374.31 L419.95 377.28 L419.95 384.92 L420.45 385.15 L420.45 378.61 L420.95 379.70 L420.95 385.58 L421.45 384.74 L421.45 379.43 L421.95 379.58 L421.95 384.78 L422.45 384.71 L422.45 377.97 L422.95 376.24 L422.95 384.98 L423.45 385.30 L423.45 377.97 L423.95 379.70 L423.95 385.38 L424.45 385.47 L424.45 379.28 L424.95 379.70 L424.95 385.01 L425.45 384.82 L425.45 378.47 L425.95 379.26 L425.95 385.72 L426.45 384.97 L426.45 379.04 L426.95 379.58 L426.95 384.77 L427.45 384.71 L427.45 379.70 L427.95 379.49 L427.95 384.95 L428.45 384.80 L428.45 379.66 L428.95 378.85 L428.95 385.12 L429.45 385.95 L429.45 376.36 L429.95 375.73 L429.95 385.12 L430.45 384.72 L430.45 377.72 L430.95 379.70 L430.95 385.19 L431.45 384.85 L431.45 379.37 L431.95 379.70 L431.95 384.76 L432.45 384.76 L432.45 378.89 L432.95 377.82 L432.95 385.36 L433.45 386.00 L433.45 375.94 L433.95 377.82 L433.95 384.77 L434.45 384.75 L434.45 379.43 L434.95 379.53 L434.95 386.10 L435.45 385.23 L435.45 379.70 L435.95 379.70 L435.95 385.40 L436.45 384.78 L436.45 378.22 L436.95 376.75 L436.95 385.42 L437.45 385.45 L437.45 378.22 L437.95 379.70 L437.95 384.96 L438.45 385.23 L438.45 379.70 L438.95 379.70 L438.95 384.94 L439.45 385.59 L439.45 379.70 L439.95 378.97 L439.95 384.77 L440.45 384.71 L440.45 377.87 L440.95 376.04 L440.95 384.81 L441.45 385.36 L441.45 377.87 L441.95 378.73 L441.95 384.71 L442.45 384.76 L442.45 379.34 L442.95 378.95 L442.95 385.25 L443.45 384.71 L443.45 379.09 L443.95 378.90 L443.95 385.37 L444.45 385.02 L444.45 379.50 L444.95 379.60 L444.95 384.94 L445.45 385.07 L445.45 379.70 L445.95 379.70 L445.95 385.00 L446.45 384.73 L446.45 378.22 L446.95 376.75 L446.95 384.97 L447.45 384.87 L447.45 378.22 L447.95 377.68 L447.95 384.82 L448.45 384.86 L448.45 378.83 L448.95 379.57 L448.95 384.82 L449.45 385.68 L449.45 379.70 L449.95 379.70 L449.95 384.84 L450.45 385.20 L450.45 379.70 L450.95 379.23 L450.95 384.82 L451.45 385.53 L451.45 379.68 L451.95 379.70 L451.95 385.11 L452.45 384.84 L452.45 379.63 L452.95 378.63 L452.95 384.72 L453.45 384.94 L453.45 377.70 L453.95 373.70 L453.95 385.39 L454.45 384.70 L454.45 377.70 L454.95 379.70 L454.95 384.85 L455.45 385.20 L455.45 379.70 L455.95 379.70 L455.95 384.88 L456.45 385.27 L456.45 379.13 L456.95 379.63 L456.95 385.31 L457.45 385.63 L457.45 377.97 L457.95 376.24 L457.95 385.07 L458.45 384.86 L458.45 377.97 L458.95 379.69 L458.95 385.10 L459.45 385.04 L459.45 379.70 L459.95 379.70 L459.95 384.79 L460.45 384.95 L460.45 379.70 L460.95 379.70 L460.95 384.94 L461.45 384.73 L461.45 378.94 L461.95 378.98 L461.95 384.75 L462.45 384.91 L462.45 378.12 L462.95 376.55 L462.95 384.77 L463.45 384.96 L463.45 378.12 L463.95 379.27 L463.95 384.72 L464.45 385.32 L464.45 379.32 L464.95 378.93 L464.95 385.78 L465.45 385.10 L465.45 379.52 L465.95 377.26 L465.95 384.75 L466.45 384.81 L466.45 376.04 L466.95 377.26 L466.95 384.78 L467.45 385.24 L467.45 379.70 L467.95 379.29 L467.95 384.80 L468.45 384.75 L468.45 379.70 L468.95 379.70 L468.95 385.51 L469.45 385.76 L469.45 378.12 L469.95 376.55 L469.95 385.82 L470.45 384.94 L470.45 378.12 L470.95 379.70 L470.95 384.70 L471.45 384.96 L471.45 379.11 L471.95 379.56 L471.95 384.83 L472.45 385.15 L472.45 379.48 L472.95 376.39 L472.95 384.80 L473.45 385.58 L473.45 375.73 L473.95 376.39 L473.95 385.28 L474.45 386.25 L474.45 379.70 L474.95 378.09 L474.95 384.83 L475.45 384.97 L475.45 379.05 L475.95 375.36 L475.95 384.72 L476.45 385.05 L476.45 373.19 L476.95 375.36 L476.95 384.71 L477.45 385.56 L477.45 379.70 L477.95 378.80 L477.95 384.96 L478.45 384.76 L478.45 373.19 L478.95 369.94 L478.95 384.82 L479.45 385.15 L479.45 373.19 L479.95 379.08 L479.95 384.97 L480.45 384.78 L480.45 379.70 L480.95 379.70 L480.95 384.74 L481.45 384.83 L481.45 378.56 L481.95 379.31 L481.95 386.55 L482.45 385.26 L482.45 378.58 L482.95 372.99 L482.95 385.02 L483.45 384.78 L483.45 372.99 L483.95 372.99 L483.95 384.94 L484.45 385.20 L484.45 378.58 L484.95 378.74 L484.95 384.86 L485.45 385.06 L485.45 379.41 L485.95 379.23 L485.95 385.06 L486.45 385.00 L486.45 379.68 L486.95 379.60 L486.95 385.46 L487.45 385.63 L487.45 378.63 L487.95 379.35 L487.95 384.78 L488.45 384.91 L488.45 379.70 L488.95 379.39 L488.95 384.84 L489.45 384.91 L489.45 377.97 L489.95 376.24 L489.95 385.92 L490.45 385.17 L490.45 377.97 L490.95 379.70 L490.95 384.76 L491.45 384.90 L491.45 378.86 L491.95 379.48 L491.95 384.70 L492.45 384.99 L492.45 379.54 L492.95 379.70 L492.95 385.05 L493.45 385.08 L493.45 377.97 L493.95 376.24 L493.95 384.75 L494.45 385.93 L494.45 377.97 L494.95 379.70 L494.95 385.48 L495.45 384.71 L495.45 379.70 L495.95 379.53 L495.95 384.90 L496.45 384.76 L496.45 378.61 L496.95 373.19 L496.95 384.95 L497.45 384.80 L497.45 373.19 L497.95 373.19 L497.95 384.73 L498.45 384.95 L498.45 378.61 L498.95 378.78 L498.95 384.78 L499.45 384.82 L499.45 379.43 L499.95 379.63 L499.95 385.08 L500.45 384.93 L500.45 377.72 L500.95 375.73 L500.95 384.78 L501.45 385.36 L501.45 377.72 L501.95 379.70 L501.95 385.34 L502.45 384.75 L502.45 379.48 L502.95 379.70 L502.95 385.53 L503.45 385.12 L503.45 379.70 L503.95 379.70 L503.95 385.14 L504.45 385.40 L504.45 379.70 L504.95 379.70 L504.95 384.82 L505.45 384.73 L505.45 378.49 L505.95 378.68 L505.95 385.14 L506.45 384.71 L506.45 377.97 L506.95 376.24 L506.95 384.86 L507.45 384.85 L507.45 377.97 L507.95 379.04 L507.95 384.78 L508.45 384.83 L508.45 378.51 L508.95 379.28 L508.95 385.59 L509.45 384.75 L509.45 379.51 L509.95 378.23 L509.95 385.04 L510.45 384.76 L510.45 376.75 L510.95 378.23 L510.95 384.77 L511.45 385.88 L511.45 379.18 L511.95 379.70 L511.95 384.82 L512.45 385.22 L512.45 379.22 L512.95 379.67 L512.95 384.78 L513.45 385.35 L513.45 377.46 L513.95 375.23 L513.95 384.80 L514.45 385.06 L514.45 377.46 L514.95 377.73 L514.95 385.04 L515.45 385.48 L515.45 378.85 L515.95 378.09 L515.95 384.82 L516.45 385.31 L516.45 379.05 L516.95 379.70 L516.95 384.83 L517.45 384.71 L517.45 379.70 L517.95 379.70 L517.95 384.71 L518.45 385.86 L518.45 377.21 L518.95 374.72 L518.95 385.05 L519.45 385.55 L519.45 377.21 L519.95 378.75 L519.95 384.83 L520.45 384.84 L520.45 379.42 L520.95 379.70 L520.95 384.94 L521.45 385.09 L521.45 379.70 L521.95 379.70 L521.95 385.44 L522.45 385.27 L522.45 373.33 L522.95 370.14 L522.95 385.04 L523.45 385.30 L523.45 373.33 L523.95 379.70 L523.95 384.96 L524.45 384.87 L524.45 376.95 L524.95 374.21 L524.95 385.04 L525.45 384.86 L525.45 376.95 L525.95 379.13 L525.95 384.92 L526.45 385.11 L526.45 379.63 L526.95 374.34 L526.95 384.92 L527.45 384.84 L527.45 371.67 L527.95 374.34 L527.95 385.51 L528.45 385.14 L528.45 379.70 L528.95 379.36 L528.95 385.23 L529.45 385.86 L529.45 378.09 L529.95 379.05 L529.95 384.86 L530.45 384.85 L530.45 379.70 L530.95 375.02 L530.95 386.06 L531.45 384.79 L531.45 372.68 L531.95 375.02 L531.95 385.03 L532.45 384.77 L532.45 379.60 L532.95 379.70 L532.95 384.87 L533.45 385.15 L533.45 379.70 L533.95 377.04 L533.95 384.72 L534.45 384.74 L534.45 375.02 L534.95 372.68 L534.95 384.92 L535.45 385.68 L535.45 375.02 L535.95 379.21 L535.95 385.73 L536.45 384.77 L536.45 379.67 L536.95 379.70 L536.95 385.50 L537.45 384.88 L537.45 377.46 L537.95 375.23 L537.95 384.75 L538.45 384.95 L538.45 377.46 L538.95 379.70 L538.95 384.99 L539.45 384.87 L539.45 379.70 L539.95 379.38 L539.95 384.80 L540.45 385.77 L540.45 379.70 L540.95 379.04 L540.95 384.72 L541.45 385.56 L541.45 364.50 L541.95 370.09 L541.95 384.87 L542.45 384.72 L542.45 379.70 L542.95 378.98 L542.95 384.72 L543.45 394.90 L543.45 379.54"/>
<text class="ti" x="471.15" y="361.90">Root Variance Frequency</text>
<text class="xl" x="470.75" y="417.05">time points</text>
</g>
<text class="cap" x="260.8" y="437.9">(c)</text>
</svg>
</body></html>
